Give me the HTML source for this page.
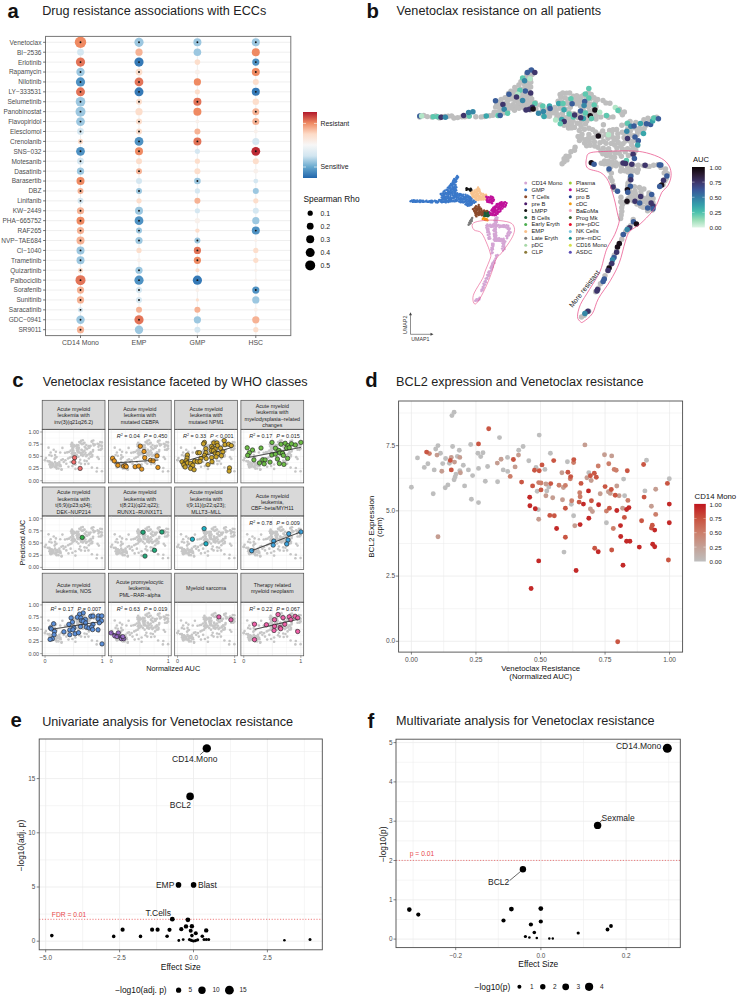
<!DOCTYPE html>
<html><head><meta charset="utf-8"><style>
html,body{margin:0;padding:0;background:#fff;width:737px;height:1000px;overflow:hidden}
svg{display:block;font-family:"Liberation Sans",sans-serif}
</style></head><body>
<svg width="737" height="1000" viewBox="0 0 737 1000">
<rect width="737" height="1000" fill="#fff"/>
<g stroke="#ebebeb" stroke-width="0.8">
<line x1="45.5" y1="42.30" x2="290.8" y2="42.30"/>
<line x1="45.5" y1="52.21" x2="290.8" y2="52.21"/>
<line x1="45.5" y1="62.12" x2="290.8" y2="62.12"/>
<line x1="45.5" y1="72.03" x2="290.8" y2="72.03"/>
<line x1="45.5" y1="81.94" x2="290.8" y2="81.94"/>
<line x1="45.5" y1="91.85" x2="290.8" y2="91.85"/>
<line x1="45.5" y1="101.76" x2="290.8" y2="101.76"/>
<line x1="45.5" y1="111.67" x2="290.8" y2="111.67"/>
<line x1="45.5" y1="121.58" x2="290.8" y2="121.58"/>
<line x1="45.5" y1="131.49" x2="290.8" y2="131.49"/>
<line x1="45.5" y1="141.40" x2="290.8" y2="141.40"/>
<line x1="45.5" y1="151.31" x2="290.8" y2="151.31"/>
<line x1="45.5" y1="161.22" x2="290.8" y2="161.22"/>
<line x1="45.5" y1="171.13" x2="290.8" y2="171.13"/>
<line x1="45.5" y1="181.04" x2="290.8" y2="181.04"/>
<line x1="45.5" y1="190.95" x2="290.8" y2="190.95"/>
<line x1="45.5" y1="200.86" x2="290.8" y2="200.86"/>
<line x1="45.5" y1="210.77" x2="290.8" y2="210.77"/>
<line x1="45.5" y1="220.68" x2="290.8" y2="220.68"/>
<line x1="45.5" y1="230.59" x2="290.8" y2="230.59"/>
<line x1="45.5" y1="240.50" x2="290.8" y2="240.50"/>
<line x1="45.5" y1="250.41" x2="290.8" y2="250.41"/>
<line x1="45.5" y1="260.32" x2="290.8" y2="260.32"/>
<line x1="45.5" y1="270.23" x2="290.8" y2="270.23"/>
<line x1="45.5" y1="280.14" x2="290.8" y2="280.14"/>
<line x1="45.5" y1="290.05" x2="290.8" y2="290.05"/>
<line x1="45.5" y1="299.96" x2="290.8" y2="299.96"/>
<line x1="45.5" y1="309.87" x2="290.8" y2="309.87"/>
<line x1="45.5" y1="319.78" x2="290.8" y2="319.78"/>
<line x1="45.5" y1="329.69" x2="290.8" y2="329.69"/>
<line x1="80.5" y1="36.4" x2="80.5" y2="335.6"/>
<line x1="139.0" y1="36.4" x2="139.0" y2="335.6"/>
<line x1="197.4" y1="36.4" x2="197.4" y2="335.6"/>
<line x1="255.8" y1="36.4" x2="255.8" y2="335.6"/>
</g>
<circle cx="80.5" cy="42.30" r="5.7" fill="#ef8a62"/>
<circle cx="80.5" cy="42.30" r="0.95" fill="#111"/>
<circle cx="139.0" cy="42.30" r="4.6" fill="#9cc7e0"/>
<circle cx="139.0" cy="42.30" r="0.95" fill="#111"/>
<circle cx="197.4" cy="42.30" r="4.0" fill="#9cc7e0"/>
<circle cx="197.4" cy="42.30" r="0.95" fill="#111"/>
<circle cx="255.8" cy="42.30" r="4.0" fill="#9cc7e0"/>
<circle cx="255.8" cy="42.30" r="0.95" fill="#111"/>
<circle cx="80.5" cy="52.21" r="3.4" fill="#d5e7f1"/>
<circle cx="139.0" cy="52.21" r="3.6" fill="#f6b294"/>
<circle cx="197.4" cy="52.21" r="3.8" fill="#9cc7e0"/>
<circle cx="255.8" cy="52.21" r="4.0" fill="#ef8a62"/>
<circle cx="80.5" cy="62.12" r="4.6" fill="#e37458"/>
<circle cx="80.5" cy="62.12" r="0.95" fill="#111"/>
<circle cx="139.0" cy="62.12" r="4.6" fill="#367ab7"/>
<circle cx="139.0" cy="62.12" r="0.95" fill="#111"/>
<circle cx="197.4" cy="62.12" r="2.8" fill="#fcdecc"/>
<circle cx="255.8" cy="62.12" r="3.6" fill="#4f92c3"/>
<circle cx="255.8" cy="62.12" r="0.95" fill="#111"/>
<circle cx="80.5" cy="72.03" r="4.2" fill="#9cc7e0"/>
<circle cx="80.5" cy="72.03" r="0.95" fill="#111"/>
<circle cx="139.0" cy="72.03" r="3.4" fill="#fcdecc"/>
<circle cx="139.0" cy="72.03" r="0.95" fill="#111"/>
<circle cx="197.4" cy="72.03" r="2.5" fill="#f8f0eb"/>
<circle cx="255.8" cy="72.03" r="4.0" fill="#ef8a62"/>
<circle cx="255.8" cy="72.03" r="0.95" fill="#111"/>
<circle cx="80.5" cy="81.94" r="4.6" fill="#4f92c3"/>
<circle cx="80.5" cy="81.94" r="0.95" fill="#111"/>
<circle cx="139.0" cy="81.94" r="4.4" fill="#e37458"/>
<circle cx="139.0" cy="81.94" r="0.95" fill="#111"/>
<circle cx="197.4" cy="81.94" r="3.6" fill="#ef8a62"/>
<circle cx="255.8" cy="81.94" r="3.0" fill="#fcdecc"/>
<circle cx="80.5" cy="91.85" r="4.5" fill="#e37458"/>
<circle cx="80.5" cy="91.85" r="0.95" fill="#111"/>
<circle cx="139.0" cy="91.85" r="4.5" fill="#367ab7"/>
<circle cx="139.0" cy="91.85" r="0.95" fill="#111"/>
<circle cx="197.4" cy="91.85" r="2.6" fill="#fcdecc"/>
<circle cx="255.8" cy="91.85" r="4.0" fill="#367ab7"/>
<circle cx="255.8" cy="91.85" r="0.95" fill="#111"/>
<circle cx="80.5" cy="101.76" r="4.8" fill="#9cc7e0"/>
<circle cx="80.5" cy="101.76" r="0.95" fill="#111"/>
<circle cx="139.0" cy="101.76" r="3.0" fill="#fcdecc"/>
<circle cx="139.0" cy="101.76" r="0.95" fill="#111"/>
<circle cx="197.4" cy="101.76" r="4.0" fill="#e37458"/>
<circle cx="197.4" cy="101.76" r="0.95" fill="#111"/>
<circle cx="255.8" cy="101.76" r="3.2" fill="#fcdecc"/>
<circle cx="80.5" cy="111.67" r="5.0" fill="#9cc7e0"/>
<circle cx="80.5" cy="111.67" r="0.95" fill="#111"/>
<circle cx="139.0" cy="111.67" r="3.6" fill="#fcdecc"/>
<circle cx="197.4" cy="111.67" r="4.0" fill="#ef8a62"/>
<circle cx="255.8" cy="111.67" r="3.5" fill="#f6b294"/>
<circle cx="255.8" cy="111.67" r="0.95" fill="#111"/>
<circle cx="80.5" cy="121.58" r="4.4" fill="#9cc7e0"/>
<circle cx="80.5" cy="121.58" r="0.95" fill="#111"/>
<circle cx="139.0" cy="121.58" r="3.0" fill="#fcdecc"/>
<circle cx="139.0" cy="121.58" r="0.95" fill="#111"/>
<circle cx="197.4" cy="121.58" r="2.0" fill="#f8f0eb"/>
<circle cx="255.8" cy="121.58" r="3.5" fill="#f6b294"/>
<circle cx="255.8" cy="121.58" r="0.95" fill="#111"/>
<circle cx="80.5" cy="131.49" r="3.4" fill="#d5e7f1"/>
<circle cx="80.5" cy="131.49" r="0.95" fill="#111"/>
<circle cx="139.0" cy="131.49" r="3.0" fill="#fcdecc"/>
<circle cx="139.0" cy="131.49" r="0.95" fill="#111"/>
<circle cx="197.4" cy="131.49" r="3.0" fill="#f6b294"/>
<circle cx="255.8" cy="131.49" r="2.0" fill="#f8f0eb"/>
<circle cx="80.5" cy="141.40" r="2.6" fill="#fcdecc"/>
<circle cx="80.5" cy="141.40" r="0.95" fill="#111"/>
<circle cx="139.0" cy="141.40" r="4.4" fill="#4f92c3"/>
<circle cx="139.0" cy="141.40" r="0.95" fill="#111"/>
<circle cx="197.4" cy="141.40" r="4.0" fill="#e37458"/>
<circle cx="197.4" cy="141.40" r="0.95" fill="#111"/>
<circle cx="255.8" cy="141.40" r="3.5" fill="#d5e7f1"/>
<circle cx="80.5" cy="151.31" r="4.4" fill="#4f92c3"/>
<circle cx="80.5" cy="151.31" r="0.95" fill="#111"/>
<circle cx="139.0" cy="151.31" r="4.0" fill="#ef8a62"/>
<circle cx="139.0" cy="151.31" r="0.95" fill="#111"/>
<circle cx="197.4" cy="151.31" r="2.6" fill="#d5e7f1"/>
<circle cx="255.8" cy="151.31" r="4.4" fill="#bb2933"/>
<circle cx="255.8" cy="151.31" r="0.95" fill="#111"/>
<circle cx="80.5" cy="161.22" r="3.4" fill="#d5e7f1"/>
<circle cx="80.5" cy="161.22" r="0.95" fill="#111"/>
<circle cx="139.0" cy="161.22" r="3.0" fill="#fcdecc"/>
<circle cx="197.4" cy="161.22" r="2.6" fill="#fcdecc"/>
<circle cx="255.8" cy="161.22" r="3.0" fill="#fcdecc"/>
<circle cx="80.5" cy="171.13" r="3.6" fill="#9cc7e0"/>
<circle cx="80.5" cy="171.13" r="0.95" fill="#111"/>
<circle cx="139.0" cy="171.13" r="3.0" fill="#f6b294"/>
<circle cx="139.0" cy="171.13" r="0.95" fill="#111"/>
<circle cx="197.4" cy="171.13" r="3.0" fill="#fcdecc"/>
<circle cx="255.8" cy="171.13" r="2.4" fill="#f8f0eb"/>
<circle cx="80.5" cy="181.04" r="4.0" fill="#ef8a62"/>
<circle cx="80.5" cy="181.04" r="0.95" fill="#111"/>
<circle cx="139.0" cy="181.04" r="3.0" fill="#d5e7f1"/>
<circle cx="197.4" cy="181.04" r="3.3" fill="#9cc7e0"/>
<circle cx="197.4" cy="181.04" r="0.95" fill="#111"/>
<circle cx="255.8" cy="181.04" r="2.4" fill="#d5e7f1"/>
<circle cx="80.5" cy="190.95" r="3.0" fill="#f6b294"/>
<circle cx="80.5" cy="190.95" r="0.95" fill="#111"/>
<circle cx="139.0" cy="190.95" r="3.0" fill="#9cc7e0"/>
<circle cx="139.0" cy="190.95" r="0.95" fill="#111"/>
<circle cx="197.4" cy="190.95" r="2.6" fill="#d5e7f1"/>
<circle cx="255.8" cy="190.95" r="3.0" fill="#9cc7e0"/>
<circle cx="80.5" cy="200.86" r="3.0" fill="#d5e7f1"/>
<circle cx="80.5" cy="200.86" r="0.95" fill="#111"/>
<circle cx="139.0" cy="200.86" r="2.6" fill="#fcdecc"/>
<circle cx="197.4" cy="200.86" r="3.0" fill="#f6b294"/>
<circle cx="255.8" cy="200.86" r="2.6" fill="#fcdecc"/>
<circle cx="80.5" cy="210.77" r="3.6" fill="#f6b294"/>
<circle cx="80.5" cy="210.77" r="0.95" fill="#111"/>
<circle cx="139.0" cy="210.77" r="4.0" fill="#9cc7e0"/>
<circle cx="139.0" cy="210.77" r="0.95" fill="#111"/>
<circle cx="197.4" cy="210.77" r="2.6" fill="#d5e7f1"/>
<circle cx="255.8" cy="210.77" r="3.0" fill="#d5e7f1"/>
<circle cx="80.5" cy="220.68" r="4.0" fill="#ef8a62"/>
<circle cx="80.5" cy="220.68" r="0.95" fill="#111"/>
<circle cx="139.0" cy="220.68" r="4.4" fill="#4f92c3"/>
<circle cx="139.0" cy="220.68" r="0.95" fill="#111"/>
<circle cx="197.4" cy="220.68" r="2.6" fill="#f8f0eb"/>
<circle cx="255.8" cy="220.68" r="3.6" fill="#9cc7e0"/>
<circle cx="80.5" cy="230.59" r="3.6" fill="#f6b294"/>
<circle cx="80.5" cy="230.59" r="0.95" fill="#111"/>
<circle cx="139.0" cy="230.59" r="3.0" fill="#9cc7e0"/>
<circle cx="139.0" cy="230.59" r="0.95" fill="#111"/>
<circle cx="197.4" cy="230.59" r="2.2" fill="#fcdecc"/>
<circle cx="255.8" cy="230.59" r="4.0" fill="#4f92c3"/>
<circle cx="255.8" cy="230.59" r="0.95" fill="#111"/>
<circle cx="80.5" cy="240.50" r="4.0" fill="#f6b294"/>
<circle cx="80.5" cy="240.50" r="0.95" fill="#111"/>
<circle cx="139.0" cy="240.50" r="3.6" fill="#9cc7e0"/>
<circle cx="139.0" cy="240.50" r="0.95" fill="#111"/>
<circle cx="197.4" cy="240.50" r="3.0" fill="#9cc7e0"/>
<circle cx="197.4" cy="240.50" r="0.95" fill="#111"/>
<circle cx="255.8" cy="240.50" r="1.6" fill="#f8f0eb"/>
<circle cx="80.5" cy="250.41" r="4.0" fill="#9cc7e0"/>
<circle cx="80.5" cy="250.41" r="0.95" fill="#111"/>
<circle cx="139.0" cy="250.41" r="2.6" fill="#fcdecc"/>
<circle cx="197.4" cy="250.41" r="3.6" fill="#e37458"/>
<circle cx="197.4" cy="250.41" r="0.95" fill="#111"/>
<circle cx="255.8" cy="250.41" r="2.6" fill="#fcdecc"/>
<circle cx="80.5" cy="260.32" r="4.0" fill="#9cc7e0"/>
<circle cx="80.5" cy="260.32" r="0.95" fill="#111"/>
<circle cx="139.0" cy="260.32" r="2.0" fill="#f8f0eb"/>
<circle cx="197.4" cy="260.32" r="3.6" fill="#ef8a62"/>
<circle cx="197.4" cy="260.32" r="0.95" fill="#111"/>
<circle cx="255.8" cy="260.32" r="2.6" fill="#fcdecc"/>
<circle cx="80.5" cy="270.23" r="2.6" fill="#fcdecc"/>
<circle cx="80.5" cy="270.23" r="0.95" fill="#111"/>
<circle cx="139.0" cy="270.23" r="3.6" fill="#9cc7e0"/>
<circle cx="139.0" cy="270.23" r="0.95" fill="#111"/>
<circle cx="197.4" cy="270.23" r="2.0" fill="#fcdecc"/>
<circle cx="255.8" cy="270.23" r="1.6" fill="#f8f0eb"/>
<circle cx="80.5" cy="280.14" r="5.0" fill="#e37458"/>
<circle cx="80.5" cy="280.14" r="0.95" fill="#111"/>
<circle cx="139.0" cy="280.14" r="4.6" fill="#4f92c3"/>
<circle cx="139.0" cy="280.14" r="0.95" fill="#111"/>
<circle cx="197.4" cy="280.14" r="4.6" fill="#367ab7"/>
<circle cx="197.4" cy="280.14" r="0.95" fill="#111"/>
<circle cx="255.8" cy="280.14" r="1.6" fill="#f8f0eb"/>
<circle cx="80.5" cy="290.05" r="3.6" fill="#f6b294"/>
<circle cx="80.5" cy="290.05" r="0.95" fill="#111"/>
<circle cx="139.0" cy="290.05" r="3.0" fill="#d5e7f1"/>
<circle cx="139.0" cy="290.05" r="0.95" fill="#111"/>
<circle cx="197.4" cy="290.05" r="2.0" fill="#f8f0eb"/>
<circle cx="255.8" cy="290.05" r="3.6" fill="#4f92c3"/>
<circle cx="255.8" cy="290.05" r="0.95" fill="#111"/>
<circle cx="80.5" cy="299.96" r="3.6" fill="#f6b294"/>
<circle cx="80.5" cy="299.96" r="0.95" fill="#111"/>
<circle cx="139.0" cy="299.96" r="3.0" fill="#d5e7f1"/>
<circle cx="139.0" cy="299.96" r="0.95" fill="#111"/>
<circle cx="197.4" cy="299.96" r="1.6" fill="#fcdecc"/>
<circle cx="255.8" cy="299.96" r="3.6" fill="#9cc7e0"/>
<circle cx="80.5" cy="309.87" r="2.6" fill="#d5e7f1"/>
<circle cx="80.5" cy="309.87" r="0.95" fill="#111"/>
<circle cx="139.0" cy="309.87" r="3.0" fill="#f6b294"/>
<circle cx="197.4" cy="309.87" r="3.0" fill="#f6b294"/>
<circle cx="255.8" cy="309.87" r="2.0" fill="#f8f0eb"/>
<circle cx="80.5" cy="319.78" r="4.2" fill="#9cc7e0"/>
<circle cx="80.5" cy="319.78" r="0.95" fill="#111"/>
<circle cx="139.0" cy="319.78" r="4.6" fill="#e37458"/>
<circle cx="139.0" cy="319.78" r="0.95" fill="#111"/>
<circle cx="197.4" cy="319.78" r="3.6" fill="#9cc7e0"/>
<circle cx="255.8" cy="319.78" r="3.6" fill="#f6b294"/>
<circle cx="80.5" cy="329.69" r="3.6" fill="#f6b294"/>
<circle cx="80.5" cy="329.69" r="0.95" fill="#111"/>
<circle cx="139.0" cy="329.69" r="4.2" fill="#9cc7e0"/>
<circle cx="197.4" cy="329.69" r="3.0" fill="#d5e7f1"/>
<circle cx="255.8" cy="329.69" r="2.6" fill="#fcdecc"/>
<rect x="45.5" y="36.4" width="245.3" height="299.20000000000005" fill="none" stroke="#777" stroke-width="1"/>
<g stroke="#4d4d4d" stroke-width="0.8">
<line x1="43.1" y1="42.30" x2="45.5" y2="42.30"/>
<line x1="43.1" y1="52.21" x2="45.5" y2="52.21"/>
<line x1="43.1" y1="62.12" x2="45.5" y2="62.12"/>
<line x1="43.1" y1="72.03" x2="45.5" y2="72.03"/>
<line x1="43.1" y1="81.94" x2="45.5" y2="81.94"/>
<line x1="43.1" y1="91.85" x2="45.5" y2="91.85"/>
<line x1="43.1" y1="101.76" x2="45.5" y2="101.76"/>
<line x1="43.1" y1="111.67" x2="45.5" y2="111.67"/>
<line x1="43.1" y1="121.58" x2="45.5" y2="121.58"/>
<line x1="43.1" y1="131.49" x2="45.5" y2="131.49"/>
<line x1="43.1" y1="141.40" x2="45.5" y2="141.40"/>
<line x1="43.1" y1="151.31" x2="45.5" y2="151.31"/>
<line x1="43.1" y1="161.22" x2="45.5" y2="161.22"/>
<line x1="43.1" y1="171.13" x2="45.5" y2="171.13"/>
<line x1="43.1" y1="181.04" x2="45.5" y2="181.04"/>
<line x1="43.1" y1="190.95" x2="45.5" y2="190.95"/>
<line x1="43.1" y1="200.86" x2="45.5" y2="200.86"/>
<line x1="43.1" y1="210.77" x2="45.5" y2="210.77"/>
<line x1="43.1" y1="220.68" x2="45.5" y2="220.68"/>
<line x1="43.1" y1="230.59" x2="45.5" y2="230.59"/>
<line x1="43.1" y1="240.50" x2="45.5" y2="240.50"/>
<line x1="43.1" y1="250.41" x2="45.5" y2="250.41"/>
<line x1="43.1" y1="260.32" x2="45.5" y2="260.32"/>
<line x1="43.1" y1="270.23" x2="45.5" y2="270.23"/>
<line x1="43.1" y1="280.14" x2="45.5" y2="280.14"/>
<line x1="43.1" y1="290.05" x2="45.5" y2="290.05"/>
<line x1="43.1" y1="299.96" x2="45.5" y2="299.96"/>
<line x1="43.1" y1="309.87" x2="45.5" y2="309.87"/>
<line x1="43.1" y1="319.78" x2="45.5" y2="319.78"/>
<line x1="43.1" y1="329.69" x2="45.5" y2="329.69"/>
<line x1="80.5" y1="335.6" x2="80.5" y2="338.0"/>
<line x1="139.0" y1="335.6" x2="139.0" y2="338.0"/>
<line x1="197.4" y1="335.6" x2="197.4" y2="338.0"/>
<line x1="255.8" y1="335.6" x2="255.8" y2="338.0"/>
</g>
<g font-size="6.5" fill="#4d4d4d" text-anchor="end">
<text x="41.4" y="44.70">Venetoclax</text>
<text x="41.4" y="54.61">BI−2536</text>
<text x="41.4" y="64.52">Erlotinib</text>
<text x="41.4" y="74.43">Rapamycin</text>
<text x="41.4" y="84.34">Nilotinib</text>
<text x="41.4" y="94.25">LY−333531</text>
<text x="41.4" y="104.16">Selumetinib</text>
<text x="41.4" y="114.07">Panobinostat</text>
<text x="41.4" y="123.98">Flavopiridol</text>
<text x="41.4" y="133.89">Elesclomol</text>
<text x="41.4" y="143.80">Crenolanib</text>
<text x="41.4" y="153.71">SNS−032</text>
<text x="41.4" y="163.62">Motesanib</text>
<text x="41.4" y="173.53">Dasatinib</text>
<text x="41.4" y="183.44">Barasertib</text>
<text x="41.4" y="193.35">DBZ</text>
<text x="41.4" y="203.26">Linifanib</text>
<text x="41.4" y="213.17">KW−2449</text>
<text x="41.4" y="223.08">PHA−665752</text>
<text x="41.4" y="232.99">RAF265</text>
<text x="41.4" y="242.90">NVP−TAE684</text>
<text x="41.4" y="252.81">CI−1040</text>
<text x="41.4" y="262.72">Trametinib</text>
<text x="41.4" y="272.63">Quizartinib</text>
<text x="41.4" y="282.54">Palbociclib</text>
<text x="41.4" y="292.45">Sorafenib</text>
<text x="41.4" y="302.36">Sunitinib</text>
<text x="41.4" y="312.27">Saracatinib</text>
<text x="41.4" y="322.18">GDC−0941</text>
<text x="41.4" y="332.09">SR9011</text>
</g>
<g font-size="6.9" fill="#4d4d4d" text-anchor="middle">
<text x="80.5" y="345.1">CD14 Mono</text>
<text x="139.0" y="345.1">EMP</text>
<text x="197.4" y="345.1">GMP</text>
<text x="255.8" y="345.1">HSC</text>
</g>
<defs><linearGradient id="rdbu" x1="0" y1="1" x2="0" y2="0">
<stop offset="0.000" stop-color="#2166ac"/>
<stop offset="0.167" stop-color="#67a9cf"/>
<stop offset="0.333" stop-color="#d1e5f0"/>
<stop offset="0.500" stop-color="#f7f7f7"/>
<stop offset="0.667" stop-color="#fddbc7"/>
<stop offset="0.833" stop-color="#ef8a62"/>
<stop offset="1.000" stop-color="#b2182b"/>
</linearGradient></defs>
<rect x="303" y="112" width="14" height="66" fill="url(#rdbu)"/>
<g stroke="#fff" stroke-width="0.6"><line x1="303" y1="123.4" x2="306" y2="123.4"/><line x1="314" y1="123.4" x2="317" y2="123.4"/><line x1="303" y1="167" x2="306" y2="167"/><line x1="314" y1="167" x2="317" y2="167"/></g>
<g font-size="6.9" fill="#222"><text x="320.5" y="125.8">Resistant</text><text x="320.5" y="169.4">Sensitive</text></g>
<text x="303.5" y="201.6" font-size="8.35" fill="#111">Spearman Rho</text>
<circle cx="310.2" cy="213.2" r="2.6" fill="#000"/>
<text x="320.5" y="215.6" font-size="6.9" fill="#222">0.1</text>
<circle cx="310.2" cy="226.2" r="3.4" fill="#000"/>
<text x="320.5" y="228.6" font-size="6.9" fill="#222">0.2</text>
<circle cx="310.2" cy="239.3" r="4.0" fill="#000"/>
<text x="320.5" y="241.70000000000002" font-size="6.9" fill="#222">0.3</text>
<circle cx="310.2" cy="252.6" r="4.5" fill="#000"/>
<text x="320.5" y="255.0" font-size="6.9" fill="#222">0.4</text>
<circle cx="310.2" cy="265.4" r="5.0" fill="#000"/>
<text x="320.5" y="267.79999999999995" font-size="6.9" fill="#222">0.5</text>
<text x="7.5" y="17.8" font-size="20.3" font-weight="bold" fill="#111">a</text>
<text x="42.2" y="14.8" font-size="12.65" fill="#222">Drug resistance associations with ECCs</text>
<g fill="#bebebe">
<circle cx="475.8" cy="116.8" r="2.7"/>
<circle cx="435.7" cy="116.0" r="2.7"/>
<circle cx="469.1" cy="116.2" r="2.7"/>
<circle cx="481.2" cy="116.9" r="2.7"/>
<circle cx="492.9" cy="115.3" r="2.7"/>
<circle cx="484.4" cy="116.5" r="2.7"/>
<circle cx="448.1" cy="116.2" r="2.7"/>
<circle cx="439.5" cy="117.9" r="2.7"/>
<circle cx="432.0" cy="117.0" r="2.7"/>
<circle cx="461.9" cy="116.8" r="2.7"/>
<circle cx="489.6" cy="115.8" r="2.7"/>
<circle cx="427.3" cy="116.6" r="2.7"/>
<circle cx="423.7" cy="115.5" r="2.7"/>
<circle cx="419.7" cy="117.0" r="2.7"/>
<circle cx="453.9" cy="118.0" r="2.7"/>
<circle cx="441.9" cy="116.6" r="2.7"/>
<circle cx="445.0" cy="116.4" r="2.7"/>
<circle cx="451.6" cy="115.9" r="2.7"/>
<circle cx="457.7" cy="117.6" r="2.7"/>
<circle cx="464.9" cy="116.8" r="2.7"/>
<circle cx="527.7" cy="84.8" r="2.7"/>
<circle cx="540.5" cy="104.9" r="2.7"/>
<circle cx="530.4" cy="79.4" r="2.7"/>
<circle cx="512.6" cy="99.0" r="2.7"/>
<circle cx="535.8" cy="105.8" r="2.7"/>
<circle cx="501.2" cy="109.6" r="2.7"/>
<circle cx="515.5" cy="107.4" r="2.7"/>
<circle cx="501.1" cy="99.4" r="2.7"/>
<circle cx="527.2" cy="81.8" r="2.7"/>
<circle cx="500.0" cy="102.2" r="2.7"/>
<circle cx="532.7" cy="71.6" r="2.7"/>
<circle cx="512.1" cy="94.8" r="2.7"/>
<circle cx="524.3" cy="102.2" r="2.7"/>
<circle cx="508.3" cy="105.0" r="2.7"/>
<circle cx="542.9" cy="114.7" r="2.7"/>
<circle cx="512.9" cy="104.8" r="2.7"/>
<circle cx="521.7" cy="97.8" r="2.7"/>
<circle cx="507.2" cy="101.4" r="2.7"/>
<circle cx="535.9" cy="108.8" r="2.7"/>
<circle cx="528.9" cy="106.4" r="2.7"/>
<circle cx="522.9" cy="79.1" r="2.7"/>
<circle cx="532.3" cy="105.7" r="2.7"/>
<circle cx="531.7" cy="98.9" r="2.7"/>
<circle cx="518.9" cy="85.0" r="2.7"/>
<circle cx="542.6" cy="108.4" r="2.7"/>
<circle cx="521.1" cy="91.9" r="2.7"/>
<circle cx="516.1" cy="98.1" r="2.7"/>
<circle cx="498.6" cy="107.2" r="2.7"/>
<circle cx="507.5" cy="111.2" r="2.7"/>
<circle cx="517.7" cy="105.3" r="2.7"/>
<circle cx="524.1" cy="91.5" r="2.7"/>
<circle cx="520.6" cy="89.1" r="2.7"/>
<circle cx="521.0" cy="105.5" r="2.7"/>
<circle cx="520.9" cy="81.8" r="2.7"/>
<circle cx="532.1" cy="74.6" r="2.7"/>
<circle cx="516.4" cy="89.9" r="2.7"/>
<circle cx="514.5" cy="110.2" r="2.7"/>
<circle cx="526.9" cy="98.1" r="2.7"/>
<circle cx="529.6" cy="76.1" r="2.7"/>
<circle cx="531.5" cy="102.4" r="2.7"/>
<circle cx="530.2" cy="110.1" r="2.7"/>
<circle cx="552.5" cy="112.8" r="2.7"/>
<circle cx="544.7" cy="110.4" r="2.7"/>
<circle cx="503.1" cy="106.8" r="2.7"/>
<circle cx="519.0" cy="108.3" r="2.7"/>
<circle cx="522.1" cy="94.9" r="2.7"/>
<circle cx="535.4" cy="102.7" r="2.7"/>
<circle cx="500.6" cy="112.8" r="2.7"/>
<circle cx="507.8" cy="97.0" r="2.7"/>
<circle cx="528.1" cy="89.1" r="2.7"/>
<circle cx="550.7" cy="110.2" r="2.7"/>
<circle cx="515.4" cy="101.1" r="2.7"/>
<circle cx="540.8" cy="112.6" r="2.7"/>
<circle cx="494.2" cy="112.2" r="2.7"/>
<circle cx="527.7" cy="95.1" r="2.7"/>
<circle cx="523.6" cy="107.7" r="2.7"/>
<circle cx="548.1" cy="108.7" r="2.7"/>
<circle cx="529.7" cy="92.1" r="2.7"/>
<circle cx="530.0" cy="70.7" r="2.7"/>
<circle cx="506.4" cy="107.4" r="2.7"/>
<circle cx="526.7" cy="108.9" r="2.7"/>
<circle cx="525.6" cy="105.4" r="2.7"/>
<circle cx="530.8" cy="82.3" r="2.7"/>
<circle cx="549.4" cy="116.2" r="2.7"/>
<circle cx="510.9" cy="91.3" r="2.7"/>
<circle cx="505.1" cy="97.7" r="2.7"/>
<circle cx="503.7" cy="112.9" r="2.7"/>
<circle cx="514.3" cy="92.0" r="2.7"/>
<circle cx="523.9" cy="83.7" r="2.7"/>
<circle cx="528.4" cy="102.1" r="2.7"/>
<circle cx="526.1" cy="77.8" r="2.7"/>
<circle cx="530.7" cy="86.9" r="2.7"/>
<circle cx="496.8" cy="104.2" r="2.7"/>
<circle cx="504.8" cy="103.6" r="2.7"/>
<circle cx="516.5" cy="94.6" r="2.7"/>
<circle cx="518.9" cy="96.3" r="2.7"/>
<circle cx="511.3" cy="108.1" r="2.7"/>
<circle cx="530.5" cy="94.9" r="2.7"/>
<circle cx="518.5" cy="100.2" r="2.7"/>
<circle cx="495.6" cy="107.1" r="2.7"/>
<circle cx="546.5" cy="115.9" r="2.7"/>
<circle cx="524.9" cy="95.0" r="2.7"/>
<circle cx="514.8" cy="87.5" r="2.7"/>
<circle cx="524.9" cy="87.4" r="2.7"/>
<circle cx="533.1" cy="108.7" r="2.7"/>
<circle cx="497.5" cy="112.2" r="2.7"/>
<circle cx="508.5" cy="93.4" r="2.7"/>
<circle cx="509.7" cy="99.1" r="2.7"/>
<circle cx="526.8" cy="74.3" r="2.7"/>
<circle cx="548.8" cy="113.4" r="2.7"/>
<circle cx="504.3" cy="109.8" r="2.7"/>
<circle cx="520.1" cy="102.5" r="2.7"/>
<circle cx="605.9" cy="102.9" r="2.7"/>
<circle cx="586.1" cy="112.9" r="2.7"/>
<circle cx="569.8" cy="104.6" r="2.7"/>
<circle cx="560.9" cy="97.2" r="2.7"/>
<circle cx="583.6" cy="95.1" r="2.7"/>
<circle cx="560.0" cy="108.3" r="2.7"/>
<circle cx="562.5" cy="113.4" r="2.7"/>
<circle cx="591.1" cy="104.0" r="2.7"/>
<circle cx="556.2" cy="110.5" r="2.7"/>
<circle cx="569.8" cy="121.5" r="2.7"/>
<circle cx="596.0" cy="119.0" r="2.7"/>
<circle cx="608.6" cy="117.2" r="2.7"/>
<circle cx="560.1" cy="94.4" r="2.7"/>
<circle cx="587.8" cy="98.4" r="2.7"/>
<circle cx="566.8" cy="117.7" r="2.7"/>
<circle cx="600.8" cy="116.9" r="2.7"/>
<circle cx="576.1" cy="103.7" r="2.7"/>
<circle cx="571.5" cy="123.6" r="2.7"/>
<circle cx="583.9" cy="103.8" r="2.7"/>
<circle cx="573.1" cy="116.6" r="2.7"/>
<circle cx="580.0" cy="111.5" r="2.7"/>
<circle cx="571.5" cy="101.4" r="2.7"/>
<circle cx="578.1" cy="117.6" r="2.7"/>
<circle cx="585.6" cy="117.3" r="2.7"/>
<circle cx="564.8" cy="97.7" r="2.7"/>
<circle cx="593.2" cy="117.2" r="2.7"/>
<circle cx="555.5" cy="113.3" r="2.7"/>
<circle cx="590.7" cy="98.4" r="2.7"/>
<circle cx="609.9" cy="103.3" r="2.7"/>
<circle cx="590.8" cy="118.8" r="2.7"/>
<circle cx="620.9" cy="112.3" r="2.7"/>
<circle cx="574.5" cy="127.4" r="2.7"/>
<circle cx="557.9" cy="114.7" r="2.7"/>
<circle cx="587.8" cy="103.3" r="2.7"/>
<circle cx="619.4" cy="109.2" r="2.7"/>
<circle cx="567.8" cy="99.1" r="2.7"/>
<circle cx="569.2" cy="112.4" r="2.7"/>
<circle cx="595.4" cy="102.2" r="2.7"/>
<circle cx="597.7" cy="99.5" r="2.7"/>
<circle cx="580.2" cy="123.6" r="2.7"/>
<circle cx="573.4" cy="96.3" r="2.7"/>
<circle cx="569.7" cy="93.0" r="2.7"/>
<circle cx="563.9" cy="121.6" r="2.7"/>
<circle cx="565.9" cy="109.2" r="2.7"/>
<circle cx="594.0" cy="112.0" r="2.7"/>
<circle cx="582.1" cy="117.0" r="2.7"/>
<circle cx="580.8" cy="100.6" r="2.7"/>
<circle cx="577.6" cy="114.6" r="2.7"/>
<circle cx="574.3" cy="99.8" r="2.7"/>
<circle cx="585.5" cy="123.9" r="2.7"/>
<circle cx="606.1" cy="115.8" r="2.7"/>
<circle cx="596.6" cy="114.6" r="2.7"/>
<circle cx="591.2" cy="114.9" r="2.7"/>
<circle cx="584.4" cy="100.9" r="2.7"/>
<circle cx="580.3" cy="105.7" r="2.7"/>
<circle cx="593.9" cy="105.0" r="2.7"/>
<circle cx="603.0" cy="100.5" r="2.7"/>
<circle cx="566.6" cy="93.1" r="2.7"/>
<circle cx="578.0" cy="101.6" r="2.7"/>
<circle cx="586.8" cy="121.1" r="2.7"/>
<circle cx="577.1" cy="123.2" r="2.7"/>
<circle cx="567.5" cy="124.9" r="2.7"/>
<circle cx="576.7" cy="95.8" r="2.7"/>
<circle cx="588.4" cy="106.7" r="2.7"/>
<circle cx="570.4" cy="118.2" r="2.7"/>
<circle cx="589.3" cy="111.3" r="2.7"/>
<circle cx="588.4" cy="93.0" r="2.7"/>
<circle cx="558.1" cy="101.3" r="2.7"/>
<circle cx="560.1" cy="118.4" r="2.7"/>
<circle cx="594.1" cy="97.7" r="2.7"/>
<circle cx="571.5" cy="127.9" r="2.7"/>
<circle cx="613.0" cy="116.9" r="2.7"/>
<circle cx="559.7" cy="105.2" r="2.7"/>
<circle cx="593.8" cy="108.8" r="2.7"/>
<circle cx="563.3" cy="117.3" r="2.7"/>
<circle cx="564.1" cy="125.3" r="2.7"/>
<circle cx="591.2" cy="94.5" r="2.7"/>
<circle cx="561.6" cy="101.9" r="2.7"/>
<circle cx="573.0" cy="120.6" r="2.7"/>
<circle cx="562.9" cy="105.7" r="2.7"/>
<circle cx="574.0" cy="113.7" r="2.7"/>
<circle cx="561.6" cy="123.3" r="2.7"/>
<circle cx="583.2" cy="109.1" r="2.7"/>
<circle cx="570.3" cy="107.3" r="2.7"/>
<circle cx="583.2" cy="114.1" r="2.7"/>
<circle cx="556.9" cy="117.5" r="2.7"/>
<circle cx="581.1" cy="126.4" r="2.7"/>
<circle cx="624.4" cy="112.0" r="2.7"/>
<circle cx="581.6" cy="120.3" r="2.7"/>
<circle cx="622.4" cy="114.8" r="2.7"/>
<circle cx="581.0" cy="96.7" r="2.7"/>
<circle cx="586.3" cy="95.9" r="2.7"/>
<circle cx="554.8" cy="107.4" r="2.7"/>
<circle cx="566.5" cy="103.2" r="2.7"/>
<circle cx="596.0" cy="106.8" r="2.7"/>
<circle cx="562.8" cy="93.0" r="2.7"/>
<circle cx="568.5" cy="128.0" r="2.7"/>
<circle cx="577.3" cy="98.5" r="2.7"/>
<circle cx="626.0" cy="163.3" r="2.7"/>
<circle cx="627.6" cy="166.4" r="2.7"/>
<circle cx="660.9" cy="167.4" r="2.7"/>
<circle cx="666.3" cy="178.2" r="2.7"/>
<circle cx="643.5" cy="165.6" r="2.7"/>
<circle cx="664.2" cy="173.0" r="2.7"/>
<circle cx="607.8" cy="163.9" r="2.7"/>
<circle cx="630.7" cy="166.7" r="2.7"/>
<circle cx="604.6" cy="161.0" r="2.7"/>
<circle cx="649.2" cy="166.4" r="2.7"/>
<circle cx="653.6" cy="165.3" r="2.7"/>
<circle cx="664.9" cy="180.8" r="2.7"/>
<circle cx="622.0" cy="165.3" r="2.7"/>
<circle cx="665.5" cy="169.0" r="2.7"/>
<circle cx="601.3" cy="163.3" r="2.7"/>
<circle cx="613.0" cy="164.8" r="2.7"/>
<circle cx="633.2" cy="165.2" r="2.7"/>
<circle cx="657.8" cy="164.7" r="2.7"/>
<circle cx="646.2" cy="166.0" r="2.7"/>
<circle cx="615.8" cy="162.6" r="2.7"/>
<circle cx="638.3" cy="165.2" r="2.7"/>
<circle cx="604.2" cy="163.8" r="2.7"/>
<circle cx="612.1" cy="161.8" r="2.7"/>
<circle cx="616.0" cy="165.8" r="2.7"/>
<circle cx="619.5" cy="164.1" r="2.7"/>
<circle cx="667.4" cy="173.7" r="2.7"/>
<circle cx="660.1" cy="185.8" r="2.7"/>
<circle cx="608.4" cy="161.2" r="2.7"/>
<circle cx="663.1" cy="184.7" r="2.7"/>
<circle cx="634.5" cy="170.6" r="2.7"/>
<circle cx="620.6" cy="171.0" r="2.7"/>
<circle cx="638.2" cy="169.4" r="2.7"/>
<circle cx="628.0" cy="172.1" r="2.7"/>
<circle cx="621.3" cy="168.0" r="2.7"/>
<circle cx="630.8" cy="170.3" r="2.7"/>
<circle cx="624.7" cy="170.7" r="2.7"/>
<circle cx="637.3" cy="172.2" r="2.7"/>
<circle cx="628.1" cy="169.3" r="2.7"/>
<circle cx="612.1" cy="180.7" r="2.7"/>
<circle cx="611.4" cy="173.1" r="2.7"/>
<circle cx="614.5" cy="189.4" r="2.7"/>
<circle cx="609.2" cy="170.6" r="2.7"/>
<circle cx="610.5" cy="177.6" r="2.7"/>
<circle cx="613.2" cy="185.2" r="2.7"/>
<circle cx="610.7" cy="167.0" r="2.7"/>
<circle cx="630.1" cy="177.8" r="2.7"/>
<circle cx="631.0" cy="174.2" r="2.7"/>
<circle cx="627.3" cy="189.1" r="2.7"/>
<circle cx="627.9" cy="192.6" r="2.7"/>
<circle cx="629.4" cy="180.6" r="2.7"/>
<circle cx="627.7" cy="186.1" r="2.7"/>
<circle cx="628.0" cy="183.2" r="2.7"/>
<circle cx="629.9" cy="187.8" r="2.7"/>
<circle cx="640.9" cy="191.6" r="2.7"/>
<circle cx="645.9" cy="207.3" r="2.7"/>
<circle cx="635.4" cy="193.8" r="2.7"/>
<circle cx="640.6" cy="203.2" r="2.7"/>
<circle cx="643.9" cy="189.0" r="2.7"/>
<circle cx="639.4" cy="187.4" r="2.7"/>
<circle cx="630.4" cy="196.1" r="2.7"/>
<circle cx="650.6" cy="199.7" r="2.7"/>
<circle cx="650.0" cy="203.0" r="2.7"/>
<circle cx="647.8" cy="199.7" r="2.7"/>
<circle cx="639.8" cy="200.1" r="2.7"/>
<circle cx="652.4" cy="210.1" r="2.7"/>
<circle cx="641.1" cy="194.7" r="2.7"/>
<circle cx="636.9" cy="204.0" r="2.7"/>
<circle cx="649.0" cy="193.0" r="2.7"/>
<circle cx="634.1" cy="196.9" r="2.7"/>
<circle cx="635.0" cy="191.0" r="2.7"/>
<circle cx="643.3" cy="201.7" r="2.7"/>
<circle cx="649.7" cy="208.3" r="2.7"/>
<circle cx="637.1" cy="196.2" r="2.7"/>
<circle cx="633.5" cy="201.0" r="2.7"/>
<circle cx="643.1" cy="207.3" r="2.7"/>
<circle cx="653.1" cy="198.5" r="2.7"/>
<circle cx="634.4" cy="186.7" r="2.7"/>
<circle cx="630.9" cy="199.7" r="2.7"/>
<circle cx="628.0" cy="198.7" r="2.7"/>
<circle cx="653.4" cy="205.5" r="2.7"/>
<circle cx="644.1" cy="198.4" r="2.7"/>
<circle cx="651.2" cy="195.6" r="2.7"/>
<circle cx="647.4" cy="204.4" r="2.7"/>
<circle cx="630.9" cy="192.5" r="2.7"/>
<circle cx="647.6" cy="210.7" r="2.7"/>
<circle cx="652.9" cy="202.7" r="2.7"/>
<circle cx="640.5" cy="206.1" r="2.7"/>
<circle cx="648.3" cy="196.4" r="2.7"/>
<circle cx="620.6" cy="218.5" r="2.7"/>
<circle cx="621.7" cy="207.6" r="2.7"/>
<circle cx="621.0" cy="197.2" r="2.7"/>
<circle cx="620.7" cy="201.8" r="2.7"/>
<circle cx="621.8" cy="211.2" r="2.7"/>
<circle cx="621.2" cy="214.9" r="2.7"/>
<circle cx="624.3" cy="202.2" r="2.7"/>
<circle cx="622.4" cy="204.4" r="2.7"/>
<circle cx="627.1" cy="202.2" r="2.7"/>
<circle cx="621.8" cy="239.2" r="2.7"/>
<circle cx="617.4" cy="247.3" r="2.7"/>
<circle cx="598.2" cy="288.2" r="2.7"/>
<circle cx="607.6" cy="270.5" r="2.7"/>
<circle cx="595.6" cy="291.7" r="2.7"/>
<circle cx="603.9" cy="279.6" r="2.7"/>
<circle cx="619.3" cy="244.1" r="2.7"/>
<circle cx="610.8" cy="264.5" r="2.7"/>
<circle cx="609.4" cy="267.3" r="2.7"/>
<circle cx="600.4" cy="283.7" r="2.7"/>
<circle cx="612.6" cy="259.8" r="2.7"/>
<circle cx="628.3" cy="227.6" r="2.7"/>
<circle cx="625.7" cy="231.4" r="2.7"/>
<circle cx="616.7" cy="250.4" r="2.7"/>
<circle cx="614.3" cy="255.2" r="2.7"/>
<circle cx="622.8" cy="234.8" r="2.7"/>
<circle cx="605.0" cy="275.6" r="2.7"/>
<circle cx="630.6" cy="225.6" r="2.7"/>
<circle cx="633.2" cy="219.4" r="2.7"/>
<circle cx="584.2" cy="315.2" r="2.7"/>
<circle cx="588.7" cy="311.3" r="2.7"/>
<circle cx="581.5" cy="317.0" r="2.7"/>
<circle cx="586.1" cy="312.4" r="2.7"/>
<circle cx="570.9" cy="151.8" r="2.7"/>
<circle cx="566.0" cy="156.2" r="2.7"/>
<circle cx="564.1" cy="158.7" r="2.7"/>
<circle cx="575.1" cy="147.2" r="2.7"/>
<circle cx="574.5" cy="150.3" r="2.7"/>
<circle cx="569.1" cy="156.3" r="2.7"/>
<circle cx="562.1" cy="163.8" r="2.7"/>
<circle cx="566.9" cy="159.9" r="2.7"/>
<circle cx="564.1" cy="161.7" r="2.7"/>
<circle cx="603.4" cy="124.8" r="2.7"/>
<circle cx="594.7" cy="146.1" r="2.7"/>
<circle cx="592.6" cy="129.6" r="2.7"/>
<circle cx="656.7" cy="117.2" r="2.7"/>
<circle cx="631.2" cy="150.1" r="2.7"/>
<circle cx="635.8" cy="122.5" r="2.7"/>
<circle cx="596.3" cy="136.3" r="2.7"/>
<circle cx="595.5" cy="131.9" r="2.7"/>
<circle cx="637.3" cy="141.1" r="2.7"/>
<circle cx="647.9" cy="118.2" r="2.7"/>
<circle cx="637.0" cy="134.8" r="2.7"/>
<circle cx="589.3" cy="141.5" r="2.7"/>
<circle cx="630.1" cy="121.5" r="2.7"/>
<circle cx="642.6" cy="123.0" r="2.7"/>
<circle cx="612.4" cy="137.1" r="2.7"/>
<circle cx="634.6" cy="127.9" r="2.7"/>
<circle cx="631.7" cy="144.9" r="2.7"/>
<circle cx="588.9" cy="128.3" r="2.7"/>
<circle cx="590.2" cy="145.3" r="2.7"/>
<circle cx="609.6" cy="130.4" r="2.7"/>
<circle cx="633.8" cy="140.6" r="2.7"/>
<circle cx="602.7" cy="131.0" r="2.7"/>
<circle cx="601.6" cy="136.6" r="2.7"/>
<circle cx="599.9" cy="142.7" r="2.7"/>
<circle cx="623.1" cy="143.6" r="2.7"/>
<circle cx="608.0" cy="138.2" r="2.7"/>
<circle cx="582.0" cy="134.2" r="2.7"/>
<circle cx="643.9" cy="119.6" r="2.7"/>
<circle cx="637.6" cy="131.3" r="2.7"/>
<circle cx="653.2" cy="118.1" r="2.7"/>
<circle cx="606.1" cy="143.2" r="2.7"/>
<circle cx="588.9" cy="134.4" r="2.7"/>
<circle cx="618.3" cy="142.5" r="2.7"/>
<circle cx="579.3" cy="130.4" r="2.7"/>
<circle cx="578.1" cy="136.4" r="2.7"/>
<circle cx="617.8" cy="133.8" r="2.7"/>
<circle cx="639.6" cy="128.2" r="2.7"/>
<circle cx="579.4" cy="140.6" r="2.7"/>
<circle cx="627.5" cy="148.8" r="2.7"/>
<circle cx="650.9" cy="121.2" r="2.7"/>
<circle cx="626.7" cy="123.9" r="2.7"/>
<circle cx="630.2" cy="141.2" r="2.7"/>
<circle cx="630.7" cy="126.9" r="2.7"/>
<circle cx="616.9" cy="148.0" r="2.7"/>
<circle cx="605.8" cy="134.8" r="2.7"/>
<circle cx="624.1" cy="137.5" r="2.7"/>
<circle cx="625.6" cy="132.9" r="2.7"/>
<circle cx="616.6" cy="129.4" r="2.7"/>
<circle cx="620.8" cy="146.0" r="2.7"/>
<circle cx="584.6" cy="142.9" r="2.7"/>
<circle cx="614.3" cy="140.2" r="2.7"/>
<circle cx="599.2" cy="134.2" r="2.7"/>
<circle cx="614.7" cy="145.1" r="2.7"/>
<circle cx="611.3" cy="143.4" r="2.7"/>
<circle cx="622.3" cy="132.2" r="2.7"/>
<circle cx="593.2" cy="138.0" r="2.7"/>
<circle cx="622.4" cy="148.9" r="2.7"/>
<circle cx="637.6" cy="145.7" r="2.7"/>
<circle cx="621.8" cy="125.2" r="2.7"/>
<circle cx="588.6" cy="137.9" r="2.7"/>
<circle cx="613.0" cy="129.7" r="2.7"/>
<circle cx="629.2" cy="135.0" r="2.7"/>
<circle cx="603.3" cy="148.2" r="2.7"/>
<circle cx="598.0" cy="147.3" r="2.7"/>
<circle cx="646.0" cy="125.2" r="2.7"/>
<circle cx="594.5" cy="141.9" r="2.7"/>
<circle cx="608.6" cy="148.7" r="2.7"/>
<circle cx="581.9" cy="138.3" r="2.7"/>
<circle cx="603.4" cy="141.3" r="2.7"/>
<circle cx="617.5" cy="137.5" r="2.7"/>
<circle cx="584.4" cy="129.3" r="2.7"/>
<circle cx="633.1" cy="135.7" r="2.7"/>
<circle cx="630.3" cy="131.1" r="2.7"/>
<circle cx="625.5" cy="141.0" r="2.7"/>
<circle cx="627.6" cy="128.9" r="2.7"/>
<circle cx="585.6" cy="139.6" r="2.7"/>
<circle cx="627.7" cy="138.2" r="2.7"/>
<circle cx="633.6" cy="147.8" r="2.7"/>
<circle cx="611.7" cy="133.0" r="2.7"/>
<circle cx="644.2" cy="128.4" r="2.7"/>
<circle cx="586.6" cy="145.8" r="2.7"/>
<circle cx="641.0" cy="132.1" r="2.7"/>
<circle cx="610.8" cy="156.5" r="2.7"/>
<circle cx="621.4" cy="156.2" r="2.7"/>
<circle cx="606.5" cy="155.5" r="2.7"/>
<circle cx="625.2" cy="151.8" r="2.7"/>
<circle cx="602.8" cy="153.8" r="2.7"/>
<circle cx="634.1" cy="153.5" r="2.7"/>
<circle cx="628.4" cy="155.4" r="2.7"/>
<circle cx="615.3" cy="153.0" r="2.7"/>
<circle cx="619.3" cy="153.2" r="2.7"/>
<circle cx="610.2" cy="152.3" r="2.7"/>
<circle cx="614.6" cy="157.5" r="2.7"/>
<circle cx="606.0" cy="152.2" r="2.7"/>
<circle cx="635.8" cy="150.5" r="2.7"/>
<circle cx="600.9" cy="151.0" r="2.7"/>
</g>
<circle cx="419.8" cy="116.1" r="2.75" fill="#3a5d9a"/>
<circle cx="421.6" cy="116.1" r="2.75" fill="#b2e6c7"/>
<circle cx="433.2" cy="116.7" r="2.75" fill="#5ec8af"/>
<circle cx="437.5" cy="116.7" r="2.75" fill="#5ec8af"/>
<circle cx="441.1" cy="117.3" r="2.75" fill="#3e356b"/>
<circle cx="445.4" cy="117.3" r="2.75" fill="#3587a6"/>
<circle cx="463.7" cy="115.4" r="2.75" fill="#3e356b"/>
<circle cx="469.2" cy="116" r="2.75" fill="#5ec8af"/>
<circle cx="468.6" cy="112.4" r="2.75" fill="#3587a6"/>
<circle cx="472.9" cy="111.8" r="2.75" fill="#3587a6"/>
<circle cx="486.3" cy="116" r="2.75" fill="#39a6ab"/>
<circle cx="495.5" cy="100.8" r="2.75" fill="#3a5d9a"/>
<circle cx="497.9" cy="115.4" r="2.75" fill="#b2e6c7"/>
<circle cx="531.4" cy="69.9" r="2.75" fill="#3a5d9a"/>
<circle cx="527.3" cy="72.6" r="2.75" fill="#3a5d9a"/>
<circle cx="534.8" cy="72.6" r="2.75" fill="#3e356b"/>
<circle cx="522.6" cy="78.1" r="2.75" fill="#5ec8af"/>
<circle cx="524.6" cy="80.8" r="2.75" fill="#3587a6"/>
<circle cx="530" cy="78.7" r="2.75" fill="#b2e6c7"/>
<circle cx="525.3" cy="91" r="2.75" fill="#3a5d9a"/>
<circle cx="530.7" cy="93" r="2.75" fill="#3e356b"/>
<circle cx="519.9" cy="90.3" r="2.75" fill="#5ec8af"/>
<circle cx="517.8" cy="94.3" r="2.75" fill="#b2e6c7"/>
<circle cx="509" cy="94.3" r="2.75" fill="#3a5d9a"/>
<circle cx="516.5" cy="97.1" r="2.75" fill="#3e356b"/>
<circle cx="522.6" cy="100.5" r="2.75" fill="#3587a6"/>
<circle cx="502.9" cy="104.5" r="2.75" fill="#3e356b"/>
<circle cx="504.2" cy="109.3" r="2.75" fill="#3587a6"/>
<circle cx="507.6" cy="113.3" r="2.75" fill="#5ec8af"/>
<circle cx="498.1" cy="115.4" r="2.75" fill="#5ec8af"/>
<circle cx="500.2" cy="115.4" r="2.75" fill="#3a5d9a"/>
<circle cx="526" cy="110" r="2.75" fill="#3e356b"/>
<circle cx="529.3" cy="109.3" r="2.75" fill="#3e356b"/>
<circle cx="534.9" cy="103.5" r="2.75" fill="#5ec8af"/>
<circle cx="532.4" cy="107.2" r="2.75" fill="#3e356b"/>
<circle cx="533.1" cy="109" r="2.75" fill="#180e18"/>
<circle cx="542.8" cy="106" r="2.75" fill="#5ec8af"/>
<circle cx="538.5" cy="113.3" r="2.75" fill="#3587a6"/>
<circle cx="543.4" cy="111.5" r="2.75" fill="#3587a6"/>
<circle cx="544" cy="116.4" r="2.75" fill="#39a6ab"/>
<circle cx="549.5" cy="106" r="2.75" fill="#39a6ab"/>
<circle cx="550.1" cy="108.4" r="2.75" fill="#3a5d9a"/>
<circle cx="558.7" cy="103.5" r="2.75" fill="#39a6ab"/>
<circle cx="563" cy="103.5" r="2.75" fill="#5ec8af"/>
<circle cx="564" cy="109.7" r="2.75" fill="#39a6ab"/>
<circle cx="570.9" cy="98.7" r="2.75" fill="#5ec8af"/>
<circle cx="572.1" cy="103.8" r="2.75" fill="#3a5d9a"/>
<circle cx="555.6" cy="120" r="2.75" fill="#b2e6c7"/>
<circle cx="561.7" cy="119.4" r="2.75" fill="#39a6ab"/>
<circle cx="564.2" cy="121.6" r="2.75" fill="#3e356b"/>
<circle cx="560.3" cy="123.7" r="2.75" fill="#5ec8af"/>
<circle cx="569.1" cy="113.9" r="2.75" fill="#5ec8af"/>
<circle cx="573.4" cy="117" r="2.75" fill="#5ec8af"/>
<circle cx="574.6" cy="115.1" r="2.75" fill="#3e356b"/>
<circle cx="588.8" cy="88.6" r="2.75" fill="#5ec8af"/>
<circle cx="585.4" cy="94" r="2.75" fill="#5ec8af"/>
<circle cx="588.8" cy="98.1" r="2.75" fill="#5ec8af"/>
<circle cx="584.7" cy="101.5" r="2.75" fill="#3a5d9a"/>
<circle cx="584.1" cy="105.5" r="2.75" fill="#3587a6"/>
<circle cx="594.2" cy="104.9" r="2.75" fill="#5ec8af"/>
<circle cx="594.9" cy="110" r="2.75" fill="#180e18"/>
<circle cx="580.7" cy="111" r="2.75" fill="#3a5d9a"/>
<circle cx="585.4" cy="113" r="2.75" fill="#5ec8af"/>
<circle cx="599.7" cy="112.3" r="2.75" fill="#b2e6c7"/>
<circle cx="590.2" cy="115.7" r="2.75" fill="#180e18"/>
<circle cx="591.5" cy="118.4" r="2.75" fill="#5ec8af"/>
<circle cx="583.4" cy="118.4" r="2.75" fill="#39a6ab"/>
<circle cx="580.7" cy="117.7" r="2.75" fill="#3e356b"/>
<circle cx="606.5" cy="115.4" r="2.75" fill="#5ec8af"/>
<circle cx="615.3" cy="107.6" r="2.75" fill="#b2e6c7"/>
<circle cx="618" cy="110.5" r="2.75" fill="#5ec8af"/>
<circle cx="598.3" cy="136.1" r="2.75" fill="#180e18"/>
<circle cx="608.5" cy="134.7" r="2.75" fill="#b2e6c7"/>
<circle cx="627.5" cy="123.2" r="2.75" fill="#5ec8af"/>
<circle cx="630.9" cy="126.3" r="2.75" fill="#3587a6"/>
<circle cx="634" cy="125.9" r="2.75" fill="#3a5d9a"/>
<circle cx="626.8" cy="131.3" r="2.75" fill="#3587a6"/>
<circle cx="627.5" cy="138.5" r="2.75" fill="#3e356b"/>
<circle cx="635" cy="137.1" r="2.75" fill="#3a5d9a"/>
<circle cx="638.3" cy="140.8" r="2.75" fill="#3a5d9a"/>
<circle cx="637.7" cy="144.9" r="2.75" fill="#39a6ab"/>
<circle cx="640.4" cy="123.6" r="2.75" fill="#39a6ab"/>
<circle cx="646.5" cy="123.8" r="2.75" fill="#3a5d9a"/>
<circle cx="650.6" cy="124.5" r="2.75" fill="#3a5d9a"/>
<circle cx="652.6" cy="121.1" r="2.75" fill="#39a6ab"/>
<circle cx="654" cy="118.1" r="2.75" fill="#5ec8af"/>
<circle cx="658.4" cy="118.7" r="2.75" fill="#3a5d9a"/>
<circle cx="643.5" cy="133.6" r="2.75" fill="#39a6ab"/>
<circle cx="633.1" cy="154.3" r="2.75" fill="#3e356b"/>
<circle cx="634.4" cy="158.5" r="2.75" fill="#3a5d9a"/>
<circle cx="626.4" cy="160.4" r="2.75" fill="#5ec8af"/>
<circle cx="591.3" cy="162.7" r="2.75" fill="#180e18"/>
<circle cx="594.1" cy="164.2" r="2.75" fill="#3a5d9a"/>
<circle cx="623" cy="162.9" r="2.75" fill="#3e356b"/>
<circle cx="625.5" cy="163.4" r="2.75" fill="#3e356b"/>
<circle cx="631.8" cy="164.2" r="2.75" fill="#3e356b"/>
<circle cx="645.1" cy="165.3" r="2.75" fill="#3e356b"/>
<circle cx="659.3" cy="165.1" r="2.75" fill="#3a5d9a"/>
<circle cx="660.8" cy="165.1" r="2.75" fill="#3a5d9a"/>
<circle cx="609" cy="168.9" r="2.75" fill="#3a5d9a"/>
<circle cx="630.8" cy="176.2" r="2.75" fill="#3a5d9a"/>
<circle cx="630.8" cy="179.8" r="2.75" fill="#3e356b"/>
<circle cx="666.9" cy="176" r="2.75" fill="#3a5d9a"/>
<circle cx="663.5" cy="180.3" r="2.75" fill="#3e356b"/>
<circle cx="661.6" cy="185.1" r="2.75" fill="#180e18"/>
<circle cx="659.7" cy="186.6" r="2.75" fill="#3a5d9a"/>
<circle cx="613.1" cy="187" r="2.75" fill="#3e356b"/>
<circle cx="617.5" cy="191.2" r="2.75" fill="#3a5d9a"/>
<circle cx="630.4" cy="186.2" r="2.75" fill="#3a5d9a"/>
<circle cx="627.4" cy="189.8" r="2.75" fill="#180e18"/>
<circle cx="627.8" cy="192.3" r="2.75" fill="#3a5d9a"/>
<circle cx="640.7" cy="196.5" r="2.75" fill="#3e356b"/>
<circle cx="651.7" cy="194.6" r="2.75" fill="#3a5d9a"/>
<circle cx="627" cy="201.2" r="2.75" fill="#180e18"/>
<circle cx="635" cy="201.2" r="2.75" fill="#3e356b"/>
<circle cx="639.7" cy="203.1" r="2.75" fill="#3a5d9a"/>
<circle cx="651.1" cy="203.1" r="2.75" fill="#3e356b"/>
<circle cx="653" cy="206" r="2.75" fill="#3e356b"/>
<circle cx="647.7" cy="207.9" r="2.75" fill="#3a5d9a"/>
<circle cx="653" cy="208.8" r="2.75" fill="#3a5d9a"/>
<circle cx="633.4" cy="221.7" r="2.75" fill="#3a5d9a"/>
<circle cx="636.4" cy="224" r="2.75" fill="#180e18"/>
<circle cx="629.7" cy="227.7" r="2.75" fill="#3e356b"/>
<circle cx="627.2" cy="229.6" r="2.75" fill="#3587a6"/>
<circle cx="623.4" cy="234.4" r="2.75" fill="#3a5d9a"/>
<circle cx="619.3" cy="243.4" r="2.75" fill="#180e18"/>
<circle cx="617.5" cy="247.1" r="2.75" fill="#180e18"/>
<circle cx="616.6" cy="252.3" r="2.75" fill="#3e356b"/>
<circle cx="614" cy="257.5" r="2.75" fill="#3a5d9a"/>
<circle cx="612.5" cy="259.8" r="2.75" fill="#3587a6"/>
<circle cx="611.8" cy="263.5" r="2.75" fill="#3e356b"/>
<circle cx="609.1" cy="268" r="2.75" fill="#180e18"/>
<circle cx="608.1" cy="270.5" r="2.75" fill="#3e356b"/>
<circle cx="604.3" cy="278.9" r="2.75" fill="#3a5d9a"/>
<circle cx="603.1" cy="281.4" r="2.75" fill="#3a5d9a"/>
<circle cx="597.6" cy="289.6" r="2.75" fill="#3e356b"/>
<circle cx="596.9" cy="291.1" r="2.75" fill="#3e356b"/>
<circle cx="587.9" cy="311.3" r="2.75" fill="#3e356b"/>
<circle cx="584.9" cy="313.5" r="2.75" fill="#3587a6"/>
<path d="M590.30,152.80 C593.95,151.60 601.58,151.62 608.40,151.30 C615.22,150.98 624.87,150.65 631.20,150.90 C637.53,151.15 641.33,151.53 646.40,152.80 C651.47,154.07 657.80,156.28 661.60,158.50 C665.40,160.72 667.62,163.25 669.20,166.10 C670.78,168.95 671.27,172.43 671.10,175.60 C670.93,178.77 669.78,182.25 668.20,185.10 C666.62,187.95 663.33,189.85 661.60,192.70 C659.87,195.55 659.38,199.03 657.80,202.20 C656.22,205.37 655.05,208.07 652.10,211.70 C649.15,215.33 643.83,220.72 640.10,224.00 C636.37,227.28 632.18,228.42 629.70,231.40 C627.22,234.38 626.93,236.67 625.20,241.90 C623.47,247.13 621.78,256.33 619.30,262.80 C616.82,269.27 613.78,274.73 610.30,280.70 C606.82,286.67 601.38,293.13 598.40,298.60 C595.42,304.07 594.90,309.65 592.40,313.50 C589.90,317.35 585.40,320.33 583.40,321.70 C581.40,323.07 581.38,322.57 580.40,321.70 C579.42,320.83 577.50,319.35 577.50,316.50 C577.50,313.65 578.42,309.08 580.40,304.60 C582.38,300.12 586.15,295.08 589.40,289.60 C592.65,284.12 597.42,277.17 599.90,271.70 C602.38,266.23 603.07,260.78 604.30,256.80 C605.53,252.82 605.55,251.53 607.30,247.80 C609.05,244.07 612.80,238.87 614.80,234.40 C616.80,229.93 618.78,224.15 619.30,221.00 C619.82,217.85 618.77,219.27 617.90,215.50 C617.03,211.73 615.68,204.10 614.10,198.40 C612.52,192.70 610.62,185.58 608.40,181.30 C606.18,177.02 604.28,174.92 600.80,172.70 C597.32,170.48 589.88,170.37 587.50,168.00 C585.12,165.63 586.03,161.03 586.50,158.50 C586.97,155.97 586.65,154.00 590.30,152.80 Z" fill="none" stroke="#e8508a" stroke-width="0.75" stroke-linejoin="round"/>
<g fill="#3a78c9">
<circle cx="427.3" cy="201.9" r="1.2"/>
<circle cx="432.1" cy="202.4" r="1.2"/>
<circle cx="430.6" cy="202.3" r="1.2"/>
<circle cx="410.6" cy="201.2" r="1.2"/>
<circle cx="436.3" cy="201.7" r="1.2"/>
<circle cx="423.0" cy="200.7" r="1.2"/>
<circle cx="425.1" cy="201.5" r="1.2"/>
<circle cx="415.7" cy="200.6" r="1.2"/>
<circle cx="437.4" cy="202.2" r="1.2"/>
<circle cx="434.9" cy="200.8" r="1.2"/>
<circle cx="419.9" cy="200.5" r="1.2"/>
<circle cx="413.9" cy="200.3" r="1.2"/>
<circle cx="418.3" cy="201.5" r="1.2"/>
<circle cx="432.8" cy="201.3" r="1.2"/>
<circle cx="415.3" cy="201.9" r="1.2"/>
<circle cx="412.8" cy="201.9" r="1.2"/>
<circle cx="412.0" cy="200.5" r="1.2"/>
<circle cx="421.2" cy="200.7" r="1.2"/>
<circle cx="423.5" cy="201.9" r="1.2"/>
<circle cx="420.0" cy="202.0" r="1.2"/>
<circle cx="428.5" cy="201.9" r="1.2"/>
<circle cx="416.8" cy="201.7" r="1.2"/>
<circle cx="422.2" cy="201.7" r="1.2"/>
<circle cx="426.5" cy="200.7" r="1.2"/>
<circle cx="431.8" cy="200.7" r="1.2"/>
<circle cx="417.3" cy="200.5" r="1.2"/>
<circle cx="429.3" cy="201.1" r="1.2"/>
<circle cx="414.1" cy="201.5" r="1.2"/>
<circle cx="430.6" cy="201.0" r="1.2"/>
</g>
<g fill="#3a78c9">
<circle cx="454.2" cy="178.9" r="1.2"/>
<circle cx="450.5" cy="187.7" r="1.2"/>
<circle cx="444.7" cy="190.7" r="1.2"/>
<circle cx="463.4" cy="196.6" r="1.2"/>
<circle cx="447.0" cy="196.6" r="1.2"/>
<circle cx="450.0" cy="185.4" r="1.2"/>
<circle cx="454.3" cy="184.5" r="1.2"/>
<circle cx="465.2" cy="198.0" r="1.2"/>
<circle cx="451.6" cy="192.2" r="1.2"/>
<circle cx="455.1" cy="193.5" r="1.2"/>
<circle cx="450.6" cy="195.1" r="1.2"/>
<circle cx="447.7" cy="189.7" r="1.2"/>
<circle cx="452.7" cy="193.6" r="1.2"/>
<circle cx="452.4" cy="185.5" r="1.2"/>
<circle cx="453.3" cy="201.0" r="1.2"/>
<circle cx="446.1" cy="200.9" r="1.2"/>
<circle cx="445.8" cy="196.7" r="1.2"/>
<circle cx="470.5" cy="205.1" r="1.2"/>
<circle cx="452.7" cy="187.0" r="1.2"/>
<circle cx="459.1" cy="201.4" r="1.2"/>
<circle cx="473.8" cy="200.4" r="1.2"/>
<circle cx="452.9" cy="189.4" r="1.2"/>
<circle cx="466.7" cy="204.7" r="1.2"/>
<circle cx="475.6" cy="201.8" r="1.2"/>
<circle cx="463.2" cy="202.5" r="1.2"/>
<circle cx="460.7" cy="200.5" r="1.2"/>
<circle cx="447.9" cy="187.6" r="1.2"/>
<circle cx="454.7" cy="197.5" r="1.2"/>
<circle cx="468.7" cy="204.3" r="1.2"/>
<circle cx="457.2" cy="200.5" r="1.2"/>
<circle cx="459.0" cy="199.3" r="1.2"/>
<circle cx="466.1" cy="196.5" r="1.2"/>
<circle cx="465.5" cy="194.7" r="1.2"/>
<circle cx="443.6" cy="191.8" r="1.2"/>
<circle cx="441.9" cy="195.4" r="1.2"/>
<circle cx="469.3" cy="202.9" r="1.2"/>
<circle cx="446.6" cy="194.5" r="1.2"/>
<circle cx="458.2" cy="194.4" r="1.2"/>
<circle cx="459.6" cy="195.8" r="1.2"/>
<circle cx="463.5" cy="198.3" r="1.2"/>
<circle cx="448.2" cy="202.1" r="1.2"/>
<circle cx="444.5" cy="197.3" r="1.2"/>
<circle cx="465.4" cy="201.0" r="1.2"/>
<circle cx="468.2" cy="197.8" r="1.2"/>
<circle cx="450.5" cy="190.0" r="1.2"/>
<circle cx="450.5" cy="196.9" r="1.2"/>
<circle cx="454.8" cy="186.7" r="1.2"/>
<circle cx="465.5" cy="204.2" r="1.2"/>
<circle cx="453.9" cy="187.6" r="1.2"/>
<circle cx="456.3" cy="177.4" r="1.2"/>
<circle cx="451.2" cy="199.9" r="1.2"/>
<circle cx="441.1" cy="199.9" r="1.2"/>
<circle cx="452.4" cy="184.2" r="1.2"/>
<circle cx="472.1" cy="203.2" r="1.2"/>
<circle cx="469.2" cy="205.5" r="1.2"/>
<circle cx="446.0" cy="199.1" r="1.2"/>
<circle cx="444.9" cy="193.4" r="1.2"/>
<circle cx="445.9" cy="192.7" r="1.2"/>
<circle cx="450.3" cy="192.2" r="1.2"/>
<circle cx="453.5" cy="198.5" r="1.2"/>
<circle cx="454.0" cy="195.9" r="1.2"/>
<circle cx="471.8" cy="198.1" r="1.2"/>
<circle cx="452.6" cy="195.0" r="1.2"/>
<circle cx="467.4" cy="201.6" r="1.2"/>
<circle cx="461.0" cy="195.6" r="1.2"/>
<circle cx="457.2" cy="178.4" r="1.2"/>
<circle cx="452.7" cy="182.3" r="1.2"/>
<circle cx="460.6" cy="202.3" r="1.2"/>
<circle cx="441.7" cy="197.4" r="1.2"/>
<circle cx="448.9" cy="194.1" r="1.2"/>
<circle cx="462.1" cy="199.2" r="1.2"/>
<circle cx="467.7" cy="199.6" r="1.2"/>
<circle cx="444.8" cy="201.4" r="1.2"/>
<circle cx="453.4" cy="197.0" r="1.2"/>
<circle cx="460.4" cy="197.9" r="1.2"/>
<circle cx="447.4" cy="198.3" r="1.2"/>
<circle cx="451.6" cy="189.7" r="1.2"/>
<circle cx="462.2" cy="196.1" r="1.2"/>
<circle cx="463.2" cy="199.6" r="1.2"/>
<circle cx="456.2" cy="190.3" r="1.2"/>
<circle cx="453.3" cy="180.5" r="1.2"/>
<circle cx="446.5" cy="189.7" r="1.2"/>
<circle cx="448.6" cy="197.0" r="1.2"/>
<circle cx="449.3" cy="191.5" r="1.2"/>
<circle cx="459.9" cy="194.0" r="1.2"/>
<circle cx="470.2" cy="201.8" r="1.2"/>
<circle cx="448.2" cy="195.1" r="1.2"/>
<circle cx="436.5" cy="201.1" r="1.2"/>
<circle cx="473.0" cy="201.6" r="1.2"/>
<circle cx="450.8" cy="193.5" r="1.2"/>
<circle cx="469.6" cy="198.8" r="1.2"/>
<circle cx="451.2" cy="185.6" r="1.2"/>
<circle cx="454.2" cy="192.6" r="1.2"/>
<circle cx="447.5" cy="193.1" r="1.2"/>
<circle cx="455.6" cy="184.9" r="1.2"/>
<circle cx="455.0" cy="180.4" r="1.2"/>
<circle cx="455.9" cy="196.3" r="1.2"/>
<circle cx="444.5" cy="194.8" r="1.2"/>
<circle cx="455.3" cy="192.0" r="1.2"/>
<circle cx="464.8" cy="199.4" r="1.2"/>
<circle cx="448.8" cy="199.6" r="1.2"/>
<circle cx="448.2" cy="191.2" r="1.2"/>
<circle cx="447.3" cy="200.9" r="1.2"/>
<circle cx="455.4" cy="182.3" r="1.2"/>
<circle cx="455.3" cy="200.0" r="1.2"/>
<circle cx="449.4" cy="186.5" r="1.2"/>
<circle cx="456.3" cy="187.3" r="1.2"/>
<circle cx="449.4" cy="188.5" r="1.2"/>
<circle cx="471.5" cy="204.5" r="1.2"/>
<circle cx="440.7" cy="201.5" r="1.2"/>
<circle cx="455.5" cy="188.8" r="1.2"/>
<circle cx="456.7" cy="198.9" r="1.2"/>
<circle cx="470.4" cy="197.5" r="1.2"/>
<circle cx="466.6" cy="197.7" r="1.2"/>
<circle cx="454.1" cy="182.3" r="1.2"/>
<circle cx="450.0" cy="201.6" r="1.2"/>
<circle cx="443.7" cy="193.7" r="1.2"/>
<circle cx="454.0" cy="188.8" r="1.2"/>
<circle cx="457.2" cy="193.2" r="1.2"/>
<circle cx="443.1" cy="199.8" r="1.2"/>
<circle cx="466.5" cy="199.9" r="1.2"/>
<circle cx="462.7" cy="201.1" r="1.2"/>
<circle cx="463.2" cy="194.8" r="1.2"/>
<circle cx="471.4" cy="202.1" r="1.2"/>
<circle cx="449.0" cy="198.2" r="1.2"/>
<circle cx="471.6" cy="200.0" r="1.2"/>
<circle cx="468.7" cy="201.6" r="1.2"/>
<circle cx="458.2" cy="197.1" r="1.2"/>
<circle cx="452.7" cy="191.5" r="1.2"/>
<circle cx="464.4" cy="201.9" r="1.2"/>
<circle cx="454.8" cy="194.8" r="1.2"/>
<circle cx="444.9" cy="199.8" r="1.2"/>
<circle cx="440.7" cy="194.0" r="1.2"/>
<circle cx="452.0" cy="201.2" r="1.2"/>
<circle cx="467.5" cy="203.7" r="1.2"/>
<circle cx="457.0" cy="197.4" r="1.2"/>
<circle cx="456.2" cy="181.2" r="1.2"/>
<circle cx="443.8" cy="201.9" r="1.2"/>
<circle cx="445.5" cy="197.9" r="1.2"/>
<circle cx="458.1" cy="177.1" r="1.2"/>
<circle cx="474.2" cy="202.7" r="1.2"/>
<circle cx="438.4" cy="201.4" r="1.2"/>
<circle cx="451.0" cy="198.3" r="1.2"/>
<circle cx="439.2" cy="200.0" r="1.2"/>
<circle cx="466.5" cy="202.5" r="1.2"/>
<circle cx="443.2" cy="196.8" r="1.2"/>
<circle cx="448.7" cy="192.9" r="1.2"/>
<circle cx="470.1" cy="200.5" r="1.2"/>
<circle cx="442.0" cy="201.1" r="1.2"/>
<circle cx="467.5" cy="195.4" r="1.2"/>
<circle cx="456.1" cy="194.9" r="1.2"/>
<circle cx="458.8" cy="198.1" r="1.2"/>
<circle cx="464.5" cy="197.1" r="1.2"/>
<circle cx="467.7" cy="205.8" r="1.2"/>
<circle cx="456.2" cy="179.3" r="1.2"/>
<circle cx="442.7" cy="198.6" r="1.2"/>
<circle cx="454.0" cy="190.0" r="1.2"/>
<circle cx="470.9" cy="198.7" r="1.2"/>
<circle cx="461.6" cy="198.1" r="1.2"/>
<circle cx="461.2" cy="194.4" r="1.2"/>
<circle cx="443.3" cy="195.3" r="1.2"/>
<circle cx="457.7" cy="195.5" r="1.2"/>
<circle cx="437.5" cy="202.2" r="1.2"/>
<circle cx="460.2" cy="199.4" r="1.2"/>
<circle cx="451.0" cy="184.0" r="1.2"/>
<circle cx="441.9" cy="202.3" r="1.2"/>
<circle cx="468.3" cy="196.5" r="1.2"/>
<circle cx="444.0" cy="198.8" r="1.2"/>
<circle cx="452.2" cy="188.4" r="1.2"/>
<circle cx="442.4" cy="193.4" r="1.2"/>
<circle cx="445.8" cy="202.4" r="1.2"/>
<circle cx="461.8" cy="202.0" r="1.2"/>
<circle cx="453.5" cy="183.3" r="1.2"/>
<circle cx="469.4" cy="196.6" r="1.2"/>
<circle cx="457.2" cy="176.0" r="1.2"/>
<circle cx="456.1" cy="201.1" r="1.2"/>
<circle cx="449.9" cy="199.9" r="1.2"/>
<circle cx="436.0" cy="202.3" r="1.2"/>
<circle cx="454.6" cy="201.4" r="1.2"/>
<circle cx="448.9" cy="201.0" r="1.2"/>
<circle cx="452.2" cy="198.3" r="1.2"/>
<circle cx="468.9" cy="200.4" r="1.2"/>
<circle cx="470.4" cy="203.3" r="1.2"/>
<circle cx="454.6" cy="191.0" r="1.2"/>
</g>
<g fill="#111111">
<circle cx="470.1" cy="190.5" r="1.2"/>
<circle cx="469.3" cy="189.4" r="1.2"/>
<circle cx="466.6" cy="188.3" r="1.2"/>
<circle cx="467.8" cy="189.0" r="1.2"/>
<circle cx="470.7" cy="188.8" r="1.2"/>
<circle cx="471.3" cy="189.8" r="1.2"/>
<circle cx="466.5" cy="189.9" r="1.2"/>
<circle cx="471.4" cy="190.9" r="1.2"/>
</g>
<g fill="#f8c490">
<circle cx="483.2" cy="199.5" r="1.2"/>
<circle cx="482.9" cy="195.8" r="1.2"/>
<circle cx="472.4" cy="191.8" r="1.2"/>
<circle cx="479.8" cy="191.4" r="1.2"/>
<circle cx="485.3" cy="196.3" r="1.2"/>
<circle cx="477.5" cy="196.4" r="1.2"/>
<circle cx="480.2" cy="199.4" r="1.2"/>
<circle cx="478.4" cy="200.1" r="1.2"/>
<circle cx="479.0" cy="195.6" r="1.2"/>
<circle cx="475.4" cy="195.0" r="1.2"/>
<circle cx="485.4" cy="199.2" r="1.2"/>
<circle cx="475.9" cy="197.5" r="1.2"/>
<circle cx="475.4" cy="196.2" r="1.2"/>
<circle cx="486.5" cy="196.0" r="1.2"/>
<circle cx="478.1" cy="188.7" r="1.2"/>
<circle cx="477.4" cy="190.3" r="1.2"/>
<circle cx="473.1" cy="197.3" r="1.2"/>
<circle cx="477.9" cy="193.6" r="1.2"/>
<circle cx="475.8" cy="191.4" r="1.2"/>
<circle cx="474.3" cy="192.1" r="1.2"/>
<circle cx="486.0" cy="194.8" r="1.2"/>
<circle cx="476.5" cy="189.4" r="1.2"/>
<circle cx="478.3" cy="191.2" r="1.2"/>
<circle cx="484.5" cy="197.3" r="1.2"/>
<circle cx="480.7" cy="196.4" r="1.2"/>
<circle cx="476.7" cy="198.6" r="1.2"/>
<circle cx="479.9" cy="192.7" r="1.2"/>
<circle cx="472.4" cy="196.1" r="1.2"/>
<circle cx="472.6" cy="193.2" r="1.2"/>
<circle cx="483.6" cy="198.4" r="1.2"/>
<circle cx="482.1" cy="197.5" r="1.2"/>
<circle cx="479.1" cy="190.3" r="1.2"/>
<circle cx="483.3" cy="196.9" r="1.2"/>
<circle cx="475.5" cy="192.6" r="1.2"/>
<circle cx="474.5" cy="190.5" r="1.2"/>
<circle cx="474.0" cy="193.3" r="1.2"/>
<circle cx="474.1" cy="196.0" r="1.2"/>
<circle cx="481.0" cy="194.5" r="1.2"/>
<circle cx="480.6" cy="198.2" r="1.2"/>
<circle cx="476.6" cy="195.6" r="1.2"/>
<circle cx="478.6" cy="198.5" r="1.2"/>
<circle cx="476.6" cy="200.0" r="1.2"/>
<circle cx="478.5" cy="197.1" r="1.2"/>
<circle cx="473.3" cy="194.8" r="1.2"/>
<circle cx="474.6" cy="197.2" r="1.2"/>
<circle cx="481.4" cy="193.4" r="1.2"/>
<circle cx="479.2" cy="189.2" r="1.2"/>
<circle cx="484.6" cy="195.2" r="1.2"/>
<circle cx="471.8" cy="194.4" r="1.2"/>
<circle cx="481.4" cy="199.6" r="1.2"/>
<circle cx="475.3" cy="199.1" r="1.2"/>
<circle cx="476.7" cy="194.0" r="1.2"/>
<circle cx="476.9" cy="191.9" r="1.2"/>
<circle cx="486.1" cy="197.2" r="1.2"/>
<circle cx="483.2" cy="194.0" r="1.2"/>
<circle cx="471.1" cy="192.9" r="1.2"/>
<circle cx="478.1" cy="194.8" r="1.2"/>
<circle cx="478.1" cy="187.5" r="1.2"/>
<circle cx="479.7" cy="196.9" r="1.2"/>
</g>
<g fill="#c0119a">
<circle cx="491.6" cy="201.5" r="1.2"/>
<circle cx="492.0" cy="203.2" r="1.2"/>
<circle cx="488.7" cy="202.1" r="1.2"/>
<circle cx="491.9" cy="198.7" r="1.2"/>
<circle cx="486.7" cy="200.1" r="1.2"/>
<circle cx="487.4" cy="198.2" r="1.2"/>
<circle cx="493.9" cy="199.7" r="1.2"/>
<circle cx="488.2" cy="197.3" r="1.2"/>
<circle cx="487.2" cy="201.7" r="1.2"/>
<circle cx="493.1" cy="197.8" r="1.2"/>
<circle cx="490.8" cy="196.5" r="1.2"/>
<circle cx="490.6" cy="199.5" r="1.2"/>
<circle cx="492.2" cy="200.4" r="1.2"/>
<circle cx="490.0" cy="202.2" r="1.2"/>
<circle cx="487.9" cy="200.1" r="1.2"/>
<circle cx="489.9" cy="197.8" r="1.2"/>
<circle cx="489.5" cy="200.3" r="1.2"/>
<circle cx="486.3" cy="196.8" r="1.2"/>
<circle cx="493.3" cy="201.1" r="1.2"/>
<circle cx="492.2" cy="197.0" r="1.2"/>
</g>
<g fill="#c0119a">
<circle cx="499.5" cy="203.4" r="1.2"/>
<circle cx="494.5" cy="208.2" r="1.2"/>
<circle cx="493.5" cy="212.3" r="1.2"/>
<circle cx="500.2" cy="211.2" r="1.2"/>
<circle cx="497.5" cy="209.6" r="1.2"/>
<circle cx="492.9" cy="213.9" r="1.2"/>
<circle cx="500.5" cy="205.3" r="1.2"/>
<circle cx="503.5" cy="205.1" r="1.2"/>
<circle cx="498.8" cy="212.1" r="1.2"/>
<circle cx="506.6" cy="203.1" r="1.2"/>
<circle cx="496.7" cy="204.3" r="1.2"/>
<circle cx="496.0" cy="213.1" r="1.2"/>
<circle cx="493.2" cy="207.7" r="1.2"/>
<circle cx="496.0" cy="210.8" r="1.2"/>
<circle cx="505.1" cy="202.1" r="1.2"/>
<circle cx="498.5" cy="209.0" r="1.2"/>
<circle cx="492.2" cy="209.2" r="1.2"/>
<circle cx="497.8" cy="203.9" r="1.2"/>
<circle cx="502.2" cy="203.7" r="1.2"/>
<circle cx="503.6" cy="206.8" r="1.2"/>
<circle cx="504.0" cy="203.8" r="1.2"/>
<circle cx="500.7" cy="209.7" r="1.2"/>
<circle cx="491.5" cy="210.3" r="1.2"/>
<circle cx="494.8" cy="212.0" r="1.2"/>
<circle cx="505.9" cy="204.9" r="1.2"/>
<circle cx="492.5" cy="211.4" r="1.2"/>
<circle cx="501.0" cy="204.0" r="1.2"/>
<circle cx="502.4" cy="208.6" r="1.2"/>
<circle cx="501.1" cy="207.1" r="1.2"/>
<circle cx="502.6" cy="206.3" r="1.2"/>
<circle cx="494.3" cy="215.2" r="1.2"/>
<circle cx="489.5" cy="212.2" r="1.2"/>
<circle cx="490.3" cy="213.4" r="1.2"/>
<circle cx="495.6" cy="207.7" r="1.2"/>
<circle cx="496.8" cy="207.1" r="1.2"/>
<circle cx="494.5" cy="210.8" r="1.2"/>
<circle cx="501.7" cy="202.1" r="1.2"/>
<circle cx="498.3" cy="207.8" r="1.2"/>
<circle cx="495.9" cy="206.1" r="1.2"/>
<circle cx="495.3" cy="214.1" r="1.2"/>
<circle cx="497.8" cy="211.2" r="1.2"/>
<circle cx="499.9" cy="208.5" r="1.2"/>
<circle cx="503.7" cy="202.7" r="1.2"/>
<circle cx="497.6" cy="213.8" r="1.2"/>
<circle cx="493.5" cy="210.1" r="1.2"/>
<circle cx="492.2" cy="215.1" r="1.2"/>
<circle cx="491.5" cy="213.5" r="1.2"/>
<circle cx="499.1" cy="206.8" r="1.2"/>
<circle cx="494.6" cy="206.7" r="1.2"/>
<circle cx="490.6" cy="214.8" r="1.2"/>
<circle cx="495.9" cy="215.1" r="1.2"/>
<circle cx="497.5" cy="205.5" r="1.2"/>
<circle cx="500.4" cy="202.6" r="1.2"/>
<circle cx="501.7" cy="205.3" r="1.2"/>
<circle cx="497.5" cy="212.5" r="1.2"/>
<circle cx="499.4" cy="204.7" r="1.2"/>
<circle cx="494.9" cy="209.3" r="1.2"/>
<circle cx="505.2" cy="206.5" r="1.2"/>
</g>
<g fill="#8b4a2b">
<circle cx="479.9" cy="214.6" r="1.2"/>
<circle cx="481.4" cy="209.9" r="1.2"/>
<circle cx="485.3" cy="214.8" r="1.2"/>
<circle cx="479.2" cy="213.3" r="1.2"/>
<circle cx="477.5" cy="209.7" r="1.2"/>
<circle cx="476.4" cy="216.4" r="1.2"/>
<circle cx="482.1" cy="214.0" r="1.2"/>
<circle cx="476.1" cy="214.1" r="1.2"/>
<circle cx="477.0" cy="212.8" r="1.2"/>
<circle cx="472.9" cy="209.1" r="1.2"/>
<circle cx="476.9" cy="208.4" r="1.2"/>
<circle cx="479.2" cy="209.9" r="1.2"/>
<circle cx="479.8" cy="211.4" r="1.2"/>
<circle cx="486.6" cy="212.6" r="1.2"/>
<circle cx="485.4" cy="211.4" r="1.2"/>
<circle cx="479.3" cy="208.7" r="1.2"/>
<circle cx="487.7" cy="211.8" r="1.2"/>
<circle cx="475.2" cy="207.5" r="1.2"/>
<circle cx="484.0" cy="212.3" r="1.2"/>
<circle cx="485.1" cy="213.5" r="1.2"/>
<circle cx="474.3" cy="208.5" r="1.2"/>
<circle cx="474.1" cy="210.7" r="1.2"/>
<circle cx="484.1" cy="210.5" r="1.2"/>
<circle cx="481.6" cy="212.1" r="1.2"/>
<circle cx="478.6" cy="215.1" r="1.2"/>
<circle cx="481.0" cy="208.8" r="1.2"/>
<circle cx="478.3" cy="206.7" r="1.2"/>
<circle cx="479.6" cy="207.1" r="1.2"/>
<circle cx="475.2" cy="213.1" r="1.2"/>
<circle cx="482.0" cy="215.2" r="1.2"/>
<circle cx="477.2" cy="214.4" r="1.2"/>
<circle cx="476.3" cy="210.3" r="1.2"/>
<circle cx="478.2" cy="208.3" r="1.2"/>
<circle cx="476.0" cy="206.3" r="1.2"/>
<circle cx="482.8" cy="211.5" r="1.2"/>
<circle cx="476.1" cy="211.7" r="1.2"/>
<circle cx="480.4" cy="212.8" r="1.2"/>
<circle cx="478.3" cy="212.2" r="1.2"/>
<circle cx="483.7" cy="213.9" r="1.2"/>
<circle cx="474.7" cy="211.8" r="1.2"/>
<circle cx="478.7" cy="205.0" r="1.2"/>
<circle cx="475.5" cy="215.1" r="1.2"/>
<circle cx="487.0" cy="210.9" r="1.2"/>
<circle cx="475.7" cy="208.7" r="1.2"/>
<circle cx="482.8" cy="213.1" r="1.2"/>
</g>
<g fill="#1b5e3b">
<circle cx="485.1" cy="213.9" r="1.2"/>
<circle cx="488.0" cy="214.2" r="1.2"/>
<circle cx="487.8" cy="216.3" r="1.2"/>
<circle cx="488.0" cy="212.6" r="1.2"/>
<circle cx="484.7" cy="215.2" r="1.2"/>
<circle cx="485.9" cy="215.9" r="1.2"/>
<circle cx="484.2" cy="216.3" r="1.2"/>
<circle cx="487.2" cy="213.4" r="1.2"/>
<circle cx="488.9" cy="215.4" r="1.2"/>
<circle cx="484.7" cy="212.7" r="1.2"/>
<circle cx="487.2" cy="215.0" r="1.2"/>
</g>
<g fill="#f39c12">
<circle cx="483.6" cy="218.0" r="1.2"/>
<circle cx="485.2" cy="218.6" r="1.2"/>
<circle cx="485.9" cy="220.0" r="1.2"/>
<circle cx="486.6" cy="218.9" r="1.2"/>
<circle cx="482.7" cy="219.1" r="1.2"/>
<circle cx="487.4" cy="220.2" r="1.2"/>
<circle cx="484.7" cy="219.9" r="1.2"/>
</g>
<g fill="#7a7a7a">
<circle cx="470.7" cy="223.0" r="1.2"/>
<circle cx="469.3" cy="222.6" r="1.2"/>
<circle cx="471.8" cy="220.9" r="1.2"/>
<circle cx="470.2" cy="220.9" r="1.2"/>
<circle cx="468.6" cy="224.8" r="1.2"/>
<circle cx="472.2" cy="217.9" r="1.2"/>
<circle cx="471.0" cy="219.9" r="1.2"/>
<circle cx="471.8" cy="219.0" r="1.2"/>
<circle cx="469.7" cy="223.7" r="1.2"/>
</g>
<g fill="#d4a5d4">
<circle cx="493.0" cy="226.7" r="1.2"/>
<circle cx="509.3" cy="229.5" r="1.2"/>
<circle cx="488.2" cy="225.4" r="1.2"/>
<circle cx="499.9" cy="225.4" r="1.2"/>
<circle cx="499.4" cy="227.3" r="1.2"/>
<circle cx="503.2" cy="225.3" r="1.2"/>
<circle cx="493.7" cy="225.6" r="1.2"/>
<circle cx="506.6" cy="225.3" r="1.2"/>
<circle cx="506.0" cy="227.4" r="1.2"/>
<circle cx="487.2" cy="226.6" r="1.2"/>
<circle cx="508.2" cy="225.6" r="1.2"/>
<circle cx="500.8" cy="226.7" r="1.2"/>
<circle cx="492.6" cy="224.7" r="1.2"/>
<circle cx="497.4" cy="226.1" r="1.2"/>
<circle cx="509.0" cy="235.2" r="1.2"/>
<circle cx="491.4" cy="225.7" r="1.2"/>
<circle cx="506.3" cy="235.9" r="1.2"/>
<circle cx="487.3" cy="224.4" r="1.2"/>
<circle cx="494.9" cy="225.4" r="1.2"/>
<circle cx="507.3" cy="237.0" r="1.2"/>
<circle cx="498.2" cy="225.0" r="1.2"/>
<circle cx="507.0" cy="238.3" r="1.2"/>
<circle cx="508.8" cy="231.1" r="1.2"/>
<circle cx="495.9" cy="226.9" r="1.2"/>
<circle cx="504.4" cy="225.3" r="1.2"/>
<circle cx="507.4" cy="233.8" r="1.2"/>
<circle cx="486.3" cy="225.6" r="1.2"/>
<circle cx="508.3" cy="227.0" r="1.2"/>
<circle cx="505.3" cy="226.1" r="1.2"/>
<circle cx="510.6" cy="232.2" r="1.2"/>
<circle cx="491.1" cy="226.9" r="1.2"/>
<circle cx="504.0" cy="227.0" r="1.2"/>
<circle cx="507.6" cy="235.7" r="1.2"/>
<circle cx="501.6" cy="225.6" r="1.2"/>
<circle cx="502.2" cy="226.7" r="1.2"/>
<circle cx="509.8" cy="233.4" r="1.2"/>
<circle cx="507.7" cy="228.9" r="1.2"/>
<circle cx="509.7" cy="228.4" r="1.2"/>
<circle cx="507.2" cy="227.6" r="1.2"/>
<circle cx="508.1" cy="232.4" r="1.2"/>
<circle cx="489.3" cy="226.4" r="1.2"/>
<circle cx="490.1" cy="224.7" r="1.2"/>
<circle cx="496.2" cy="224.9" r="1.2"/>
</g>
<g fill="#d4a5d4">
<circle cx="490.3" cy="238.5" r="1.2"/>
<circle cx="486.9" cy="229.0" r="1.2"/>
<circle cx="488.8" cy="231.5" r="1.2"/>
<circle cx="489.5" cy="236.5" r="1.2"/>
<circle cx="488.8" cy="238.9" r="1.2"/>
<circle cx="488.3" cy="228.4" r="1.2"/>
<circle cx="486.3" cy="227.6" r="1.2"/>
<circle cx="489.7" cy="234.1" r="1.2"/>
<circle cx="487.3" cy="232.2" r="1.2"/>
<circle cx="487.8" cy="234.9" r="1.2"/>
<circle cx="488.4" cy="237.7" r="1.2"/>
<circle cx="487.3" cy="230.4" r="1.2"/>
<circle cx="489.2" cy="232.7" r="1.2"/>
<circle cx="488.5" cy="229.7" r="1.2"/>
</g>
<g fill="#d4a5d4">
<circle cx="496.3" cy="235.2" r="1.2"/>
<circle cx="494.7" cy="240.8" r="1.2"/>
<circle cx="493.8" cy="234.0" r="1.2"/>
<circle cx="495.1" cy="226.6" r="1.2"/>
<circle cx="496.2" cy="223.0" r="1.2"/>
<circle cx="495.9" cy="239.2" r="1.2"/>
<circle cx="493.8" cy="224.5" r="1.2"/>
<circle cx="497.1" cy="219.6" r="1.2"/>
<circle cx="495.6" cy="219.6" r="1.2"/>
<circle cx="494.7" cy="237.2" r="1.2"/>
<circle cx="495.8" cy="231.6" r="1.2"/>
<circle cx="495.5" cy="233.8" r="1.2"/>
<circle cx="495.5" cy="218.2" r="1.2"/>
<circle cx="494.3" cy="225.7" r="1.2"/>
<circle cx="496.2" cy="232.7" r="1.2"/>
<circle cx="495.7" cy="220.8" r="1.2"/>
<circle cx="497.5" cy="217.7" r="1.2"/>
<circle cx="494.5" cy="228.6" r="1.2"/>
<circle cx="494.0" cy="235.9" r="1.2"/>
<circle cx="494.4" cy="231.4" r="1.2"/>
<circle cx="495.8" cy="228.1" r="1.2"/>
<circle cx="496.0" cy="236.4" r="1.2"/>
<circle cx="494.5" cy="220.5" r="1.2"/>
<circle cx="495.1" cy="234.9" r="1.2"/>
<circle cx="495.4" cy="224.9" r="1.2"/>
<circle cx="494.6" cy="238.6" r="1.2"/>
<circle cx="496.3" cy="225.7" r="1.2"/>
<circle cx="496.3" cy="240.7" r="1.2"/>
<circle cx="494.4" cy="223.4" r="1.2"/>
<circle cx="495.6" cy="237.9" r="1.2"/>
<circle cx="496.8" cy="221.9" r="1.2"/>
<circle cx="493.5" cy="230.2" r="1.2"/>
<circle cx="496.4" cy="217.2" r="1.2"/>
<circle cx="495.9" cy="229.7" r="1.2"/>
<circle cx="494.8" cy="230.1" r="1.2"/>
<circle cx="493.8" cy="239.6" r="1.2"/>
<circle cx="495.2" cy="221.8" r="1.2"/>
</g>
<g fill="#d4a5d4">
<circle cx="501.3" cy="238.9" r="1.2"/>
<circle cx="504.6" cy="249.1" r="1.2"/>
<circle cx="502.1" cy="240.8" r="1.2"/>
<circle cx="498.0" cy="240.7" r="1.2"/>
<circle cx="495.8" cy="240.3" r="1.2"/>
<circle cx="499.1" cy="238.3" r="1.2"/>
<circle cx="502.4" cy="239.5" r="1.2"/>
<circle cx="503.9" cy="247.5" r="1.2"/>
<circle cx="503.3" cy="241.1" r="1.2"/>
<circle cx="502.0" cy="248.6" r="1.2"/>
<circle cx="504.2" cy="242.5" r="1.2"/>
<circle cx="502.6" cy="246.2" r="1.2"/>
<circle cx="499.2" cy="240.7" r="1.2"/>
<circle cx="503.0" cy="250.5" r="1.2"/>
<circle cx="503.9" cy="240.1" r="1.2"/>
<circle cx="500.0" cy="239.0" r="1.2"/>
<circle cx="502.3" cy="243.1" r="1.2"/>
<circle cx="504.3" cy="246.1" r="1.2"/>
<circle cx="505.3" cy="241.5" r="1.2"/>
<circle cx="503.2" cy="244.4" r="1.2"/>
<circle cx="497.8" cy="239.6" r="1.2"/>
<circle cx="500.4" cy="241.1" r="1.2"/>
<circle cx="495.9" cy="238.7" r="1.2"/>
<circle cx="497.5" cy="238.4" r="1.2"/>
<circle cx="504.3" cy="243.8" r="1.2"/>
<circle cx="503.6" cy="238.8" r="1.2"/>
<circle cx="501.1" cy="240.2" r="1.2"/>
<circle cx="495.8" cy="237.4" r="1.2"/>
</g>
<g fill="#d4a5d4">
<circle cx="492.1" cy="243.8" r="1.2"/>
<circle cx="493.1" cy="246.2" r="1.2"/>
<circle cx="491.8" cy="250.8" r="1.2"/>
<circle cx="492.8" cy="252.6" r="1.2"/>
<circle cx="491.5" cy="247.8" r="1.2"/>
<circle cx="493.5" cy="243.7" r="1.2"/>
<circle cx="492.8" cy="247.9" r="1.2"/>
<circle cx="492.9" cy="249.2" r="1.2"/>
<circle cx="491.8" cy="253.3" r="1.2"/>
<circle cx="493.5" cy="245.0" r="1.2"/>
<circle cx="491.3" cy="249.4" r="1.2"/>
<circle cx="492.0" cy="245.0" r="1.2"/>
</g>
<g fill="#d4a5d4">
<circle cx="490.6" cy="271.0" r="1.2"/>
<circle cx="495.5" cy="258.4" r="1.2"/>
<circle cx="485.7" cy="280.6" r="1.2"/>
<circle cx="489.5" cy="273.3" r="1.2"/>
<circle cx="486.9" cy="277.7" r="1.2"/>
<circle cx="483.7" cy="287.8" r="1.2"/>
<circle cx="486.0" cy="282.2" r="1.2"/>
<circle cx="494.4" cy="260.5" r="1.2"/>
<circle cx="484.1" cy="285.6" r="1.2"/>
<circle cx="490.5" cy="268.0" r="1.2"/>
<circle cx="491.6" cy="269.5" r="1.2"/>
<circle cx="482.7" cy="288.7" r="1.2"/>
<circle cx="496.4" cy="256.6" r="1.2"/>
<circle cx="493.9" cy="261.7" r="1.2"/>
<circle cx="492.9" cy="264.9" r="1.2"/>
<circle cx="485.7" cy="278.6" r="1.2"/>
<circle cx="496.0" cy="255.4" r="1.2"/>
<circle cx="488.9" cy="271.5" r="1.2"/>
<circle cx="494.5" cy="263.0" r="1.2"/>
<circle cx="487.2" cy="274.9" r="1.2"/>
<circle cx="488.4" cy="276.2" r="1.2"/>
<circle cx="491.6" cy="265.8" r="1.2"/>
<circle cx="492.8" cy="266.7" r="1.2"/>
<circle cx="482.7" cy="290.1" r="1.2"/>
<circle cx="484.9" cy="284.5" r="1.2"/>
<circle cx="488.9" cy="275.0" r="1.2"/>
<circle cx="481.4" cy="291.1" r="1.2"/>
<circle cx="492.7" cy="262.8" r="1.2"/>
<circle cx="482.7" cy="286.9" r="1.2"/>
<circle cx="484.6" cy="281.6" r="1.2"/>
<circle cx="492.2" cy="267.8" r="1.2"/>
<circle cx="483.5" cy="283.7" r="1.2"/>
<circle cx="481.5" cy="289.7" r="1.2"/>
<circle cx="497.6" cy="254.9" r="1.2"/>
<circle cx="491.0" cy="266.9" r="1.2"/>
<circle cx="488.2" cy="272.6" r="1.2"/>
<circle cx="492.1" cy="264.0" r="1.2"/>
<circle cx="487.5" cy="278.7" r="1.2"/>
</g>
<g fill="#d4a5d4">
<circle cx="478.3" cy="298.9" r="1.2"/>
<circle cx="479.3" cy="299.5" r="1.2"/>
<circle cx="475.2" cy="300.7" r="1.2"/>
<circle cx="476.3" cy="300.5" r="1.2"/>
<circle cx="479.6" cy="297.8" r="1.2"/>
<circle cx="477.8" cy="300.4" r="1.2"/>
<circle cx="476.5" cy="299.2" r="1.2"/>
</g>
<path d="M472.50,224.00 C473.48,222.52 476.17,221.63 479.90,221.00 C483.63,220.37 489.92,219.95 494.90,220.20 C499.88,220.45 506.57,221.25 509.80,222.50 C513.03,223.75 513.68,225.72 514.30,227.70 C514.92,229.68 514.38,231.92 513.50,234.40 C512.62,236.88 511.12,239.37 509.00,242.60 C506.88,245.83 502.93,251.10 500.80,253.80 C498.67,256.50 497.78,255.52 496.20,258.80 C494.62,262.08 492.93,269.02 491.30,273.50 C489.67,277.98 488.23,281.63 486.40,285.70 C484.57,289.77 482.13,294.85 480.30,297.90 C478.47,300.95 476.62,303.58 475.40,304.00 C474.18,304.42 473.20,302.23 473.00,300.40 C472.80,298.57 472.58,296.67 474.20,293.00 C475.82,289.33 480.87,282.05 482.70,278.40 C484.53,274.75 483.92,274.50 485.20,271.10 C486.48,267.70 489.53,260.88 490.40,258.00 C491.27,255.12 490.90,255.98 490.40,253.80 C489.90,251.62 488.90,248.38 487.40,244.90 C485.90,241.42 483.63,235.40 481.40,232.90 C479.17,230.40 475.48,231.38 474.00,229.90 C472.52,228.42 471.52,225.48 472.50,224.00 Z" fill="none" stroke="#e8508a" stroke-width="0.6" stroke-linejoin="round"/>
<g font-size="5.8" fill="#222">
<circle cx="525.7" cy="182.90" r="1.5" fill="#d4a5d4"/><text x="531.5" y="184.90">CD14 Mono</text>
<circle cx="525.7" cy="189.83" r="1.5" fill="#3a78c9"/><text x="531.5" y="191.83">GMP</text>
<circle cx="525.7" cy="196.76" r="1.5" fill="#8b4a2b"/><text x="531.5" y="198.76">T Cells</text>
<circle cx="525.7" cy="203.69" r="1.5" fill="#4b1a6b"/><text x="531.5" y="205.69">pre B</text>
<circle cx="525.7" cy="210.62" r="1.5" fill="#111111"/><text x="531.5" y="212.62">LMPP</text>
<circle cx="525.7" cy="217.55" r="1.5" fill="#1b5e3b"/><text x="531.5" y="219.55">B Cells</text>
<circle cx="525.7" cy="224.48" r="1.5" fill="#4caf50"/><text x="531.5" y="226.48">Early Eryth</text>
<circle cx="525.7" cy="231.41" r="1.5" fill="#f8c08a"/><text x="531.5" y="233.41">EMP</text>
<circle cx="525.7" cy="238.34" r="1.5" fill="#7a7a7a"/><text x="531.5" y="240.34">Late Eryth</text>
<circle cx="525.7" cy="245.27" r="1.5" fill="#a8d8a8"/><text x="531.5" y="247.27">pDC</text>
<circle cx="525.7" cy="252.20" r="1.5" fill="#8b7a3a"/><text x="531.5" y="254.20">CLP</text>
<circle cx="570.3" cy="182.90" r="1.5" fill="#9acd32"/><text x="576" y="184.90">Plasma</text>
<circle cx="570.3" cy="189.83" r="1.5" fill="#c0119a"/><text x="576" y="191.83">HSC</text>
<circle cx="570.3" cy="196.76" r="1.5" fill="#1f3a8a"/><text x="576" y="198.76">pro B</text>
<circle cx="570.3" cy="203.69" r="1.5" fill="#f39c12"/><text x="576" y="205.69">cDC</text>
<circle cx="570.3" cy="210.62" r="1.5" fill="#f4a6c0"/><text x="576" y="212.62">BaEoMa</text>
<circle cx="570.3" cy="217.55" r="1.5" fill="#3b5e2b"/><text x="576" y="219.55">Prog Mk</text>
<circle cx="570.3" cy="224.48" r="1.5" fill="#e8112d"/><text x="576" y="226.48">pre−pDC</text>
<circle cx="570.3" cy="231.41" r="1.5" fill="#7ec8e3"/><text x="576" y="233.41">NK Cells</text>
<circle cx="570.3" cy="238.34" r="1.5" fill="#138d8a"/><text x="576" y="240.34">pre−mDC</text>
<circle cx="570.3" cy="245.27" r="1.5" fill="#d4e04b"/><text x="576" y="247.27">CD16 Mono</text>
<circle cx="570.3" cy="252.20" r="1.5" fill="#5b4db5"/><text x="576" y="254.20">ASDC</text>
</g>
<text transform="translate(586.3,290.4) rotate(-51.8)" font-size="7.1" fill="#222" text-anchor="middle">More resistant</text>
<defs><linearGradient id="mako" x1="0" y1="0" x2="0" y2="1">
<stop offset="0" stop-color="#0b0405"/>
<stop offset="0.125" stop-color="#2b1c35"/>
<stop offset="0.25" stop-color="#3e356b"/>
<stop offset="0.375" stop-color="#3b5698"/>
<stop offset="0.5" stop-color="#357ba3"/>
<stop offset="0.625" stop-color="#359fab"/>
<stop offset="0.75" stop-color="#4bc2ad"/>
<stop offset="0.875" stop-color="#99ddb6"/>
<stop offset="1.0" stop-color="#def5e5"/>
</linearGradient></defs>
<text x="693" y="161.6" font-size="7.6" fill="#111">AUC</text>
<rect x="692" y="167" width="12.8" height="60.5" fill="url(#mako)"/>
<g stroke="#fff" stroke-width="0.5" opacity="0.8">
<line x1="692" y1="182.12" x2="694.5" y2="182.12"/><line x1="702.3" y1="182.12" x2="704.8" y2="182.12"/>
<line x1="692" y1="197.25" x2="694.5" y2="197.25"/><line x1="702.3" y1="197.25" x2="704.8" y2="197.25"/>
<line x1="692" y1="212.38" x2="694.5" y2="212.38"/><line x1="702.3" y1="212.38" x2="704.8" y2="212.38"/>
</g><g font-size="6.2" fill="#222">
<text x="709.5" y="169.50">1.00</text>
<text x="709.5" y="184.50">0.75</text>
<text x="709.5" y="199.50">0.50</text>
<text x="709.5" y="214.50">0.25</text>
<text x="709.5" y="229.50">0.00</text>
</g>
<g stroke="#444" stroke-width="0.6" fill="none"><path d="M410.5,314.5 L410.5,334.3 L431.5,334.3"/></g>
<path d="M410.5,312.3 L409,315.3 L412,315.3 Z M433.5,334.3 L430.5,332.8 L430.5,335.8 Z" fill="#444"/>
<text transform="translate(406.6,324.8) rotate(-90)" font-size="5.3" fill="#333" text-anchor="middle">UMAP2</text>
<text x="420.4" y="340.6" font-size="5.3" fill="#333" text-anchor="middle">UMAP1</text>
<text x="366.6" y="17.5" font-size="20.3" font-weight="bold" fill="#111">b</text>
<text x="396.6" y="14.9" font-size="12.65" fill="#222">Venetoclax resistance on all patients</text>
<rect x="42.2" y="400.3" width="62.8" height="29.0" fill="#d9d9d9" stroke="#4d4d4d" stroke-width="0.7"/>
<g font-size="5.3" fill="#222" text-anchor="middle">
<text x="73.60" y="410.90">Acute myeloid</text>
<text x="73.60" y="417.30">leukemia with</text>
<text x="73.60" y="423.70">inv(3)(q21q26.2)</text>
</g>
<g stroke="#ebebeb">
<line x1="45.05" y1="429.3" x2="45.05" y2="482.90000000000003" stroke-width="0.6"/>
<line x1="73.60" y1="429.3" x2="73.60" y2="482.90000000000003" stroke-width="0.6"/>
<line x1="102.15" y1="429.3" x2="102.15" y2="482.90000000000003" stroke-width="0.6"/>
<line x1="59.33" y1="429.3" x2="59.33" y2="482.90000000000003" stroke-width="0.3"/>
<line x1="87.88" y1="429.3" x2="87.88" y2="482.90000000000003" stroke-width="0.3"/>
<line x1="42.2" y1="480.70" x2="105.0" y2="480.70" stroke-width="0.55"/>
<line x1="42.2" y1="468.52" x2="105.0" y2="468.52" stroke-width="0.55"/>
<line x1="42.2" y1="456.35" x2="105.0" y2="456.35" stroke-width="0.55"/>
<line x1="42.2" y1="444.17" x2="105.0" y2="444.17" stroke-width="0.55"/>
<line x1="42.2" y1="432.00" x2="105.0" y2="432.00" stroke-width="0.55"/>
<line x1="42.2" y1="474.61" x2="105.0" y2="474.61" stroke-width="0.3"/>
<line x1="42.2" y1="462.44" x2="105.0" y2="462.44" stroke-width="0.3"/>
<line x1="42.2" y1="450.26" x2="105.0" y2="450.26" stroke-width="0.3"/>
<line x1="42.2" y1="438.09" x2="105.0" y2="438.09" stroke-width="0.3"/>
</g>
<g fill="#c6c6c6">
<circle cx="48.52" cy="447.63" r="1.3"/>
<circle cx="53.73" cy="449.80" r="1.3"/>
<circle cx="55.90" cy="451.71" r="1.3"/>
<circle cx="50.69" cy="452.57" r="1.3"/>
<circle cx="60.24" cy="452.57" r="1.3"/>
<circle cx="62.41" cy="447.89" r="1.3"/>
<circle cx="49.39" cy="455.00" r="1.3"/>
<circle cx="51.56" cy="455.87" r="1.3"/>
<circle cx="55.03" cy="455.00" r="1.3"/>
<circle cx="55.46" cy="457.61" r="1.3"/>
<circle cx="45.92" cy="458.04" r="1.3"/>
<circle cx="45.05" cy="460.21" r="1.3"/>
<circle cx="47.65" cy="461.08" r="1.3"/>
<circle cx="49.82" cy="462.38" r="1.3"/>
<circle cx="50.69" cy="464.55" r="1.3"/>
<circle cx="50.26" cy="466.72" r="1.3"/>
<circle cx="52.43" cy="466.72" r="1.3"/>
<circle cx="53.29" cy="463.69" r="1.3"/>
<circle cx="55.03" cy="461.95" r="1.3"/>
<circle cx="54.60" cy="458.91" r="1.3"/>
<circle cx="56.77" cy="463.69" r="1.3"/>
<circle cx="57.63" cy="465.42" r="1.3"/>
<circle cx="59.37" cy="464.12" r="1.3"/>
<circle cx="55.90" cy="465.86" r="1.3"/>
<circle cx="58.50" cy="468.46" r="1.3"/>
<circle cx="60.67" cy="466.29" r="1.3"/>
<circle cx="61.54" cy="469.76" r="1.3"/>
<circle cx="53.29" cy="465.42" r="1.3"/>
<circle cx="51.99" cy="463.25" r="1.3"/>
<circle cx="59.37" cy="461.95" r="1.3"/>
<circle cx="63.71" cy="461.95" r="1.3"/>
<circle cx="65.44" cy="460.21" r="1.3"/>
<circle cx="62.84" cy="459.34" r="1.3"/>
<circle cx="66.31" cy="463.69" r="1.3"/>
<circle cx="65.01" cy="452.83" r="1.3"/>
<circle cx="67.18" cy="452.40" r="1.3"/>
<circle cx="68.91" cy="451.97" r="1.3"/>
<circle cx="68.05" cy="458.48" r="1.3"/>
<circle cx="69.78" cy="457.61" r="1.3"/>
<circle cx="71.52" cy="456.74" r="1.3"/>
<circle cx="72.82" cy="455.00" r="1.3"/>
<circle cx="72.39" cy="452.40" r="1.3"/>
<circle cx="70.65" cy="461.95" r="1.3"/>
<circle cx="68.48" cy="466.72" r="1.3"/>
<circle cx="72.39" cy="466.12" r="1.3"/>
<circle cx="75.42" cy="468.89" r="1.3"/>
<circle cx="75.42" cy="464.55" r="1.3"/>
<circle cx="71.95" cy="442.85" r="1.3"/>
<circle cx="72.82" cy="444.59" r="1.3"/>
<circle cx="71.52" cy="446.32" r="1.3"/>
<circle cx="73.25" cy="447.63" r="1.3"/>
<circle cx="74.55" cy="445.89" r="1.3"/>
<circle cx="76.72" cy="445.02" r="1.3"/>
<circle cx="76.72" cy="448.49" r="1.3"/>
<circle cx="78.89" cy="447.63" r="1.3"/>
<circle cx="79.33" cy="441.98" r="1.3"/>
<circle cx="82.80" cy="440.25" r="1.3"/>
<circle cx="81.93" cy="444.15" r="1.3"/>
<circle cx="84.53" cy="442.85" r="1.3"/>
<circle cx="86.27" cy="445.02" r="1.3"/>
<circle cx="85.40" cy="447.63" r="1.3"/>
<circle cx="81.50" cy="449.80" r="1.3"/>
<circle cx="78.46" cy="451.10" r="1.3"/>
<circle cx="80.20" cy="452.83" r="1.3"/>
<circle cx="82.80" cy="452.40" r="1.3"/>
<circle cx="84.53" cy="450.66" r="1.3"/>
<circle cx="87.14" cy="448.93" r="1.3"/>
<circle cx="89.31" cy="447.63" r="1.3"/>
<circle cx="90.61" cy="445.89" r="1.3"/>
<circle cx="91.91" cy="441.11" r="1.3"/>
<circle cx="93.21" cy="443.72" r="1.3"/>
<circle cx="94.95" cy="444.59" r="1.3"/>
<circle cx="97.55" cy="443.72" r="1.3"/>
<circle cx="99.29" cy="445.02" r="1.3"/>
<circle cx="101.89" cy="442.42" r="1.3"/>
<circle cx="101.89" cy="445.89" r="1.3"/>
<circle cx="101.89" cy="448.49" r="1.3"/>
<circle cx="98.85" cy="449.80" r="1.3"/>
<circle cx="92.78" cy="451.53" r="1.3"/>
<circle cx="90.61" cy="452.40" r="1.3"/>
<circle cx="89.31" cy="454.57" r="1.3"/>
<circle cx="87.14" cy="455.00" r="1.3"/>
<circle cx="84.53" cy="454.57" r="1.3"/>
<circle cx="82.80" cy="455.87" r="1.3"/>
<circle cx="81.06" cy="455.00" r="1.3"/>
<circle cx="78.46" cy="456.74" r="1.3"/>
<circle cx="80.20" cy="459.78" r="1.3"/>
<circle cx="79.33" cy="462.38" r="1.3"/>
<circle cx="81.06" cy="463.69" r="1.3"/>
<circle cx="84.53" cy="460.65" r="1.3"/>
<circle cx="86.70" cy="461.08" r="1.3"/>
<circle cx="84.97" cy="464.12" r="1.3"/>
<circle cx="88.44" cy="463.69" r="1.3"/>
<circle cx="91.91" cy="467.59" r="1.3"/>
<circle cx="97.12" cy="468.03" r="1.3"/>
<circle cx="96.68" cy="471.50" r="1.3"/>
<circle cx="101.89" cy="471.24" r="1.3"/>
<circle cx="97.55" cy="457.17" r="1.3"/>
<circle cx="98.85" cy="458.91" r="1.3"/>
<circle cx="90.61" cy="456.74" r="1.3"/>
<circle cx="92.34" cy="455.00" r="1.3"/>
<circle cx="88.87" cy="458.48" r="1.3"/>
<circle cx="76.72" cy="455.00" r="1.3"/>
<circle cx="74.99" cy="453.27" r="1.3"/>
<circle cx="70.65" cy="450.66" r="1.3"/>
<circle cx="73.25" cy="450.23" r="1.3"/>
<circle cx="77.59" cy="451.53" r="1.3"/>
<circle cx="44.86" cy="459.98" r="1.3"/>
<circle cx="49.35" cy="461.21" r="1.3"/>
<circle cx="49.85" cy="462.04" r="1.3"/>
<circle cx="49.43" cy="464.51" r="1.3"/>
<circle cx="50.78" cy="465.58" r="1.3"/>
<circle cx="50.80" cy="467.49" r="1.3"/>
<circle cx="51.66" cy="462.48" r="1.3"/>
<circle cx="55.80" cy="463.73" r="1.3"/>
<circle cx="56.52" cy="457.10" r="1.3"/>
<circle cx="57.38" cy="463.24" r="1.3"/>
<circle cx="56.26" cy="467.31" r="1.3"/>
<circle cx="59.48" cy="465.84" r="1.3"/>
<circle cx="54.66" cy="466.86" r="1.3"/>
<circle cx="56.62" cy="468.60" r="1.3"/>
<circle cx="60.43" cy="464.96" r="1.3"/>
<circle cx="61.61" cy="469.22" r="1.3"/>
<circle cx="53.29" cy="464.79" r="1.3"/>
<circle cx="51.82" cy="464.12" r="1.3"/>
<circle cx="61.36" cy="460.02" r="1.3"/>
<circle cx="74.18" cy="454.19" r="1.3"/>
<circle cx="71.65" cy="453.45" r="1.3"/>
<circle cx="71.11" cy="444.53" r="1.3"/>
<circle cx="73.88" cy="444.98" r="1.3"/>
<circle cx="72.90" cy="446.77" r="1.3"/>
<circle cx="75.08" cy="446.27" r="1.3"/>
<circle cx="72.56" cy="447.02" r="1.3"/>
<circle cx="78.36" cy="445.14" r="1.3"/>
<circle cx="78.64" cy="448.89" r="1.3"/>
<circle cx="77.19" cy="447.12" r="1.3"/>
<circle cx="80.44" cy="442.88" r="1.3"/>
<circle cx="81.15" cy="440.90" r="1.3"/>
<circle cx="83.79" cy="443.15" r="1.3"/>
<circle cx="83.01" cy="443.84" r="1.3"/>
<circle cx="84.67" cy="446.74" r="1.3"/>
<circle cx="86.59" cy="448.88" r="1.3"/>
<circle cx="81.73" cy="450.00" r="1.3"/>
<circle cx="77.22" cy="450.19" r="1.3"/>
<circle cx="78.72" cy="452.27" r="1.3"/>
<circle cx="81.27" cy="452.71" r="1.3"/>
<circle cx="83.39" cy="451.56" r="1.3"/>
<circle cx="89.02" cy="447.75" r="1.3"/>
<circle cx="88.52" cy="446.13" r="1.3"/>
<circle cx="89.45" cy="446.30" r="1.3"/>
<circle cx="93.33" cy="440.56" r="1.3"/>
<circle cx="91.61" cy="441.81" r="1.3"/>
<circle cx="93.80" cy="445.53" r="1.3"/>
<circle cx="98.64" cy="444.39" r="1.3"/>
<circle cx="98.47" cy="446.68" r="1.3"/>
<circle cx="100.25" cy="442.09" r="1.3"/>
<circle cx="100.86" cy="445.49" r="1.3"/>
<circle cx="101.38" cy="448.68" r="1.3"/>
<circle cx="100.69" cy="449.86" r="1.3"/>
<circle cx="93.08" cy="450.10" r="1.3"/>
<circle cx="89.34" cy="453.75" r="1.3"/>
<circle cx="90.94" cy="453.33" r="1.3"/>
<circle cx="86.14" cy="456.21" r="1.3"/>
<circle cx="85.49" cy="452.85" r="1.3"/>
<circle cx="81.59" cy="454.12" r="1.3"/>
<circle cx="82.59" cy="454.60" r="1.3"/>
<circle cx="92.03" cy="456.55" r="1.3"/>
<circle cx="74.88" cy="453.20" r="1.3"/>
<circle cx="73.94" cy="452.47" r="1.3"/>
<circle cx="72.28" cy="448.97" r="1.3"/>
<circle cx="77.98" cy="452.34" r="1.3"/>
</g>
<g fill="#f26b6b" stroke="#262626" stroke-width="0.65">
<circle cx="74.6" cy="457.7" r="2.2"/>
<circle cx="73.8" cy="462.1" r="2.2"/>
<circle cx="80.1" cy="468.4" r="2.2"/>
</g>
<rect x="42.2" y="429.3" width="62.8" height="53.6" fill="none" stroke="#4d4d4d" stroke-width="0.7"/>
<g stroke="#4d4d4d" stroke-width="0.5">
<line x1="40.2" y1="480.70" x2="42.2" y2="480.70"/>
<line x1="40.2" y1="468.52" x2="42.2" y2="468.52"/>
<line x1="40.2" y1="456.35" x2="42.2" y2="456.35"/>
<line x1="40.2" y1="444.17" x2="42.2" y2="444.17"/>
<line x1="40.2" y1="432.00" x2="42.2" y2="432.00"/>
</g><g font-size="5.4" fill="#4d4d4d" text-anchor="end">
<text x="38.9" y="482.60">0.00</text>
<text x="38.9" y="470.42">0.25</text>
<text x="38.9" y="458.25">0.50</text>
<text x="38.9" y="446.07">0.75</text>
<text x="38.9" y="433.90">1.00</text>
</g>
<rect x="108.4" y="400.3" width="62.8" height="29.0" fill="#d9d9d9" stroke="#4d4d4d" stroke-width="0.7"/>
<g font-size="5.3" fill="#222" text-anchor="middle">
<text x="139.80" y="410.90">Acute myeloid</text>
<text x="139.80" y="417.30">leukemia with</text>
<text x="139.80" y="423.70">mutated CEBPA</text>
</g>
<g stroke="#ebebeb">
<line x1="111.25" y1="429.3" x2="111.25" y2="482.90000000000003" stroke-width="0.6"/>
<line x1="139.80" y1="429.3" x2="139.80" y2="482.90000000000003" stroke-width="0.6"/>
<line x1="168.35" y1="429.3" x2="168.35" y2="482.90000000000003" stroke-width="0.6"/>
<line x1="125.53" y1="429.3" x2="125.53" y2="482.90000000000003" stroke-width="0.3"/>
<line x1="154.07" y1="429.3" x2="154.07" y2="482.90000000000003" stroke-width="0.3"/>
<line x1="108.4" y1="480.70" x2="171.2" y2="480.70" stroke-width="0.55"/>
<line x1="108.4" y1="468.52" x2="171.2" y2="468.52" stroke-width="0.55"/>
<line x1="108.4" y1="456.35" x2="171.2" y2="456.35" stroke-width="0.55"/>
<line x1="108.4" y1="444.17" x2="171.2" y2="444.17" stroke-width="0.55"/>
<line x1="108.4" y1="432.00" x2="171.2" y2="432.00" stroke-width="0.55"/>
<line x1="108.4" y1="474.61" x2="171.2" y2="474.61" stroke-width="0.3"/>
<line x1="108.4" y1="462.44" x2="171.2" y2="462.44" stroke-width="0.3"/>
<line x1="108.4" y1="450.26" x2="171.2" y2="450.26" stroke-width="0.3"/>
<line x1="108.4" y1="438.09" x2="171.2" y2="438.09" stroke-width="0.3"/>
</g>
<g fill="#c6c6c6">
<circle cx="114.72" cy="447.63" r="1.3"/>
<circle cx="119.93" cy="449.80" r="1.3"/>
<circle cx="122.10" cy="451.71" r="1.3"/>
<circle cx="116.89" cy="452.57" r="1.3"/>
<circle cx="126.44" cy="452.57" r="1.3"/>
<circle cx="128.61" cy="447.89" r="1.3"/>
<circle cx="115.59" cy="455.00" r="1.3"/>
<circle cx="117.76" cy="455.87" r="1.3"/>
<circle cx="121.23" cy="455.00" r="1.3"/>
<circle cx="121.66" cy="457.61" r="1.3"/>
<circle cx="112.12" cy="458.04" r="1.3"/>
<circle cx="111.25" cy="460.21" r="1.3"/>
<circle cx="113.85" cy="461.08" r="1.3"/>
<circle cx="116.02" cy="462.38" r="1.3"/>
<circle cx="116.89" cy="464.55" r="1.3"/>
<circle cx="116.46" cy="466.72" r="1.3"/>
<circle cx="118.63" cy="466.72" r="1.3"/>
<circle cx="119.49" cy="463.69" r="1.3"/>
<circle cx="121.23" cy="461.95" r="1.3"/>
<circle cx="120.80" cy="458.91" r="1.3"/>
<circle cx="122.97" cy="463.69" r="1.3"/>
<circle cx="123.83" cy="465.42" r="1.3"/>
<circle cx="125.57" cy="464.12" r="1.3"/>
<circle cx="122.10" cy="465.86" r="1.3"/>
<circle cx="124.70" cy="468.46" r="1.3"/>
<circle cx="126.87" cy="466.29" r="1.3"/>
<circle cx="127.74" cy="469.76" r="1.3"/>
<circle cx="119.49" cy="465.42" r="1.3"/>
<circle cx="118.19" cy="463.25" r="1.3"/>
<circle cx="125.57" cy="461.95" r="1.3"/>
<circle cx="129.91" cy="461.95" r="1.3"/>
<circle cx="131.64" cy="460.21" r="1.3"/>
<circle cx="129.04" cy="459.34" r="1.3"/>
<circle cx="132.51" cy="463.69" r="1.3"/>
<circle cx="131.21" cy="452.83" r="1.3"/>
<circle cx="133.38" cy="452.40" r="1.3"/>
<circle cx="135.11" cy="451.97" r="1.3"/>
<circle cx="134.25" cy="458.48" r="1.3"/>
<circle cx="135.98" cy="457.61" r="1.3"/>
<circle cx="137.72" cy="456.74" r="1.3"/>
<circle cx="139.02" cy="455.00" r="1.3"/>
<circle cx="138.59" cy="452.40" r="1.3"/>
<circle cx="136.85" cy="461.95" r="1.3"/>
<circle cx="134.68" cy="466.72" r="1.3"/>
<circle cx="138.59" cy="466.12" r="1.3"/>
<circle cx="141.62" cy="468.89" r="1.3"/>
<circle cx="141.62" cy="464.55" r="1.3"/>
<circle cx="138.15" cy="442.85" r="1.3"/>
<circle cx="139.02" cy="444.59" r="1.3"/>
<circle cx="137.72" cy="446.32" r="1.3"/>
<circle cx="139.45" cy="447.63" r="1.3"/>
<circle cx="140.75" cy="445.89" r="1.3"/>
<circle cx="142.92" cy="445.02" r="1.3"/>
<circle cx="142.92" cy="448.49" r="1.3"/>
<circle cx="145.09" cy="447.63" r="1.3"/>
<circle cx="145.53" cy="441.98" r="1.3"/>
<circle cx="149.00" cy="440.25" r="1.3"/>
<circle cx="148.13" cy="444.15" r="1.3"/>
<circle cx="150.73" cy="442.85" r="1.3"/>
<circle cx="152.47" cy="445.02" r="1.3"/>
<circle cx="151.60" cy="447.63" r="1.3"/>
<circle cx="147.70" cy="449.80" r="1.3"/>
<circle cx="144.66" cy="451.10" r="1.3"/>
<circle cx="146.40" cy="452.83" r="1.3"/>
<circle cx="149.00" cy="452.40" r="1.3"/>
<circle cx="150.73" cy="450.66" r="1.3"/>
<circle cx="153.34" cy="448.93" r="1.3"/>
<circle cx="155.51" cy="447.63" r="1.3"/>
<circle cx="156.81" cy="445.89" r="1.3"/>
<circle cx="158.11" cy="441.11" r="1.3"/>
<circle cx="159.41" cy="443.72" r="1.3"/>
<circle cx="161.15" cy="444.59" r="1.3"/>
<circle cx="163.75" cy="443.72" r="1.3"/>
<circle cx="165.49" cy="445.02" r="1.3"/>
<circle cx="168.09" cy="442.42" r="1.3"/>
<circle cx="168.09" cy="445.89" r="1.3"/>
<circle cx="168.09" cy="448.49" r="1.3"/>
<circle cx="165.05" cy="449.80" r="1.3"/>
<circle cx="158.98" cy="451.53" r="1.3"/>
<circle cx="156.81" cy="452.40" r="1.3"/>
<circle cx="155.51" cy="454.57" r="1.3"/>
<circle cx="153.34" cy="455.00" r="1.3"/>
<circle cx="150.73" cy="454.57" r="1.3"/>
<circle cx="149.00" cy="455.87" r="1.3"/>
<circle cx="147.26" cy="455.00" r="1.3"/>
<circle cx="144.66" cy="456.74" r="1.3"/>
<circle cx="146.40" cy="459.78" r="1.3"/>
<circle cx="145.53" cy="462.38" r="1.3"/>
<circle cx="147.26" cy="463.69" r="1.3"/>
<circle cx="150.73" cy="460.65" r="1.3"/>
<circle cx="152.90" cy="461.08" r="1.3"/>
<circle cx="151.17" cy="464.12" r="1.3"/>
<circle cx="154.64" cy="463.69" r="1.3"/>
<circle cx="158.11" cy="467.59" r="1.3"/>
<circle cx="163.32" cy="468.03" r="1.3"/>
<circle cx="162.88" cy="471.50" r="1.3"/>
<circle cx="168.09" cy="471.24" r="1.3"/>
<circle cx="163.75" cy="457.17" r="1.3"/>
<circle cx="165.05" cy="458.91" r="1.3"/>
<circle cx="156.81" cy="456.74" r="1.3"/>
<circle cx="158.54" cy="455.00" r="1.3"/>
<circle cx="155.07" cy="458.48" r="1.3"/>
<circle cx="142.92" cy="455.00" r="1.3"/>
<circle cx="141.19" cy="453.27" r="1.3"/>
<circle cx="136.85" cy="450.66" r="1.3"/>
<circle cx="139.45" cy="450.23" r="1.3"/>
<circle cx="143.79" cy="451.53" r="1.3"/>
<circle cx="111.06" cy="459.98" r="1.3"/>
<circle cx="115.55" cy="461.21" r="1.3"/>
<circle cx="116.05" cy="462.04" r="1.3"/>
<circle cx="115.63" cy="464.51" r="1.3"/>
<circle cx="116.98" cy="465.58" r="1.3"/>
<circle cx="117.00" cy="467.49" r="1.3"/>
<circle cx="117.86" cy="462.48" r="1.3"/>
<circle cx="122.00" cy="463.73" r="1.3"/>
<circle cx="122.72" cy="457.10" r="1.3"/>
<circle cx="123.58" cy="463.24" r="1.3"/>
<circle cx="122.46" cy="467.31" r="1.3"/>
<circle cx="125.68" cy="465.84" r="1.3"/>
<circle cx="120.86" cy="466.86" r="1.3"/>
<circle cx="122.82" cy="468.60" r="1.3"/>
<circle cx="126.63" cy="464.96" r="1.3"/>
<circle cx="127.81" cy="469.22" r="1.3"/>
<circle cx="119.49" cy="464.79" r="1.3"/>
<circle cx="118.02" cy="464.12" r="1.3"/>
<circle cx="127.56" cy="460.02" r="1.3"/>
<circle cx="140.38" cy="454.19" r="1.3"/>
<circle cx="137.85" cy="453.45" r="1.3"/>
<circle cx="137.31" cy="444.53" r="1.3"/>
<circle cx="140.08" cy="444.98" r="1.3"/>
<circle cx="139.10" cy="446.77" r="1.3"/>
<circle cx="141.28" cy="446.27" r="1.3"/>
<circle cx="138.76" cy="447.02" r="1.3"/>
<circle cx="144.56" cy="445.14" r="1.3"/>
<circle cx="144.84" cy="448.89" r="1.3"/>
<circle cx="143.39" cy="447.12" r="1.3"/>
<circle cx="146.64" cy="442.88" r="1.3"/>
<circle cx="147.35" cy="440.90" r="1.3"/>
<circle cx="149.99" cy="443.15" r="1.3"/>
<circle cx="149.21" cy="443.84" r="1.3"/>
<circle cx="150.87" cy="446.74" r="1.3"/>
<circle cx="152.79" cy="448.88" r="1.3"/>
<circle cx="147.93" cy="450.00" r="1.3"/>
<circle cx="143.42" cy="450.19" r="1.3"/>
<circle cx="144.92" cy="452.27" r="1.3"/>
<circle cx="147.47" cy="452.71" r="1.3"/>
<circle cx="149.59" cy="451.56" r="1.3"/>
<circle cx="155.22" cy="447.75" r="1.3"/>
<circle cx="154.72" cy="446.13" r="1.3"/>
<circle cx="155.65" cy="446.30" r="1.3"/>
<circle cx="159.53" cy="440.56" r="1.3"/>
<circle cx="157.81" cy="441.81" r="1.3"/>
<circle cx="160.00" cy="445.53" r="1.3"/>
<circle cx="164.84" cy="444.39" r="1.3"/>
<circle cx="164.67" cy="446.68" r="1.3"/>
<circle cx="166.45" cy="442.09" r="1.3"/>
<circle cx="167.06" cy="445.49" r="1.3"/>
<circle cx="167.58" cy="448.68" r="1.3"/>
<circle cx="166.89" cy="449.86" r="1.3"/>
<circle cx="159.28" cy="450.10" r="1.3"/>
<circle cx="155.54" cy="453.75" r="1.3"/>
<circle cx="157.14" cy="453.33" r="1.3"/>
<circle cx="152.34" cy="456.21" r="1.3"/>
<circle cx="151.69" cy="452.85" r="1.3"/>
<circle cx="147.79" cy="454.12" r="1.3"/>
<circle cx="148.79" cy="454.60" r="1.3"/>
<circle cx="158.23" cy="456.55" r="1.3"/>
<circle cx="141.08" cy="453.20" r="1.3"/>
<circle cx="140.14" cy="452.47" r="1.3"/>
<circle cx="138.48" cy="448.97" r="1.3"/>
<circle cx="144.18" cy="452.34" r="1.3"/>
</g>
<line x1="114.3" y1="463" x2="158.4" y2="460" stroke="#111" stroke-width="0.6"/>
<g fill="#e8971e" stroke="#262626" stroke-width="0.65">
<circle cx="112.6" cy="458.2" r="2.2"/>
<circle cx="114.3" cy="460.9" r="2.2"/>
<circle cx="117.9" cy="465.3" r="2.2"/>
<circle cx="123.5" cy="466.1" r="2.2"/>
<circle cx="125.3" cy="465.6" r="2.2"/>
<circle cx="126.3" cy="466.7" r="2.2"/>
<circle cx="135.1" cy="466.7" r="2.2"/>
<circle cx="138.7" cy="466.1" r="2.2"/>
<circle cx="141.7" cy="469.1" r="2.2"/>
<circle cx="140.3" cy="446.2" r="2.2"/>
<circle cx="144" cy="451.5" r="2.2"/>
<circle cx="144.7" cy="457.7" r="2.2"/>
<circle cx="150.5" cy="460.3" r="2.2"/>
<circle cx="153.1" cy="460.9" r="2.2"/>
<circle cx="157" cy="455.9" r="2.2"/>
<circle cx="157.9" cy="467.4" r="2.2"/>
</g>
<line x1="114.3" y1="463" x2="158.4" y2="460" stroke="#111" stroke-width="0.6" opacity="0.5"/>
<g font-size="5.5" fill="#222"><text x="116.70" y="438.00"><tspan font-style="italic">R</tspan><tspan font-size="3.7" dy="-2">2</tspan><tspan dy="2"> = 0.04</tspan></text><text x="167.40" y="438.00" text-anchor="end"><tspan font-style="italic">P</tspan> = 0.450</text></g>
<rect x="108.4" y="429.3" width="62.8" height="53.6" fill="none" stroke="#4d4d4d" stroke-width="0.7"/>
<rect x="174.7" y="400.3" width="62.8" height="29.0" fill="#d9d9d9" stroke="#4d4d4d" stroke-width="0.7"/>
<g font-size="5.3" fill="#222" text-anchor="middle">
<text x="206.10" y="410.90">Acute myeloid</text>
<text x="206.10" y="417.30">leukemia with</text>
<text x="206.10" y="423.70">mutated NPM1</text>
</g>
<g stroke="#ebebeb">
<line x1="177.55" y1="429.3" x2="177.55" y2="482.90000000000003" stroke-width="0.6"/>
<line x1="206.10" y1="429.3" x2="206.10" y2="482.90000000000003" stroke-width="0.6"/>
<line x1="234.65" y1="429.3" x2="234.65" y2="482.90000000000003" stroke-width="0.6"/>
<line x1="191.82" y1="429.3" x2="191.82" y2="482.90000000000003" stroke-width="0.3"/>
<line x1="220.38" y1="429.3" x2="220.38" y2="482.90000000000003" stroke-width="0.3"/>
<line x1="174.7" y1="480.70" x2="237.5" y2="480.70" stroke-width="0.55"/>
<line x1="174.7" y1="468.52" x2="237.5" y2="468.52" stroke-width="0.55"/>
<line x1="174.7" y1="456.35" x2="237.5" y2="456.35" stroke-width="0.55"/>
<line x1="174.7" y1="444.17" x2="237.5" y2="444.17" stroke-width="0.55"/>
<line x1="174.7" y1="432.00" x2="237.5" y2="432.00" stroke-width="0.55"/>
<line x1="174.7" y1="474.61" x2="237.5" y2="474.61" stroke-width="0.3"/>
<line x1="174.7" y1="462.44" x2="237.5" y2="462.44" stroke-width="0.3"/>
<line x1="174.7" y1="450.26" x2="237.5" y2="450.26" stroke-width="0.3"/>
<line x1="174.7" y1="438.09" x2="237.5" y2="438.09" stroke-width="0.3"/>
</g>
<g fill="#c6c6c6">
<circle cx="181.02" cy="447.63" r="1.3"/>
<circle cx="186.23" cy="449.80" r="1.3"/>
<circle cx="188.40" cy="451.71" r="1.3"/>
<circle cx="183.19" cy="452.57" r="1.3"/>
<circle cx="192.74" cy="452.57" r="1.3"/>
<circle cx="194.91" cy="447.89" r="1.3"/>
<circle cx="181.89" cy="455.00" r="1.3"/>
<circle cx="184.06" cy="455.87" r="1.3"/>
<circle cx="187.53" cy="455.00" r="1.3"/>
<circle cx="187.96" cy="457.61" r="1.3"/>
<circle cx="178.42" cy="458.04" r="1.3"/>
<circle cx="177.55" cy="460.21" r="1.3"/>
<circle cx="180.15" cy="461.08" r="1.3"/>
<circle cx="182.32" cy="462.38" r="1.3"/>
<circle cx="183.19" cy="464.55" r="1.3"/>
<circle cx="182.76" cy="466.72" r="1.3"/>
<circle cx="184.93" cy="466.72" r="1.3"/>
<circle cx="185.79" cy="463.69" r="1.3"/>
<circle cx="187.53" cy="461.95" r="1.3"/>
<circle cx="187.10" cy="458.91" r="1.3"/>
<circle cx="189.27" cy="463.69" r="1.3"/>
<circle cx="190.13" cy="465.42" r="1.3"/>
<circle cx="191.87" cy="464.12" r="1.3"/>
<circle cx="188.40" cy="465.86" r="1.3"/>
<circle cx="191.00" cy="468.46" r="1.3"/>
<circle cx="193.17" cy="466.29" r="1.3"/>
<circle cx="194.04" cy="469.76" r="1.3"/>
<circle cx="185.79" cy="465.42" r="1.3"/>
<circle cx="184.49" cy="463.25" r="1.3"/>
<circle cx="191.87" cy="461.95" r="1.3"/>
<circle cx="196.21" cy="461.95" r="1.3"/>
<circle cx="197.94" cy="460.21" r="1.3"/>
<circle cx="195.34" cy="459.34" r="1.3"/>
<circle cx="198.81" cy="463.69" r="1.3"/>
<circle cx="197.51" cy="452.83" r="1.3"/>
<circle cx="199.68" cy="452.40" r="1.3"/>
<circle cx="201.41" cy="451.97" r="1.3"/>
<circle cx="200.55" cy="458.48" r="1.3"/>
<circle cx="202.28" cy="457.61" r="1.3"/>
<circle cx="204.02" cy="456.74" r="1.3"/>
<circle cx="205.32" cy="455.00" r="1.3"/>
<circle cx="204.89" cy="452.40" r="1.3"/>
<circle cx="203.15" cy="461.95" r="1.3"/>
<circle cx="200.98" cy="466.72" r="1.3"/>
<circle cx="204.89" cy="466.12" r="1.3"/>
<circle cx="207.92" cy="468.89" r="1.3"/>
<circle cx="207.92" cy="464.55" r="1.3"/>
<circle cx="204.45" cy="442.85" r="1.3"/>
<circle cx="205.32" cy="444.59" r="1.3"/>
<circle cx="204.02" cy="446.32" r="1.3"/>
<circle cx="205.75" cy="447.63" r="1.3"/>
<circle cx="207.05" cy="445.89" r="1.3"/>
<circle cx="209.22" cy="445.02" r="1.3"/>
<circle cx="209.22" cy="448.49" r="1.3"/>
<circle cx="211.39" cy="447.63" r="1.3"/>
<circle cx="211.83" cy="441.98" r="1.3"/>
<circle cx="215.30" cy="440.25" r="1.3"/>
<circle cx="214.43" cy="444.15" r="1.3"/>
<circle cx="217.03" cy="442.85" r="1.3"/>
<circle cx="218.77" cy="445.02" r="1.3"/>
<circle cx="217.90" cy="447.63" r="1.3"/>
<circle cx="214.00" cy="449.80" r="1.3"/>
<circle cx="210.96" cy="451.10" r="1.3"/>
<circle cx="212.70" cy="452.83" r="1.3"/>
<circle cx="215.30" cy="452.40" r="1.3"/>
<circle cx="217.03" cy="450.66" r="1.3"/>
<circle cx="219.64" cy="448.93" r="1.3"/>
<circle cx="221.81" cy="447.63" r="1.3"/>
<circle cx="223.11" cy="445.89" r="1.3"/>
<circle cx="224.41" cy="441.11" r="1.3"/>
<circle cx="225.71" cy="443.72" r="1.3"/>
<circle cx="227.45" cy="444.59" r="1.3"/>
<circle cx="230.05" cy="443.72" r="1.3"/>
<circle cx="231.79" cy="445.02" r="1.3"/>
<circle cx="234.39" cy="442.42" r="1.3"/>
<circle cx="234.39" cy="445.89" r="1.3"/>
<circle cx="234.39" cy="448.49" r="1.3"/>
<circle cx="231.35" cy="449.80" r="1.3"/>
<circle cx="225.28" cy="451.53" r="1.3"/>
<circle cx="223.11" cy="452.40" r="1.3"/>
<circle cx="221.81" cy="454.57" r="1.3"/>
<circle cx="219.64" cy="455.00" r="1.3"/>
<circle cx="217.03" cy="454.57" r="1.3"/>
<circle cx="215.30" cy="455.87" r="1.3"/>
<circle cx="213.56" cy="455.00" r="1.3"/>
<circle cx="210.96" cy="456.74" r="1.3"/>
<circle cx="212.70" cy="459.78" r="1.3"/>
<circle cx="211.83" cy="462.38" r="1.3"/>
<circle cx="213.56" cy="463.69" r="1.3"/>
<circle cx="217.03" cy="460.65" r="1.3"/>
<circle cx="219.20" cy="461.08" r="1.3"/>
<circle cx="217.47" cy="464.12" r="1.3"/>
<circle cx="220.94" cy="463.69" r="1.3"/>
<circle cx="224.41" cy="467.59" r="1.3"/>
<circle cx="229.62" cy="468.03" r="1.3"/>
<circle cx="229.18" cy="471.50" r="1.3"/>
<circle cx="234.39" cy="471.24" r="1.3"/>
<circle cx="230.05" cy="457.17" r="1.3"/>
<circle cx="231.35" cy="458.91" r="1.3"/>
<circle cx="223.11" cy="456.74" r="1.3"/>
<circle cx="224.84" cy="455.00" r="1.3"/>
<circle cx="221.37" cy="458.48" r="1.3"/>
<circle cx="209.22" cy="455.00" r="1.3"/>
<circle cx="207.49" cy="453.27" r="1.3"/>
<circle cx="203.15" cy="450.66" r="1.3"/>
<circle cx="205.75" cy="450.23" r="1.3"/>
<circle cx="210.09" cy="451.53" r="1.3"/>
<circle cx="177.36" cy="459.98" r="1.3"/>
<circle cx="181.85" cy="461.21" r="1.3"/>
<circle cx="182.35" cy="462.04" r="1.3"/>
<circle cx="181.93" cy="464.51" r="1.3"/>
<circle cx="183.28" cy="465.58" r="1.3"/>
<circle cx="183.30" cy="467.49" r="1.3"/>
<circle cx="184.16" cy="462.48" r="1.3"/>
<circle cx="188.30" cy="463.73" r="1.3"/>
<circle cx="189.02" cy="457.10" r="1.3"/>
<circle cx="189.88" cy="463.24" r="1.3"/>
<circle cx="188.76" cy="467.31" r="1.3"/>
<circle cx="191.98" cy="465.84" r="1.3"/>
<circle cx="187.16" cy="466.86" r="1.3"/>
<circle cx="189.12" cy="468.60" r="1.3"/>
<circle cx="192.93" cy="464.96" r="1.3"/>
<circle cx="194.11" cy="469.22" r="1.3"/>
<circle cx="185.79" cy="464.79" r="1.3"/>
<circle cx="184.32" cy="464.12" r="1.3"/>
<circle cx="193.86" cy="460.02" r="1.3"/>
<circle cx="206.68" cy="454.19" r="1.3"/>
<circle cx="204.15" cy="453.45" r="1.3"/>
<circle cx="203.61" cy="444.53" r="1.3"/>
<circle cx="206.38" cy="444.98" r="1.3"/>
<circle cx="205.40" cy="446.77" r="1.3"/>
<circle cx="207.58" cy="446.27" r="1.3"/>
<circle cx="205.06" cy="447.02" r="1.3"/>
<circle cx="210.86" cy="445.14" r="1.3"/>
<circle cx="211.14" cy="448.89" r="1.3"/>
<circle cx="209.69" cy="447.12" r="1.3"/>
<circle cx="212.94" cy="442.88" r="1.3"/>
<circle cx="213.65" cy="440.90" r="1.3"/>
<circle cx="216.29" cy="443.15" r="1.3"/>
<circle cx="215.51" cy="443.84" r="1.3"/>
<circle cx="217.17" cy="446.74" r="1.3"/>
<circle cx="219.09" cy="448.88" r="1.3"/>
<circle cx="214.23" cy="450.00" r="1.3"/>
<circle cx="209.72" cy="450.19" r="1.3"/>
<circle cx="211.22" cy="452.27" r="1.3"/>
<circle cx="213.77" cy="452.71" r="1.3"/>
<circle cx="215.89" cy="451.56" r="1.3"/>
<circle cx="221.52" cy="447.75" r="1.3"/>
<circle cx="221.02" cy="446.13" r="1.3"/>
<circle cx="221.95" cy="446.30" r="1.3"/>
<circle cx="225.83" cy="440.56" r="1.3"/>
<circle cx="224.11" cy="441.81" r="1.3"/>
<circle cx="226.30" cy="445.53" r="1.3"/>
<circle cx="231.14" cy="444.39" r="1.3"/>
<circle cx="230.97" cy="446.68" r="1.3"/>
<circle cx="232.75" cy="442.09" r="1.3"/>
<circle cx="233.36" cy="445.49" r="1.3"/>
<circle cx="233.88" cy="448.68" r="1.3"/>
<circle cx="233.19" cy="449.86" r="1.3"/>
<circle cx="225.58" cy="450.10" r="1.3"/>
<circle cx="221.84" cy="453.75" r="1.3"/>
<circle cx="223.44" cy="453.33" r="1.3"/>
<circle cx="218.64" cy="456.21" r="1.3"/>
<circle cx="217.99" cy="452.85" r="1.3"/>
<circle cx="214.09" cy="454.12" r="1.3"/>
<circle cx="215.09" cy="454.60" r="1.3"/>
<circle cx="224.53" cy="456.55" r="1.3"/>
<circle cx="207.38" cy="453.20" r="1.3"/>
<circle cx="206.44" cy="452.47" r="1.3"/>
<circle cx="204.78" cy="448.97" r="1.3"/>
<circle cx="210.48" cy="452.34" r="1.3"/>
</g>
<line x1="182.1" y1="462.1" x2="232.2" y2="447.4" stroke="#111" stroke-width="0.6"/>
<g fill="#c9a227" stroke="#262626" stroke-width="0.65">
<circle cx="204.4" cy="442.4" r="2.2"/>
<circle cx="203.5" cy="443.8" r="2.2"/>
<circle cx="224.1" cy="440.6" r="2.2"/>
<circle cx="225" cy="444.7" r="2.2"/>
<circle cx="228.6" cy="444.2" r="2.2"/>
<circle cx="231.3" cy="445.6" r="2.2"/>
<circle cx="213.8" cy="442.9" r="2.2"/>
<circle cx="217" cy="442.9" r="2.2"/>
<circle cx="217.4" cy="445.6" r="2.2"/>
<circle cx="211.6" cy="446.5" r="2.2"/>
<circle cx="205.8" cy="448.7" r="2.2"/>
<circle cx="213" cy="448.2" r="2.2"/>
<circle cx="215.2" cy="449.1" r="2.2"/>
<circle cx="220.6" cy="448.2" r="2.2"/>
<circle cx="211.2" cy="450.5" r="2.2"/>
<circle cx="213.4" cy="450.9" r="2.2"/>
<circle cx="222.8" cy="451.8" r="2.2"/>
<circle cx="205.8" cy="452.7" r="2.2"/>
<circle cx="197.7" cy="452.7" r="2.2"/>
<circle cx="199.5" cy="452.7" r="2.2"/>
<circle cx="215.2" cy="453.2" r="2.2"/>
<circle cx="217.9" cy="453.6" r="2.2"/>
<circle cx="187.4" cy="455" r="2.2"/>
<circle cx="221.4" cy="455.7" r="2.2"/>
<circle cx="216.1" cy="456.8" r="2.2"/>
<circle cx="204.4" cy="455.4" r="2.2"/>
<circle cx="187" cy="458.1" r="2.2"/>
<circle cx="211.6" cy="457.6" r="2.2"/>
<circle cx="200.9" cy="458.5" r="2.2"/>
<circle cx="206.2" cy="458.5" r="2.2"/>
<circle cx="182.1" cy="461.7" r="2.2"/>
<circle cx="186.1" cy="460.8" r="2.2"/>
<circle cx="194.6" cy="461.2" r="2.2"/>
<circle cx="197.3" cy="461.7" r="2.2"/>
<circle cx="200" cy="461.4" r="2.2"/>
<circle cx="212" cy="461.7" r="2.2"/>
<circle cx="187.4" cy="463" r="2.2"/>
<circle cx="190.6" cy="463.5" r="2.2"/>
<circle cx="183.8" cy="464.8" r="2.2"/>
<circle cx="192.8" cy="465.3" r="2.2"/>
<circle cx="185.2" cy="467" r="2.2"/>
<circle cx="190.6" cy="468.4" r="2.2"/>
<circle cx="194.1" cy="469.7" r="2.2"/>
<circle cx="208" cy="464.6" r="2.2"/>
<circle cx="229.5" cy="467.9" r="2.2"/>
<circle cx="229.1" cy="471.1" r="2.2"/>
</g>
<line x1="182.1" y1="462.1" x2="232.2" y2="447.4" stroke="#111" stroke-width="0.6" opacity="0.5"/>
<g font-size="5.5" fill="#222"><text x="183.00" y="438.00"><tspan font-style="italic">R</tspan><tspan font-size="3.7" dy="-2">2</tspan><tspan dy="2"> = 0.33</tspan></text><text x="233.70" y="438.00" text-anchor="end"><tspan font-style="italic">P</tspan> &lt; 0.001</text></g>
<rect x="174.7" y="429.3" width="62.8" height="53.6" fill="none" stroke="#4d4d4d" stroke-width="0.7"/>
<rect x="240.9" y="400.3" width="62.8" height="29.0" fill="#d9d9d9" stroke="#4d4d4d" stroke-width="0.7"/>
<g font-size="5.3" fill="#222" text-anchor="middle">
<text x="272.30" y="407.70">Acute myeloid</text>
<text x="272.30" y="414.10">leukemia with</text>
<text x="272.30" y="420.50">myelodysplasia−related</text>
<text x="272.30" y="426.90">changes</text>
</g>
<g stroke="#ebebeb">
<line x1="243.75" y1="429.3" x2="243.75" y2="482.90000000000003" stroke-width="0.6"/>
<line x1="272.30" y1="429.3" x2="272.30" y2="482.90000000000003" stroke-width="0.6"/>
<line x1="300.85" y1="429.3" x2="300.85" y2="482.90000000000003" stroke-width="0.6"/>
<line x1="258.02" y1="429.3" x2="258.02" y2="482.90000000000003" stroke-width="0.3"/>
<line x1="286.57" y1="429.3" x2="286.57" y2="482.90000000000003" stroke-width="0.3"/>
<line x1="240.9" y1="480.70" x2="303.7" y2="480.70" stroke-width="0.55"/>
<line x1="240.9" y1="468.52" x2="303.7" y2="468.52" stroke-width="0.55"/>
<line x1="240.9" y1="456.35" x2="303.7" y2="456.35" stroke-width="0.55"/>
<line x1="240.9" y1="444.17" x2="303.7" y2="444.17" stroke-width="0.55"/>
<line x1="240.9" y1="432.00" x2="303.7" y2="432.00" stroke-width="0.55"/>
<line x1="240.9" y1="474.61" x2="303.7" y2="474.61" stroke-width="0.3"/>
<line x1="240.9" y1="462.44" x2="303.7" y2="462.44" stroke-width="0.3"/>
<line x1="240.9" y1="450.26" x2="303.7" y2="450.26" stroke-width="0.3"/>
<line x1="240.9" y1="438.09" x2="303.7" y2="438.09" stroke-width="0.3"/>
</g>
<g fill="#c6c6c6">
<circle cx="247.22" cy="447.63" r="1.3"/>
<circle cx="252.43" cy="449.80" r="1.3"/>
<circle cx="254.60" cy="451.71" r="1.3"/>
<circle cx="249.39" cy="452.57" r="1.3"/>
<circle cx="258.94" cy="452.57" r="1.3"/>
<circle cx="261.11" cy="447.89" r="1.3"/>
<circle cx="248.09" cy="455.00" r="1.3"/>
<circle cx="250.26" cy="455.87" r="1.3"/>
<circle cx="253.73" cy="455.00" r="1.3"/>
<circle cx="254.16" cy="457.61" r="1.3"/>
<circle cx="244.62" cy="458.04" r="1.3"/>
<circle cx="243.75" cy="460.21" r="1.3"/>
<circle cx="246.35" cy="461.08" r="1.3"/>
<circle cx="248.52" cy="462.38" r="1.3"/>
<circle cx="249.39" cy="464.55" r="1.3"/>
<circle cx="248.96" cy="466.72" r="1.3"/>
<circle cx="251.13" cy="466.72" r="1.3"/>
<circle cx="251.99" cy="463.69" r="1.3"/>
<circle cx="253.73" cy="461.95" r="1.3"/>
<circle cx="253.30" cy="458.91" r="1.3"/>
<circle cx="255.47" cy="463.69" r="1.3"/>
<circle cx="256.33" cy="465.42" r="1.3"/>
<circle cx="258.07" cy="464.12" r="1.3"/>
<circle cx="254.60" cy="465.86" r="1.3"/>
<circle cx="257.20" cy="468.46" r="1.3"/>
<circle cx="259.37" cy="466.29" r="1.3"/>
<circle cx="260.24" cy="469.76" r="1.3"/>
<circle cx="251.99" cy="465.42" r="1.3"/>
<circle cx="250.69" cy="463.25" r="1.3"/>
<circle cx="258.07" cy="461.95" r="1.3"/>
<circle cx="262.41" cy="461.95" r="1.3"/>
<circle cx="264.14" cy="460.21" r="1.3"/>
<circle cx="261.54" cy="459.34" r="1.3"/>
<circle cx="265.01" cy="463.69" r="1.3"/>
<circle cx="263.71" cy="452.83" r="1.3"/>
<circle cx="265.88" cy="452.40" r="1.3"/>
<circle cx="267.61" cy="451.97" r="1.3"/>
<circle cx="266.75" cy="458.48" r="1.3"/>
<circle cx="268.48" cy="457.61" r="1.3"/>
<circle cx="270.22" cy="456.74" r="1.3"/>
<circle cx="271.52" cy="455.00" r="1.3"/>
<circle cx="271.09" cy="452.40" r="1.3"/>
<circle cx="269.35" cy="461.95" r="1.3"/>
<circle cx="267.18" cy="466.72" r="1.3"/>
<circle cx="271.09" cy="466.12" r="1.3"/>
<circle cx="274.12" cy="468.89" r="1.3"/>
<circle cx="274.12" cy="464.55" r="1.3"/>
<circle cx="270.65" cy="442.85" r="1.3"/>
<circle cx="271.52" cy="444.59" r="1.3"/>
<circle cx="270.22" cy="446.32" r="1.3"/>
<circle cx="271.95" cy="447.63" r="1.3"/>
<circle cx="273.25" cy="445.89" r="1.3"/>
<circle cx="275.42" cy="445.02" r="1.3"/>
<circle cx="275.42" cy="448.49" r="1.3"/>
<circle cx="277.59" cy="447.63" r="1.3"/>
<circle cx="278.03" cy="441.98" r="1.3"/>
<circle cx="281.50" cy="440.25" r="1.3"/>
<circle cx="280.63" cy="444.15" r="1.3"/>
<circle cx="283.23" cy="442.85" r="1.3"/>
<circle cx="284.97" cy="445.02" r="1.3"/>
<circle cx="284.10" cy="447.63" r="1.3"/>
<circle cx="280.20" cy="449.80" r="1.3"/>
<circle cx="277.16" cy="451.10" r="1.3"/>
<circle cx="278.90" cy="452.83" r="1.3"/>
<circle cx="281.50" cy="452.40" r="1.3"/>
<circle cx="283.23" cy="450.66" r="1.3"/>
<circle cx="285.84" cy="448.93" r="1.3"/>
<circle cx="288.01" cy="447.63" r="1.3"/>
<circle cx="289.31" cy="445.89" r="1.3"/>
<circle cx="290.61" cy="441.11" r="1.3"/>
<circle cx="291.91" cy="443.72" r="1.3"/>
<circle cx="293.65" cy="444.59" r="1.3"/>
<circle cx="296.25" cy="443.72" r="1.3"/>
<circle cx="297.99" cy="445.02" r="1.3"/>
<circle cx="300.59" cy="442.42" r="1.3"/>
<circle cx="300.59" cy="445.89" r="1.3"/>
<circle cx="300.59" cy="448.49" r="1.3"/>
<circle cx="297.55" cy="449.80" r="1.3"/>
<circle cx="291.48" cy="451.53" r="1.3"/>
<circle cx="289.31" cy="452.40" r="1.3"/>
<circle cx="288.01" cy="454.57" r="1.3"/>
<circle cx="285.84" cy="455.00" r="1.3"/>
<circle cx="283.23" cy="454.57" r="1.3"/>
<circle cx="281.50" cy="455.87" r="1.3"/>
<circle cx="279.76" cy="455.00" r="1.3"/>
<circle cx="277.16" cy="456.74" r="1.3"/>
<circle cx="278.90" cy="459.78" r="1.3"/>
<circle cx="278.03" cy="462.38" r="1.3"/>
<circle cx="279.76" cy="463.69" r="1.3"/>
<circle cx="283.23" cy="460.65" r="1.3"/>
<circle cx="285.40" cy="461.08" r="1.3"/>
<circle cx="283.67" cy="464.12" r="1.3"/>
<circle cx="287.14" cy="463.69" r="1.3"/>
<circle cx="290.61" cy="467.59" r="1.3"/>
<circle cx="295.82" cy="468.03" r="1.3"/>
<circle cx="295.38" cy="471.50" r="1.3"/>
<circle cx="300.59" cy="471.24" r="1.3"/>
<circle cx="296.25" cy="457.17" r="1.3"/>
<circle cx="297.55" cy="458.91" r="1.3"/>
<circle cx="289.31" cy="456.74" r="1.3"/>
<circle cx="291.04" cy="455.00" r="1.3"/>
<circle cx="287.57" cy="458.48" r="1.3"/>
<circle cx="275.42" cy="455.00" r="1.3"/>
<circle cx="273.69" cy="453.27" r="1.3"/>
<circle cx="269.35" cy="450.66" r="1.3"/>
<circle cx="271.95" cy="450.23" r="1.3"/>
<circle cx="276.29" cy="451.53" r="1.3"/>
<circle cx="243.56" cy="459.98" r="1.3"/>
<circle cx="248.05" cy="461.21" r="1.3"/>
<circle cx="248.55" cy="462.04" r="1.3"/>
<circle cx="248.13" cy="464.51" r="1.3"/>
<circle cx="249.48" cy="465.58" r="1.3"/>
<circle cx="249.50" cy="467.49" r="1.3"/>
<circle cx="250.36" cy="462.48" r="1.3"/>
<circle cx="254.50" cy="463.73" r="1.3"/>
<circle cx="255.22" cy="457.10" r="1.3"/>
<circle cx="256.08" cy="463.24" r="1.3"/>
<circle cx="254.96" cy="467.31" r="1.3"/>
<circle cx="258.18" cy="465.84" r="1.3"/>
<circle cx="253.36" cy="466.86" r="1.3"/>
<circle cx="255.32" cy="468.60" r="1.3"/>
<circle cx="259.13" cy="464.96" r="1.3"/>
<circle cx="260.31" cy="469.22" r="1.3"/>
<circle cx="251.99" cy="464.79" r="1.3"/>
<circle cx="250.52" cy="464.12" r="1.3"/>
<circle cx="260.06" cy="460.02" r="1.3"/>
<circle cx="272.88" cy="454.19" r="1.3"/>
<circle cx="270.35" cy="453.45" r="1.3"/>
<circle cx="269.81" cy="444.53" r="1.3"/>
<circle cx="272.58" cy="444.98" r="1.3"/>
<circle cx="271.60" cy="446.77" r="1.3"/>
<circle cx="273.78" cy="446.27" r="1.3"/>
<circle cx="271.26" cy="447.02" r="1.3"/>
<circle cx="277.06" cy="445.14" r="1.3"/>
<circle cx="277.34" cy="448.89" r="1.3"/>
<circle cx="275.89" cy="447.12" r="1.3"/>
<circle cx="279.14" cy="442.88" r="1.3"/>
<circle cx="279.85" cy="440.90" r="1.3"/>
<circle cx="282.49" cy="443.15" r="1.3"/>
<circle cx="281.71" cy="443.84" r="1.3"/>
<circle cx="283.37" cy="446.74" r="1.3"/>
<circle cx="285.29" cy="448.88" r="1.3"/>
<circle cx="280.43" cy="450.00" r="1.3"/>
<circle cx="275.92" cy="450.19" r="1.3"/>
<circle cx="277.42" cy="452.27" r="1.3"/>
<circle cx="279.97" cy="452.71" r="1.3"/>
<circle cx="282.09" cy="451.56" r="1.3"/>
<circle cx="287.72" cy="447.75" r="1.3"/>
<circle cx="287.22" cy="446.13" r="1.3"/>
<circle cx="288.15" cy="446.30" r="1.3"/>
<circle cx="292.03" cy="440.56" r="1.3"/>
<circle cx="290.31" cy="441.81" r="1.3"/>
<circle cx="292.50" cy="445.53" r="1.3"/>
<circle cx="297.34" cy="444.39" r="1.3"/>
<circle cx="297.17" cy="446.68" r="1.3"/>
<circle cx="298.95" cy="442.09" r="1.3"/>
<circle cx="299.56" cy="445.49" r="1.3"/>
<circle cx="300.08" cy="448.68" r="1.3"/>
<circle cx="299.39" cy="449.86" r="1.3"/>
<circle cx="291.78" cy="450.10" r="1.3"/>
<circle cx="288.04" cy="453.75" r="1.3"/>
<circle cx="289.64" cy="453.33" r="1.3"/>
<circle cx="284.84" cy="456.21" r="1.3"/>
<circle cx="284.19" cy="452.85" r="1.3"/>
<circle cx="280.29" cy="454.12" r="1.3"/>
<circle cx="281.29" cy="454.60" r="1.3"/>
<circle cx="290.73" cy="456.55" r="1.3"/>
<circle cx="273.58" cy="453.20" r="1.3"/>
<circle cx="272.64" cy="452.47" r="1.3"/>
<circle cx="270.98" cy="448.97" r="1.3"/>
<circle cx="276.68" cy="452.34" r="1.3"/>
</g>
<line x1="248.1" y1="457.5" x2="300.9" y2="447.4" stroke="#111" stroke-width="0.6"/>
<g fill="#6cbd45" stroke="#262626" stroke-width="0.65">
<circle cx="247.2" cy="447.8" r="2.2"/>
<circle cx="252.5" cy="450" r="2.2"/>
<circle cx="249.4" cy="452.7" r="2.2"/>
<circle cx="247.6" cy="455.4" r="2.2"/>
<circle cx="261" cy="448" r="2.2"/>
<circle cx="272" cy="442.4" r="2.2"/>
<circle cx="253.9" cy="459.9" r="2.2"/>
<circle cx="262.8" cy="459.7" r="2.2"/>
<circle cx="265.1" cy="459.9" r="2.2"/>
<circle cx="259.5" cy="463" r="2.2"/>
<circle cx="264.2" cy="463.9" r="2.2"/>
<circle cx="270" cy="462.1" r="2.2"/>
<circle cx="275.4" cy="448.2" r="2.2"/>
<circle cx="271.8" cy="455" r="2.2"/>
<circle cx="275.4" cy="454.1" r="2.2"/>
<circle cx="278.9" cy="450.5" r="2.2"/>
<circle cx="279.8" cy="452.7" r="2.2"/>
<circle cx="282.5" cy="453.2" r="2.2"/>
<circle cx="283.4" cy="455.4" r="2.2"/>
<circle cx="277.4" cy="459" r="2.2"/>
<circle cx="279.4" cy="463.5" r="2.2"/>
<circle cx="283.9" cy="464.4" r="2.2"/>
<circle cx="287.6" cy="458.4" r="2.2"/>
<circle cx="281" cy="444.2" r="2.2"/>
<circle cx="285.2" cy="443.3" r="2.2"/>
<circle cx="287.9" cy="445.6" r="2.2"/>
<circle cx="286.6" cy="448.2" r="2.2"/>
<circle cx="289.2" cy="447.8" r="2.2"/>
<circle cx="291.5" cy="443.8" r="2.2"/>
<circle cx="295.3" cy="445" r="2.2"/>
<circle cx="300.9" cy="442.4" r="2.2"/>
</g>
<line x1="248.1" y1="457.5" x2="300.9" y2="447.4" stroke="#111" stroke-width="0.6" opacity="0.5"/>
<g font-size="5.5" fill="#222"><text x="249.20" y="438.00"><tspan font-style="italic">R</tspan><tspan font-size="3.7" dy="-2">2</tspan><tspan dy="2"> = 0.17</tspan></text><text x="299.90" y="438.00" text-anchor="end"><tspan font-style="italic">P</tspan> = 0.015</text></g>
<rect x="240.9" y="429.3" width="62.8" height="53.6" fill="none" stroke="#4d4d4d" stroke-width="0.7"/>
<rect x="42.2" y="487.0" width="62.8" height="29.0" fill="#d9d9d9" stroke="#4d4d4d" stroke-width="0.7"/>
<g font-size="5.3" fill="#222" text-anchor="middle">
<text x="73.60" y="494.40">Acute myeloid</text>
<text x="73.60" y="500.80">leukemia with</text>
<text x="73.60" y="507.20">t(6;9)(p23;q34);</text>
<text x="73.60" y="513.60">DEK−NUP214</text>
</g>
<g stroke="#ebebeb">
<line x1="45.05" y1="516.0" x2="45.05" y2="569.6" stroke-width="0.6"/>
<line x1="73.60" y1="516.0" x2="73.60" y2="569.6" stroke-width="0.6"/>
<line x1="102.15" y1="516.0" x2="102.15" y2="569.6" stroke-width="0.6"/>
<line x1="59.33" y1="516.0" x2="59.33" y2="569.6" stroke-width="0.3"/>
<line x1="87.88" y1="516.0" x2="87.88" y2="569.6" stroke-width="0.3"/>
<line x1="42.2" y1="567.40" x2="105.0" y2="567.40" stroke-width="0.55"/>
<line x1="42.2" y1="555.23" x2="105.0" y2="555.23" stroke-width="0.55"/>
<line x1="42.2" y1="543.05" x2="105.0" y2="543.05" stroke-width="0.55"/>
<line x1="42.2" y1="530.88" x2="105.0" y2="530.88" stroke-width="0.55"/>
<line x1="42.2" y1="518.70" x2="105.0" y2="518.70" stroke-width="0.55"/>
<line x1="42.2" y1="561.31" x2="105.0" y2="561.31" stroke-width="0.3"/>
<line x1="42.2" y1="549.14" x2="105.0" y2="549.14" stroke-width="0.3"/>
<line x1="42.2" y1="536.96" x2="105.0" y2="536.96" stroke-width="0.3"/>
<line x1="42.2" y1="524.79" x2="105.0" y2="524.79" stroke-width="0.3"/>
</g>
<g fill="#c6c6c6">
<circle cx="48.52" cy="534.33" r="1.3"/>
<circle cx="53.73" cy="536.50" r="1.3"/>
<circle cx="55.90" cy="538.41" r="1.3"/>
<circle cx="50.69" cy="539.27" r="1.3"/>
<circle cx="60.24" cy="539.27" r="1.3"/>
<circle cx="62.41" cy="534.59" r="1.3"/>
<circle cx="49.39" cy="541.70" r="1.3"/>
<circle cx="51.56" cy="542.57" r="1.3"/>
<circle cx="55.03" cy="541.70" r="1.3"/>
<circle cx="55.46" cy="544.31" r="1.3"/>
<circle cx="45.92" cy="544.74" r="1.3"/>
<circle cx="45.05" cy="546.91" r="1.3"/>
<circle cx="47.65" cy="547.78" r="1.3"/>
<circle cx="49.82" cy="549.08" r="1.3"/>
<circle cx="50.69" cy="551.25" r="1.3"/>
<circle cx="50.26" cy="553.42" r="1.3"/>
<circle cx="52.43" cy="553.42" r="1.3"/>
<circle cx="53.29" cy="550.39" r="1.3"/>
<circle cx="55.03" cy="548.65" r="1.3"/>
<circle cx="54.60" cy="545.61" r="1.3"/>
<circle cx="56.77" cy="550.39" r="1.3"/>
<circle cx="57.63" cy="552.12" r="1.3"/>
<circle cx="59.37" cy="550.82" r="1.3"/>
<circle cx="55.90" cy="552.56" r="1.3"/>
<circle cx="58.50" cy="555.16" r="1.3"/>
<circle cx="60.67" cy="552.99" r="1.3"/>
<circle cx="61.54" cy="556.46" r="1.3"/>
<circle cx="53.29" cy="552.12" r="1.3"/>
<circle cx="51.99" cy="549.95" r="1.3"/>
<circle cx="59.37" cy="548.65" r="1.3"/>
<circle cx="63.71" cy="548.65" r="1.3"/>
<circle cx="65.44" cy="546.91" r="1.3"/>
<circle cx="62.84" cy="546.04" r="1.3"/>
<circle cx="66.31" cy="550.39" r="1.3"/>
<circle cx="65.01" cy="539.53" r="1.3"/>
<circle cx="67.18" cy="539.10" r="1.3"/>
<circle cx="68.91" cy="538.67" r="1.3"/>
<circle cx="68.05" cy="545.18" r="1.3"/>
<circle cx="69.78" cy="544.31" r="1.3"/>
<circle cx="71.52" cy="543.44" r="1.3"/>
<circle cx="72.82" cy="541.70" r="1.3"/>
<circle cx="72.39" cy="539.10" r="1.3"/>
<circle cx="70.65" cy="548.65" r="1.3"/>
<circle cx="68.48" cy="553.42" r="1.3"/>
<circle cx="72.39" cy="552.82" r="1.3"/>
<circle cx="75.42" cy="555.59" r="1.3"/>
<circle cx="75.42" cy="551.25" r="1.3"/>
<circle cx="71.95" cy="529.55" r="1.3"/>
<circle cx="72.82" cy="531.29" r="1.3"/>
<circle cx="71.52" cy="533.02" r="1.3"/>
<circle cx="73.25" cy="534.33" r="1.3"/>
<circle cx="74.55" cy="532.59" r="1.3"/>
<circle cx="76.72" cy="531.72" r="1.3"/>
<circle cx="76.72" cy="535.19" r="1.3"/>
<circle cx="78.89" cy="534.33" r="1.3"/>
<circle cx="79.33" cy="528.68" r="1.3"/>
<circle cx="82.80" cy="526.95" r="1.3"/>
<circle cx="81.93" cy="530.85" r="1.3"/>
<circle cx="84.53" cy="529.55" r="1.3"/>
<circle cx="86.27" cy="531.72" r="1.3"/>
<circle cx="85.40" cy="534.33" r="1.3"/>
<circle cx="81.50" cy="536.50" r="1.3"/>
<circle cx="78.46" cy="537.80" r="1.3"/>
<circle cx="80.20" cy="539.53" r="1.3"/>
<circle cx="82.80" cy="539.10" r="1.3"/>
<circle cx="84.53" cy="537.36" r="1.3"/>
<circle cx="87.14" cy="535.63" r="1.3"/>
<circle cx="89.31" cy="534.33" r="1.3"/>
<circle cx="90.61" cy="532.59" r="1.3"/>
<circle cx="91.91" cy="527.81" r="1.3"/>
<circle cx="93.21" cy="530.42" r="1.3"/>
<circle cx="94.95" cy="531.29" r="1.3"/>
<circle cx="97.55" cy="530.42" r="1.3"/>
<circle cx="99.29" cy="531.72" r="1.3"/>
<circle cx="101.89" cy="529.12" r="1.3"/>
<circle cx="101.89" cy="532.59" r="1.3"/>
<circle cx="101.89" cy="535.19" r="1.3"/>
<circle cx="98.85" cy="536.50" r="1.3"/>
<circle cx="92.78" cy="538.23" r="1.3"/>
<circle cx="90.61" cy="539.10" r="1.3"/>
<circle cx="89.31" cy="541.27" r="1.3"/>
<circle cx="87.14" cy="541.70" r="1.3"/>
<circle cx="84.53" cy="541.27" r="1.3"/>
<circle cx="82.80" cy="542.57" r="1.3"/>
<circle cx="81.06" cy="541.70" r="1.3"/>
<circle cx="78.46" cy="543.44" r="1.3"/>
<circle cx="80.20" cy="546.48" r="1.3"/>
<circle cx="79.33" cy="549.08" r="1.3"/>
<circle cx="81.06" cy="550.39" r="1.3"/>
<circle cx="84.53" cy="547.35" r="1.3"/>
<circle cx="86.70" cy="547.78" r="1.3"/>
<circle cx="84.97" cy="550.82" r="1.3"/>
<circle cx="88.44" cy="550.39" r="1.3"/>
<circle cx="91.91" cy="554.29" r="1.3"/>
<circle cx="97.12" cy="554.73" r="1.3"/>
<circle cx="96.68" cy="558.20" r="1.3"/>
<circle cx="101.89" cy="557.94" r="1.3"/>
<circle cx="97.55" cy="543.87" r="1.3"/>
<circle cx="98.85" cy="545.61" r="1.3"/>
<circle cx="90.61" cy="543.44" r="1.3"/>
<circle cx="92.34" cy="541.70" r="1.3"/>
<circle cx="88.87" cy="545.18" r="1.3"/>
<circle cx="76.72" cy="541.70" r="1.3"/>
<circle cx="74.99" cy="539.97" r="1.3"/>
<circle cx="70.65" cy="537.36" r="1.3"/>
<circle cx="73.25" cy="536.93" r="1.3"/>
<circle cx="77.59" cy="538.23" r="1.3"/>
<circle cx="44.86" cy="546.68" r="1.3"/>
<circle cx="49.35" cy="547.91" r="1.3"/>
<circle cx="49.85" cy="548.74" r="1.3"/>
<circle cx="49.43" cy="551.21" r="1.3"/>
<circle cx="50.78" cy="552.28" r="1.3"/>
<circle cx="50.80" cy="554.19" r="1.3"/>
<circle cx="51.66" cy="549.18" r="1.3"/>
<circle cx="55.80" cy="550.43" r="1.3"/>
<circle cx="56.52" cy="543.80" r="1.3"/>
<circle cx="57.38" cy="549.94" r="1.3"/>
<circle cx="56.26" cy="554.01" r="1.3"/>
<circle cx="59.48" cy="552.54" r="1.3"/>
<circle cx="54.66" cy="553.56" r="1.3"/>
<circle cx="56.62" cy="555.30" r="1.3"/>
<circle cx="60.43" cy="551.66" r="1.3"/>
<circle cx="61.61" cy="555.92" r="1.3"/>
<circle cx="53.29" cy="551.49" r="1.3"/>
<circle cx="51.82" cy="550.82" r="1.3"/>
<circle cx="61.36" cy="546.72" r="1.3"/>
<circle cx="74.18" cy="540.89" r="1.3"/>
<circle cx="71.65" cy="540.15" r="1.3"/>
<circle cx="71.11" cy="531.23" r="1.3"/>
<circle cx="73.88" cy="531.68" r="1.3"/>
<circle cx="72.90" cy="533.47" r="1.3"/>
<circle cx="75.08" cy="532.97" r="1.3"/>
<circle cx="72.56" cy="533.72" r="1.3"/>
<circle cx="78.36" cy="531.84" r="1.3"/>
<circle cx="78.64" cy="535.59" r="1.3"/>
<circle cx="77.19" cy="533.82" r="1.3"/>
<circle cx="80.44" cy="529.58" r="1.3"/>
<circle cx="81.15" cy="527.60" r="1.3"/>
<circle cx="83.79" cy="529.85" r="1.3"/>
<circle cx="83.01" cy="530.54" r="1.3"/>
<circle cx="84.67" cy="533.44" r="1.3"/>
<circle cx="86.59" cy="535.58" r="1.3"/>
<circle cx="81.73" cy="536.70" r="1.3"/>
<circle cx="77.22" cy="536.89" r="1.3"/>
<circle cx="78.72" cy="538.97" r="1.3"/>
<circle cx="81.27" cy="539.41" r="1.3"/>
<circle cx="83.39" cy="538.26" r="1.3"/>
<circle cx="89.02" cy="534.45" r="1.3"/>
<circle cx="88.52" cy="532.83" r="1.3"/>
<circle cx="89.45" cy="533.00" r="1.3"/>
<circle cx="93.33" cy="527.26" r="1.3"/>
<circle cx="91.61" cy="528.51" r="1.3"/>
<circle cx="93.80" cy="532.23" r="1.3"/>
<circle cx="98.64" cy="531.09" r="1.3"/>
<circle cx="98.47" cy="533.38" r="1.3"/>
<circle cx="100.25" cy="528.79" r="1.3"/>
<circle cx="100.86" cy="532.19" r="1.3"/>
<circle cx="101.38" cy="535.38" r="1.3"/>
<circle cx="100.69" cy="536.56" r="1.3"/>
<circle cx="93.08" cy="536.80" r="1.3"/>
<circle cx="89.34" cy="540.45" r="1.3"/>
<circle cx="90.94" cy="540.03" r="1.3"/>
<circle cx="86.14" cy="542.91" r="1.3"/>
<circle cx="85.49" cy="539.55" r="1.3"/>
<circle cx="81.59" cy="540.82" r="1.3"/>
<circle cx="82.59" cy="541.30" r="1.3"/>
<circle cx="92.03" cy="543.25" r="1.3"/>
<circle cx="74.88" cy="539.90" r="1.3"/>
<circle cx="73.94" cy="539.17" r="1.3"/>
<circle cx="72.28" cy="535.67" r="1.3"/>
<circle cx="77.98" cy="539.04" r="1.3"/>
</g>
<g fill="#2fae48" stroke="#262626" stroke-width="0.65">
<circle cx="82.2" cy="537.4" r="2.2"/>
</g>
<rect x="42.2" y="516.0" width="62.8" height="53.6" fill="none" stroke="#4d4d4d" stroke-width="0.7"/>
<g stroke="#4d4d4d" stroke-width="0.5">
<line x1="40.2" y1="567.40" x2="42.2" y2="567.40"/>
<line x1="40.2" y1="555.23" x2="42.2" y2="555.23"/>
<line x1="40.2" y1="543.05" x2="42.2" y2="543.05"/>
<line x1="40.2" y1="530.88" x2="42.2" y2="530.88"/>
<line x1="40.2" y1="518.70" x2="42.2" y2="518.70"/>
</g><g font-size="5.4" fill="#4d4d4d" text-anchor="end">
<text x="38.9" y="569.30">0.00</text>
<text x="38.9" y="557.12">0.25</text>
<text x="38.9" y="544.95">0.50</text>
<text x="38.9" y="532.77">0.75</text>
<text x="38.9" y="520.60">1.00</text>
</g>
<rect x="108.4" y="487.0" width="62.8" height="29.0" fill="#d9d9d9" stroke="#4d4d4d" stroke-width="0.7"/>
<g font-size="5.3" fill="#222" text-anchor="middle">
<text x="139.80" y="494.40">Acute myeloid</text>
<text x="139.80" y="500.80">leukemia with</text>
<text x="139.80" y="507.20">t(8;21)(q22;q22);</text>
<text x="139.80" y="513.60">RUNX1−RUNX1T1</text>
</g>
<g stroke="#ebebeb">
<line x1="111.25" y1="516.0" x2="111.25" y2="569.6" stroke-width="0.6"/>
<line x1="139.80" y1="516.0" x2="139.80" y2="569.6" stroke-width="0.6"/>
<line x1="168.35" y1="516.0" x2="168.35" y2="569.6" stroke-width="0.6"/>
<line x1="125.53" y1="516.0" x2="125.53" y2="569.6" stroke-width="0.3"/>
<line x1="154.07" y1="516.0" x2="154.07" y2="569.6" stroke-width="0.3"/>
<line x1="108.4" y1="567.40" x2="171.2" y2="567.40" stroke-width="0.55"/>
<line x1="108.4" y1="555.23" x2="171.2" y2="555.23" stroke-width="0.55"/>
<line x1="108.4" y1="543.05" x2="171.2" y2="543.05" stroke-width="0.55"/>
<line x1="108.4" y1="530.88" x2="171.2" y2="530.88" stroke-width="0.55"/>
<line x1="108.4" y1="518.70" x2="171.2" y2="518.70" stroke-width="0.55"/>
<line x1="108.4" y1="561.31" x2="171.2" y2="561.31" stroke-width="0.3"/>
<line x1="108.4" y1="549.14" x2="171.2" y2="549.14" stroke-width="0.3"/>
<line x1="108.4" y1="536.96" x2="171.2" y2="536.96" stroke-width="0.3"/>
<line x1="108.4" y1="524.79" x2="171.2" y2="524.79" stroke-width="0.3"/>
</g>
<g fill="#c6c6c6">
<circle cx="114.72" cy="534.33" r="1.3"/>
<circle cx="119.93" cy="536.50" r="1.3"/>
<circle cx="122.10" cy="538.41" r="1.3"/>
<circle cx="116.89" cy="539.27" r="1.3"/>
<circle cx="126.44" cy="539.27" r="1.3"/>
<circle cx="128.61" cy="534.59" r="1.3"/>
<circle cx="115.59" cy="541.70" r="1.3"/>
<circle cx="117.76" cy="542.57" r="1.3"/>
<circle cx="121.23" cy="541.70" r="1.3"/>
<circle cx="121.66" cy="544.31" r="1.3"/>
<circle cx="112.12" cy="544.74" r="1.3"/>
<circle cx="111.25" cy="546.91" r="1.3"/>
<circle cx="113.85" cy="547.78" r="1.3"/>
<circle cx="116.02" cy="549.08" r="1.3"/>
<circle cx="116.89" cy="551.25" r="1.3"/>
<circle cx="116.46" cy="553.42" r="1.3"/>
<circle cx="118.63" cy="553.42" r="1.3"/>
<circle cx="119.49" cy="550.39" r="1.3"/>
<circle cx="121.23" cy="548.65" r="1.3"/>
<circle cx="120.80" cy="545.61" r="1.3"/>
<circle cx="122.97" cy="550.39" r="1.3"/>
<circle cx="123.83" cy="552.12" r="1.3"/>
<circle cx="125.57" cy="550.82" r="1.3"/>
<circle cx="122.10" cy="552.56" r="1.3"/>
<circle cx="124.70" cy="555.16" r="1.3"/>
<circle cx="126.87" cy="552.99" r="1.3"/>
<circle cx="127.74" cy="556.46" r="1.3"/>
<circle cx="119.49" cy="552.12" r="1.3"/>
<circle cx="118.19" cy="549.95" r="1.3"/>
<circle cx="125.57" cy="548.65" r="1.3"/>
<circle cx="129.91" cy="548.65" r="1.3"/>
<circle cx="131.64" cy="546.91" r="1.3"/>
<circle cx="129.04" cy="546.04" r="1.3"/>
<circle cx="132.51" cy="550.39" r="1.3"/>
<circle cx="131.21" cy="539.53" r="1.3"/>
<circle cx="133.38" cy="539.10" r="1.3"/>
<circle cx="135.11" cy="538.67" r="1.3"/>
<circle cx="134.25" cy="545.18" r="1.3"/>
<circle cx="135.98" cy="544.31" r="1.3"/>
<circle cx="137.72" cy="543.44" r="1.3"/>
<circle cx="139.02" cy="541.70" r="1.3"/>
<circle cx="138.59" cy="539.10" r="1.3"/>
<circle cx="136.85" cy="548.65" r="1.3"/>
<circle cx="134.68" cy="553.42" r="1.3"/>
<circle cx="138.59" cy="552.82" r="1.3"/>
<circle cx="141.62" cy="555.59" r="1.3"/>
<circle cx="141.62" cy="551.25" r="1.3"/>
<circle cx="138.15" cy="529.55" r="1.3"/>
<circle cx="139.02" cy="531.29" r="1.3"/>
<circle cx="137.72" cy="533.02" r="1.3"/>
<circle cx="139.45" cy="534.33" r="1.3"/>
<circle cx="140.75" cy="532.59" r="1.3"/>
<circle cx="142.92" cy="531.72" r="1.3"/>
<circle cx="142.92" cy="535.19" r="1.3"/>
<circle cx="145.09" cy="534.33" r="1.3"/>
<circle cx="145.53" cy="528.68" r="1.3"/>
<circle cx="149.00" cy="526.95" r="1.3"/>
<circle cx="148.13" cy="530.85" r="1.3"/>
<circle cx="150.73" cy="529.55" r="1.3"/>
<circle cx="152.47" cy="531.72" r="1.3"/>
<circle cx="151.60" cy="534.33" r="1.3"/>
<circle cx="147.70" cy="536.50" r="1.3"/>
<circle cx="144.66" cy="537.80" r="1.3"/>
<circle cx="146.40" cy="539.53" r="1.3"/>
<circle cx="149.00" cy="539.10" r="1.3"/>
<circle cx="150.73" cy="537.36" r="1.3"/>
<circle cx="153.34" cy="535.63" r="1.3"/>
<circle cx="155.51" cy="534.33" r="1.3"/>
<circle cx="156.81" cy="532.59" r="1.3"/>
<circle cx="158.11" cy="527.81" r="1.3"/>
<circle cx="159.41" cy="530.42" r="1.3"/>
<circle cx="161.15" cy="531.29" r="1.3"/>
<circle cx="163.75" cy="530.42" r="1.3"/>
<circle cx="165.49" cy="531.72" r="1.3"/>
<circle cx="168.09" cy="529.12" r="1.3"/>
<circle cx="168.09" cy="532.59" r="1.3"/>
<circle cx="168.09" cy="535.19" r="1.3"/>
<circle cx="165.05" cy="536.50" r="1.3"/>
<circle cx="158.98" cy="538.23" r="1.3"/>
<circle cx="156.81" cy="539.10" r="1.3"/>
<circle cx="155.51" cy="541.27" r="1.3"/>
<circle cx="153.34" cy="541.70" r="1.3"/>
<circle cx="150.73" cy="541.27" r="1.3"/>
<circle cx="149.00" cy="542.57" r="1.3"/>
<circle cx="147.26" cy="541.70" r="1.3"/>
<circle cx="144.66" cy="543.44" r="1.3"/>
<circle cx="146.40" cy="546.48" r="1.3"/>
<circle cx="145.53" cy="549.08" r="1.3"/>
<circle cx="147.26" cy="550.39" r="1.3"/>
<circle cx="150.73" cy="547.35" r="1.3"/>
<circle cx="152.90" cy="547.78" r="1.3"/>
<circle cx="151.17" cy="550.82" r="1.3"/>
<circle cx="154.64" cy="550.39" r="1.3"/>
<circle cx="158.11" cy="554.29" r="1.3"/>
<circle cx="163.32" cy="554.73" r="1.3"/>
<circle cx="162.88" cy="558.20" r="1.3"/>
<circle cx="168.09" cy="557.94" r="1.3"/>
<circle cx="163.75" cy="543.87" r="1.3"/>
<circle cx="165.05" cy="545.61" r="1.3"/>
<circle cx="156.81" cy="543.44" r="1.3"/>
<circle cx="158.54" cy="541.70" r="1.3"/>
<circle cx="155.07" cy="545.18" r="1.3"/>
<circle cx="142.92" cy="541.70" r="1.3"/>
<circle cx="141.19" cy="539.97" r="1.3"/>
<circle cx="136.85" cy="537.36" r="1.3"/>
<circle cx="139.45" cy="536.93" r="1.3"/>
<circle cx="143.79" cy="538.23" r="1.3"/>
<circle cx="111.06" cy="546.68" r="1.3"/>
<circle cx="115.55" cy="547.91" r="1.3"/>
<circle cx="116.05" cy="548.74" r="1.3"/>
<circle cx="115.63" cy="551.21" r="1.3"/>
<circle cx="116.98" cy="552.28" r="1.3"/>
<circle cx="117.00" cy="554.19" r="1.3"/>
<circle cx="117.86" cy="549.18" r="1.3"/>
<circle cx="122.00" cy="550.43" r="1.3"/>
<circle cx="122.72" cy="543.80" r="1.3"/>
<circle cx="123.58" cy="549.94" r="1.3"/>
<circle cx="122.46" cy="554.01" r="1.3"/>
<circle cx="125.68" cy="552.54" r="1.3"/>
<circle cx="120.86" cy="553.56" r="1.3"/>
<circle cx="122.82" cy="555.30" r="1.3"/>
<circle cx="126.63" cy="551.66" r="1.3"/>
<circle cx="127.81" cy="555.92" r="1.3"/>
<circle cx="119.49" cy="551.49" r="1.3"/>
<circle cx="118.02" cy="550.82" r="1.3"/>
<circle cx="127.56" cy="546.72" r="1.3"/>
<circle cx="140.38" cy="540.89" r="1.3"/>
<circle cx="137.85" cy="540.15" r="1.3"/>
<circle cx="137.31" cy="531.23" r="1.3"/>
<circle cx="140.08" cy="531.68" r="1.3"/>
<circle cx="139.10" cy="533.47" r="1.3"/>
<circle cx="141.28" cy="532.97" r="1.3"/>
<circle cx="138.76" cy="533.72" r="1.3"/>
<circle cx="144.56" cy="531.84" r="1.3"/>
<circle cx="144.84" cy="535.59" r="1.3"/>
<circle cx="143.39" cy="533.82" r="1.3"/>
<circle cx="146.64" cy="529.58" r="1.3"/>
<circle cx="147.35" cy="527.60" r="1.3"/>
<circle cx="149.99" cy="529.85" r="1.3"/>
<circle cx="149.21" cy="530.54" r="1.3"/>
<circle cx="150.87" cy="533.44" r="1.3"/>
<circle cx="152.79" cy="535.58" r="1.3"/>
<circle cx="147.93" cy="536.70" r="1.3"/>
<circle cx="143.42" cy="536.89" r="1.3"/>
<circle cx="144.92" cy="538.97" r="1.3"/>
<circle cx="147.47" cy="539.41" r="1.3"/>
<circle cx="149.59" cy="538.26" r="1.3"/>
<circle cx="155.22" cy="534.45" r="1.3"/>
<circle cx="154.72" cy="532.83" r="1.3"/>
<circle cx="155.65" cy="533.00" r="1.3"/>
<circle cx="159.53" cy="527.26" r="1.3"/>
<circle cx="157.81" cy="528.51" r="1.3"/>
<circle cx="160.00" cy="532.23" r="1.3"/>
<circle cx="164.84" cy="531.09" r="1.3"/>
<circle cx="164.67" cy="533.38" r="1.3"/>
<circle cx="166.45" cy="528.79" r="1.3"/>
<circle cx="167.06" cy="532.19" r="1.3"/>
<circle cx="167.58" cy="535.38" r="1.3"/>
<circle cx="166.89" cy="536.56" r="1.3"/>
<circle cx="159.28" cy="536.80" r="1.3"/>
<circle cx="155.54" cy="540.45" r="1.3"/>
<circle cx="157.14" cy="540.03" r="1.3"/>
<circle cx="152.34" cy="542.91" r="1.3"/>
<circle cx="151.69" cy="539.55" r="1.3"/>
<circle cx="147.79" cy="540.82" r="1.3"/>
<circle cx="148.79" cy="541.30" r="1.3"/>
<circle cx="158.23" cy="543.25" r="1.3"/>
<circle cx="141.08" cy="539.90" r="1.3"/>
<circle cx="140.14" cy="539.17" r="1.3"/>
<circle cx="138.48" cy="535.67" r="1.3"/>
<circle cx="144.18" cy="539.04" r="1.3"/>
</g>
<g fill="#22a879" stroke="#262626" stroke-width="0.65">
<circle cx="143" cy="532.2" r="2.2"/>
<circle cx="161.9" cy="532" r="2.2"/>
<circle cx="154.5" cy="550.3" r="2.2"/>
<circle cx="145" cy="556.1" r="2.2"/>
</g>
<rect x="108.4" y="516.0" width="62.8" height="53.6" fill="none" stroke="#4d4d4d" stroke-width="0.7"/>
<rect x="174.7" y="487.0" width="62.8" height="29.0" fill="#d9d9d9" stroke="#4d4d4d" stroke-width="0.7"/>
<g font-size="5.3" fill="#222" text-anchor="middle">
<text x="206.10" y="494.40">Acute myeloid</text>
<text x="206.10" y="500.80">leukemia with</text>
<text x="206.10" y="507.20">t(9;11)(p22;q23);</text>
<text x="206.10" y="513.60">MLLT3−MLL</text>
</g>
<g stroke="#ebebeb">
<line x1="177.55" y1="516.0" x2="177.55" y2="569.6" stroke-width="0.6"/>
<line x1="206.10" y1="516.0" x2="206.10" y2="569.6" stroke-width="0.6"/>
<line x1="234.65" y1="516.0" x2="234.65" y2="569.6" stroke-width="0.6"/>
<line x1="191.82" y1="516.0" x2="191.82" y2="569.6" stroke-width="0.3"/>
<line x1="220.38" y1="516.0" x2="220.38" y2="569.6" stroke-width="0.3"/>
<line x1="174.7" y1="567.40" x2="237.5" y2="567.40" stroke-width="0.55"/>
<line x1="174.7" y1="555.23" x2="237.5" y2="555.23" stroke-width="0.55"/>
<line x1="174.7" y1="543.05" x2="237.5" y2="543.05" stroke-width="0.55"/>
<line x1="174.7" y1="530.88" x2="237.5" y2="530.88" stroke-width="0.55"/>
<line x1="174.7" y1="518.70" x2="237.5" y2="518.70" stroke-width="0.55"/>
<line x1="174.7" y1="561.31" x2="237.5" y2="561.31" stroke-width="0.3"/>
<line x1="174.7" y1="549.14" x2="237.5" y2="549.14" stroke-width="0.3"/>
<line x1="174.7" y1="536.96" x2="237.5" y2="536.96" stroke-width="0.3"/>
<line x1="174.7" y1="524.79" x2="237.5" y2="524.79" stroke-width="0.3"/>
</g>
<g fill="#c6c6c6">
<circle cx="181.02" cy="534.33" r="1.3"/>
<circle cx="186.23" cy="536.50" r="1.3"/>
<circle cx="188.40" cy="538.41" r="1.3"/>
<circle cx="183.19" cy="539.27" r="1.3"/>
<circle cx="192.74" cy="539.27" r="1.3"/>
<circle cx="194.91" cy="534.59" r="1.3"/>
<circle cx="181.89" cy="541.70" r="1.3"/>
<circle cx="184.06" cy="542.57" r="1.3"/>
<circle cx="187.53" cy="541.70" r="1.3"/>
<circle cx="187.96" cy="544.31" r="1.3"/>
<circle cx="178.42" cy="544.74" r="1.3"/>
<circle cx="177.55" cy="546.91" r="1.3"/>
<circle cx="180.15" cy="547.78" r="1.3"/>
<circle cx="182.32" cy="549.08" r="1.3"/>
<circle cx="183.19" cy="551.25" r="1.3"/>
<circle cx="182.76" cy="553.42" r="1.3"/>
<circle cx="184.93" cy="553.42" r="1.3"/>
<circle cx="185.79" cy="550.39" r="1.3"/>
<circle cx="187.53" cy="548.65" r="1.3"/>
<circle cx="187.10" cy="545.61" r="1.3"/>
<circle cx="189.27" cy="550.39" r="1.3"/>
<circle cx="190.13" cy="552.12" r="1.3"/>
<circle cx="191.87" cy="550.82" r="1.3"/>
<circle cx="188.40" cy="552.56" r="1.3"/>
<circle cx="191.00" cy="555.16" r="1.3"/>
<circle cx="193.17" cy="552.99" r="1.3"/>
<circle cx="194.04" cy="556.46" r="1.3"/>
<circle cx="185.79" cy="552.12" r="1.3"/>
<circle cx="184.49" cy="549.95" r="1.3"/>
<circle cx="191.87" cy="548.65" r="1.3"/>
<circle cx="196.21" cy="548.65" r="1.3"/>
<circle cx="197.94" cy="546.91" r="1.3"/>
<circle cx="195.34" cy="546.04" r="1.3"/>
<circle cx="198.81" cy="550.39" r="1.3"/>
<circle cx="197.51" cy="539.53" r="1.3"/>
<circle cx="199.68" cy="539.10" r="1.3"/>
<circle cx="201.41" cy="538.67" r="1.3"/>
<circle cx="200.55" cy="545.18" r="1.3"/>
<circle cx="202.28" cy="544.31" r="1.3"/>
<circle cx="204.02" cy="543.44" r="1.3"/>
<circle cx="205.32" cy="541.70" r="1.3"/>
<circle cx="204.89" cy="539.10" r="1.3"/>
<circle cx="203.15" cy="548.65" r="1.3"/>
<circle cx="200.98" cy="553.42" r="1.3"/>
<circle cx="204.89" cy="552.82" r="1.3"/>
<circle cx="207.92" cy="555.59" r="1.3"/>
<circle cx="207.92" cy="551.25" r="1.3"/>
<circle cx="204.45" cy="529.55" r="1.3"/>
<circle cx="205.32" cy="531.29" r="1.3"/>
<circle cx="204.02" cy="533.02" r="1.3"/>
<circle cx="205.75" cy="534.33" r="1.3"/>
<circle cx="207.05" cy="532.59" r="1.3"/>
<circle cx="209.22" cy="531.72" r="1.3"/>
<circle cx="209.22" cy="535.19" r="1.3"/>
<circle cx="211.39" cy="534.33" r="1.3"/>
<circle cx="211.83" cy="528.68" r="1.3"/>
<circle cx="215.30" cy="526.95" r="1.3"/>
<circle cx="214.43" cy="530.85" r="1.3"/>
<circle cx="217.03" cy="529.55" r="1.3"/>
<circle cx="218.77" cy="531.72" r="1.3"/>
<circle cx="217.90" cy="534.33" r="1.3"/>
<circle cx="214.00" cy="536.50" r="1.3"/>
<circle cx="210.96" cy="537.80" r="1.3"/>
<circle cx="212.70" cy="539.53" r="1.3"/>
<circle cx="215.30" cy="539.10" r="1.3"/>
<circle cx="217.03" cy="537.36" r="1.3"/>
<circle cx="219.64" cy="535.63" r="1.3"/>
<circle cx="221.81" cy="534.33" r="1.3"/>
<circle cx="223.11" cy="532.59" r="1.3"/>
<circle cx="224.41" cy="527.81" r="1.3"/>
<circle cx="225.71" cy="530.42" r="1.3"/>
<circle cx="227.45" cy="531.29" r="1.3"/>
<circle cx="230.05" cy="530.42" r="1.3"/>
<circle cx="231.79" cy="531.72" r="1.3"/>
<circle cx="234.39" cy="529.12" r="1.3"/>
<circle cx="234.39" cy="532.59" r="1.3"/>
<circle cx="234.39" cy="535.19" r="1.3"/>
<circle cx="231.35" cy="536.50" r="1.3"/>
<circle cx="225.28" cy="538.23" r="1.3"/>
<circle cx="223.11" cy="539.10" r="1.3"/>
<circle cx="221.81" cy="541.27" r="1.3"/>
<circle cx="219.64" cy="541.70" r="1.3"/>
<circle cx="217.03" cy="541.27" r="1.3"/>
<circle cx="215.30" cy="542.57" r="1.3"/>
<circle cx="213.56" cy="541.70" r="1.3"/>
<circle cx="210.96" cy="543.44" r="1.3"/>
<circle cx="212.70" cy="546.48" r="1.3"/>
<circle cx="211.83" cy="549.08" r="1.3"/>
<circle cx="213.56" cy="550.39" r="1.3"/>
<circle cx="217.03" cy="547.35" r="1.3"/>
<circle cx="219.20" cy="547.78" r="1.3"/>
<circle cx="217.47" cy="550.82" r="1.3"/>
<circle cx="220.94" cy="550.39" r="1.3"/>
<circle cx="224.41" cy="554.29" r="1.3"/>
<circle cx="229.62" cy="554.73" r="1.3"/>
<circle cx="229.18" cy="558.20" r="1.3"/>
<circle cx="234.39" cy="557.94" r="1.3"/>
<circle cx="230.05" cy="543.87" r="1.3"/>
<circle cx="231.35" cy="545.61" r="1.3"/>
<circle cx="223.11" cy="543.44" r="1.3"/>
<circle cx="224.84" cy="541.70" r="1.3"/>
<circle cx="221.37" cy="545.18" r="1.3"/>
<circle cx="209.22" cy="541.70" r="1.3"/>
<circle cx="207.49" cy="539.97" r="1.3"/>
<circle cx="203.15" cy="537.36" r="1.3"/>
<circle cx="205.75" cy="536.93" r="1.3"/>
<circle cx="210.09" cy="538.23" r="1.3"/>
<circle cx="177.36" cy="546.68" r="1.3"/>
<circle cx="181.85" cy="547.91" r="1.3"/>
<circle cx="182.35" cy="548.74" r="1.3"/>
<circle cx="181.93" cy="551.21" r="1.3"/>
<circle cx="183.28" cy="552.28" r="1.3"/>
<circle cx="183.30" cy="554.19" r="1.3"/>
<circle cx="184.16" cy="549.18" r="1.3"/>
<circle cx="188.30" cy="550.43" r="1.3"/>
<circle cx="189.02" cy="543.80" r="1.3"/>
<circle cx="189.88" cy="549.94" r="1.3"/>
<circle cx="188.76" cy="554.01" r="1.3"/>
<circle cx="191.98" cy="552.54" r="1.3"/>
<circle cx="187.16" cy="553.56" r="1.3"/>
<circle cx="189.12" cy="555.30" r="1.3"/>
<circle cx="192.93" cy="551.66" r="1.3"/>
<circle cx="194.11" cy="555.92" r="1.3"/>
<circle cx="185.79" cy="551.49" r="1.3"/>
<circle cx="184.32" cy="550.82" r="1.3"/>
<circle cx="193.86" cy="546.72" r="1.3"/>
<circle cx="206.68" cy="540.89" r="1.3"/>
<circle cx="204.15" cy="540.15" r="1.3"/>
<circle cx="203.61" cy="531.23" r="1.3"/>
<circle cx="206.38" cy="531.68" r="1.3"/>
<circle cx="205.40" cy="533.47" r="1.3"/>
<circle cx="207.58" cy="532.97" r="1.3"/>
<circle cx="205.06" cy="533.72" r="1.3"/>
<circle cx="210.86" cy="531.84" r="1.3"/>
<circle cx="211.14" cy="535.59" r="1.3"/>
<circle cx="209.69" cy="533.82" r="1.3"/>
<circle cx="212.94" cy="529.58" r="1.3"/>
<circle cx="213.65" cy="527.60" r="1.3"/>
<circle cx="216.29" cy="529.85" r="1.3"/>
<circle cx="215.51" cy="530.54" r="1.3"/>
<circle cx="217.17" cy="533.44" r="1.3"/>
<circle cx="219.09" cy="535.58" r="1.3"/>
<circle cx="214.23" cy="536.70" r="1.3"/>
<circle cx="209.72" cy="536.89" r="1.3"/>
<circle cx="211.22" cy="538.97" r="1.3"/>
<circle cx="213.77" cy="539.41" r="1.3"/>
<circle cx="215.89" cy="538.26" r="1.3"/>
<circle cx="221.52" cy="534.45" r="1.3"/>
<circle cx="221.02" cy="532.83" r="1.3"/>
<circle cx="221.95" cy="533.00" r="1.3"/>
<circle cx="225.83" cy="527.26" r="1.3"/>
<circle cx="224.11" cy="528.51" r="1.3"/>
<circle cx="226.30" cy="532.23" r="1.3"/>
<circle cx="231.14" cy="531.09" r="1.3"/>
<circle cx="230.97" cy="533.38" r="1.3"/>
<circle cx="232.75" cy="528.79" r="1.3"/>
<circle cx="233.36" cy="532.19" r="1.3"/>
<circle cx="233.88" cy="535.38" r="1.3"/>
<circle cx="233.19" cy="536.56" r="1.3"/>
<circle cx="225.58" cy="536.80" r="1.3"/>
<circle cx="221.84" cy="540.45" r="1.3"/>
<circle cx="223.44" cy="540.03" r="1.3"/>
<circle cx="218.64" cy="542.91" r="1.3"/>
<circle cx="217.99" cy="539.55" r="1.3"/>
<circle cx="214.09" cy="540.82" r="1.3"/>
<circle cx="215.09" cy="541.30" r="1.3"/>
<circle cx="224.53" cy="543.25" r="1.3"/>
<circle cx="207.38" cy="539.90" r="1.3"/>
<circle cx="206.44" cy="539.17" r="1.3"/>
<circle cx="204.78" cy="535.67" r="1.3"/>
<circle cx="210.48" cy="539.04" r="1.3"/>
</g>
<g fill="#1cb0c4" stroke="#262626" stroke-width="0.65">
<circle cx="204.1" cy="528.6" r="2.2"/>
<circle cx="192.4" cy="539.2" r="2.2"/>
<circle cx="206" cy="543.8" r="2.2"/>
</g>
<rect x="174.7" y="516.0" width="62.8" height="53.6" fill="none" stroke="#4d4d4d" stroke-width="0.7"/>
<rect x="240.9" y="487.0" width="62.8" height="29.0" fill="#d9d9d9" stroke="#4d4d4d" stroke-width="0.7"/>
<g font-size="5.3" fill="#222" text-anchor="middle">
<text x="272.30" y="497.60">Acute myeloid</text>
<text x="272.30" y="504.00">leukemia,</text>
<text x="272.30" y="510.40">CBF−beta/MYH11</text>
</g>
<g stroke="#ebebeb">
<line x1="243.75" y1="516.0" x2="243.75" y2="569.6" stroke-width="0.6"/>
<line x1="272.30" y1="516.0" x2="272.30" y2="569.6" stroke-width="0.6"/>
<line x1="300.85" y1="516.0" x2="300.85" y2="569.6" stroke-width="0.6"/>
<line x1="258.02" y1="516.0" x2="258.02" y2="569.6" stroke-width="0.3"/>
<line x1="286.57" y1="516.0" x2="286.57" y2="569.6" stroke-width="0.3"/>
<line x1="240.9" y1="567.40" x2="303.7" y2="567.40" stroke-width="0.55"/>
<line x1="240.9" y1="555.23" x2="303.7" y2="555.23" stroke-width="0.55"/>
<line x1="240.9" y1="543.05" x2="303.7" y2="543.05" stroke-width="0.55"/>
<line x1="240.9" y1="530.88" x2="303.7" y2="530.88" stroke-width="0.55"/>
<line x1="240.9" y1="518.70" x2="303.7" y2="518.70" stroke-width="0.55"/>
<line x1="240.9" y1="561.31" x2="303.7" y2="561.31" stroke-width="0.3"/>
<line x1="240.9" y1="549.14" x2="303.7" y2="549.14" stroke-width="0.3"/>
<line x1="240.9" y1="536.96" x2="303.7" y2="536.96" stroke-width="0.3"/>
<line x1="240.9" y1="524.79" x2="303.7" y2="524.79" stroke-width="0.3"/>
</g>
<g fill="#c6c6c6">
<circle cx="247.22" cy="534.33" r="1.3"/>
<circle cx="252.43" cy="536.50" r="1.3"/>
<circle cx="254.60" cy="538.41" r="1.3"/>
<circle cx="249.39" cy="539.27" r="1.3"/>
<circle cx="258.94" cy="539.27" r="1.3"/>
<circle cx="261.11" cy="534.59" r="1.3"/>
<circle cx="248.09" cy="541.70" r="1.3"/>
<circle cx="250.26" cy="542.57" r="1.3"/>
<circle cx="253.73" cy="541.70" r="1.3"/>
<circle cx="254.16" cy="544.31" r="1.3"/>
<circle cx="244.62" cy="544.74" r="1.3"/>
<circle cx="243.75" cy="546.91" r="1.3"/>
<circle cx="246.35" cy="547.78" r="1.3"/>
<circle cx="248.52" cy="549.08" r="1.3"/>
<circle cx="249.39" cy="551.25" r="1.3"/>
<circle cx="248.96" cy="553.42" r="1.3"/>
<circle cx="251.13" cy="553.42" r="1.3"/>
<circle cx="251.99" cy="550.39" r="1.3"/>
<circle cx="253.73" cy="548.65" r="1.3"/>
<circle cx="253.30" cy="545.61" r="1.3"/>
<circle cx="255.47" cy="550.39" r="1.3"/>
<circle cx="256.33" cy="552.12" r="1.3"/>
<circle cx="258.07" cy="550.82" r="1.3"/>
<circle cx="254.60" cy="552.56" r="1.3"/>
<circle cx="257.20" cy="555.16" r="1.3"/>
<circle cx="259.37" cy="552.99" r="1.3"/>
<circle cx="260.24" cy="556.46" r="1.3"/>
<circle cx="251.99" cy="552.12" r="1.3"/>
<circle cx="250.69" cy="549.95" r="1.3"/>
<circle cx="258.07" cy="548.65" r="1.3"/>
<circle cx="262.41" cy="548.65" r="1.3"/>
<circle cx="264.14" cy="546.91" r="1.3"/>
<circle cx="261.54" cy="546.04" r="1.3"/>
<circle cx="265.01" cy="550.39" r="1.3"/>
<circle cx="263.71" cy="539.53" r="1.3"/>
<circle cx="265.88" cy="539.10" r="1.3"/>
<circle cx="267.61" cy="538.67" r="1.3"/>
<circle cx="266.75" cy="545.18" r="1.3"/>
<circle cx="268.48" cy="544.31" r="1.3"/>
<circle cx="270.22" cy="543.44" r="1.3"/>
<circle cx="271.52" cy="541.70" r="1.3"/>
<circle cx="271.09" cy="539.10" r="1.3"/>
<circle cx="269.35" cy="548.65" r="1.3"/>
<circle cx="267.18" cy="553.42" r="1.3"/>
<circle cx="271.09" cy="552.82" r="1.3"/>
<circle cx="274.12" cy="555.59" r="1.3"/>
<circle cx="274.12" cy="551.25" r="1.3"/>
<circle cx="270.65" cy="529.55" r="1.3"/>
<circle cx="271.52" cy="531.29" r="1.3"/>
<circle cx="270.22" cy="533.02" r="1.3"/>
<circle cx="271.95" cy="534.33" r="1.3"/>
<circle cx="273.25" cy="532.59" r="1.3"/>
<circle cx="275.42" cy="531.72" r="1.3"/>
<circle cx="275.42" cy="535.19" r="1.3"/>
<circle cx="277.59" cy="534.33" r="1.3"/>
<circle cx="278.03" cy="528.68" r="1.3"/>
<circle cx="281.50" cy="526.95" r="1.3"/>
<circle cx="280.63" cy="530.85" r="1.3"/>
<circle cx="283.23" cy="529.55" r="1.3"/>
<circle cx="284.97" cy="531.72" r="1.3"/>
<circle cx="284.10" cy="534.33" r="1.3"/>
<circle cx="280.20" cy="536.50" r="1.3"/>
<circle cx="277.16" cy="537.80" r="1.3"/>
<circle cx="278.90" cy="539.53" r="1.3"/>
<circle cx="281.50" cy="539.10" r="1.3"/>
<circle cx="283.23" cy="537.36" r="1.3"/>
<circle cx="285.84" cy="535.63" r="1.3"/>
<circle cx="288.01" cy="534.33" r="1.3"/>
<circle cx="289.31" cy="532.59" r="1.3"/>
<circle cx="290.61" cy="527.81" r="1.3"/>
<circle cx="291.91" cy="530.42" r="1.3"/>
<circle cx="293.65" cy="531.29" r="1.3"/>
<circle cx="296.25" cy="530.42" r="1.3"/>
<circle cx="297.99" cy="531.72" r="1.3"/>
<circle cx="300.59" cy="529.12" r="1.3"/>
<circle cx="300.59" cy="532.59" r="1.3"/>
<circle cx="300.59" cy="535.19" r="1.3"/>
<circle cx="297.55" cy="536.50" r="1.3"/>
<circle cx="291.48" cy="538.23" r="1.3"/>
<circle cx="289.31" cy="539.10" r="1.3"/>
<circle cx="288.01" cy="541.27" r="1.3"/>
<circle cx="285.84" cy="541.70" r="1.3"/>
<circle cx="283.23" cy="541.27" r="1.3"/>
<circle cx="281.50" cy="542.57" r="1.3"/>
<circle cx="279.76" cy="541.70" r="1.3"/>
<circle cx="277.16" cy="543.44" r="1.3"/>
<circle cx="278.90" cy="546.48" r="1.3"/>
<circle cx="278.03" cy="549.08" r="1.3"/>
<circle cx="279.76" cy="550.39" r="1.3"/>
<circle cx="283.23" cy="547.35" r="1.3"/>
<circle cx="285.40" cy="547.78" r="1.3"/>
<circle cx="283.67" cy="550.82" r="1.3"/>
<circle cx="287.14" cy="550.39" r="1.3"/>
<circle cx="290.61" cy="554.29" r="1.3"/>
<circle cx="295.82" cy="554.73" r="1.3"/>
<circle cx="295.38" cy="558.20" r="1.3"/>
<circle cx="300.59" cy="557.94" r="1.3"/>
<circle cx="296.25" cy="543.87" r="1.3"/>
<circle cx="297.55" cy="545.61" r="1.3"/>
<circle cx="289.31" cy="543.44" r="1.3"/>
<circle cx="291.04" cy="541.70" r="1.3"/>
<circle cx="287.57" cy="545.18" r="1.3"/>
<circle cx="275.42" cy="541.70" r="1.3"/>
<circle cx="273.69" cy="539.97" r="1.3"/>
<circle cx="269.35" cy="537.36" r="1.3"/>
<circle cx="271.95" cy="536.93" r="1.3"/>
<circle cx="276.29" cy="538.23" r="1.3"/>
<circle cx="243.56" cy="546.68" r="1.3"/>
<circle cx="248.05" cy="547.91" r="1.3"/>
<circle cx="248.55" cy="548.74" r="1.3"/>
<circle cx="248.13" cy="551.21" r="1.3"/>
<circle cx="249.48" cy="552.28" r="1.3"/>
<circle cx="249.50" cy="554.19" r="1.3"/>
<circle cx="250.36" cy="549.18" r="1.3"/>
<circle cx="254.50" cy="550.43" r="1.3"/>
<circle cx="255.22" cy="543.80" r="1.3"/>
<circle cx="256.08" cy="549.94" r="1.3"/>
<circle cx="254.96" cy="554.01" r="1.3"/>
<circle cx="258.18" cy="552.54" r="1.3"/>
<circle cx="253.36" cy="553.56" r="1.3"/>
<circle cx="255.32" cy="555.30" r="1.3"/>
<circle cx="259.13" cy="551.66" r="1.3"/>
<circle cx="260.31" cy="555.92" r="1.3"/>
<circle cx="251.99" cy="551.49" r="1.3"/>
<circle cx="250.52" cy="550.82" r="1.3"/>
<circle cx="260.06" cy="546.72" r="1.3"/>
<circle cx="272.88" cy="540.89" r="1.3"/>
<circle cx="270.35" cy="540.15" r="1.3"/>
<circle cx="269.81" cy="531.23" r="1.3"/>
<circle cx="272.58" cy="531.68" r="1.3"/>
<circle cx="271.60" cy="533.47" r="1.3"/>
<circle cx="273.78" cy="532.97" r="1.3"/>
<circle cx="271.26" cy="533.72" r="1.3"/>
<circle cx="277.06" cy="531.84" r="1.3"/>
<circle cx="277.34" cy="535.59" r="1.3"/>
<circle cx="275.89" cy="533.82" r="1.3"/>
<circle cx="279.14" cy="529.58" r="1.3"/>
<circle cx="279.85" cy="527.60" r="1.3"/>
<circle cx="282.49" cy="529.85" r="1.3"/>
<circle cx="281.71" cy="530.54" r="1.3"/>
<circle cx="283.37" cy="533.44" r="1.3"/>
<circle cx="285.29" cy="535.58" r="1.3"/>
<circle cx="280.43" cy="536.70" r="1.3"/>
<circle cx="275.92" cy="536.89" r="1.3"/>
<circle cx="277.42" cy="538.97" r="1.3"/>
<circle cx="279.97" cy="539.41" r="1.3"/>
<circle cx="282.09" cy="538.26" r="1.3"/>
<circle cx="287.72" cy="534.45" r="1.3"/>
<circle cx="287.22" cy="532.83" r="1.3"/>
<circle cx="288.15" cy="533.00" r="1.3"/>
<circle cx="292.03" cy="527.26" r="1.3"/>
<circle cx="290.31" cy="528.51" r="1.3"/>
<circle cx="292.50" cy="532.23" r="1.3"/>
<circle cx="297.34" cy="531.09" r="1.3"/>
<circle cx="297.17" cy="533.38" r="1.3"/>
<circle cx="298.95" cy="528.79" r="1.3"/>
<circle cx="299.56" cy="532.19" r="1.3"/>
<circle cx="300.08" cy="535.38" r="1.3"/>
<circle cx="299.39" cy="536.56" r="1.3"/>
<circle cx="291.78" cy="536.80" r="1.3"/>
<circle cx="288.04" cy="540.45" r="1.3"/>
<circle cx="289.64" cy="540.03" r="1.3"/>
<circle cx="284.84" cy="542.91" r="1.3"/>
<circle cx="284.19" cy="539.55" r="1.3"/>
<circle cx="280.29" cy="540.82" r="1.3"/>
<circle cx="281.29" cy="541.30" r="1.3"/>
<circle cx="290.73" cy="543.25" r="1.3"/>
<circle cx="273.58" cy="539.90" r="1.3"/>
<circle cx="272.64" cy="539.17" r="1.3"/>
<circle cx="270.98" cy="535.67" r="1.3"/>
<circle cx="276.68" cy="539.04" r="1.3"/>
</g>
<line x1="251.7" y1="550.7" x2="300.9" y2="531.9" stroke="#111" stroke-width="0.6"/>
<g fill="#3ca3de" stroke="#262626" stroke-width="0.65">
<circle cx="251.7" cy="550.7" r="2.2"/>
<circle cx="273.8" cy="541.1" r="2.2"/>
<circle cx="273.2" cy="545.1" r="2.2"/>
<circle cx="288.8" cy="533.8" r="2.2"/>
<circle cx="288" cy="540" r="2.2"/>
<circle cx="286.7" cy="544" r="2.2"/>
<circle cx="300.9" cy="531.9" r="2.2"/>
</g>
<line x1="251.7" y1="550.7" x2="300.9" y2="531.9" stroke="#111" stroke-width="0.6" opacity="0.5"/>
<g font-size="5.5" fill="#222"><text x="249.20" y="524.70"><tspan font-style="italic">R</tspan><tspan font-size="3.7" dy="-2">2</tspan><tspan dy="2"> = 0.78</tspan></text><text x="299.90" y="524.70" text-anchor="end"><tspan font-style="italic">P</tspan> = 0.009</text></g>
<rect x="240.9" y="516.0" width="62.8" height="53.6" fill="none" stroke="#4d4d4d" stroke-width="0.7"/>
<rect x="42.2" y="573.2" width="62.8" height="29.0" fill="#d9d9d9" stroke="#4d4d4d" stroke-width="0.7"/>
<g font-size="5.3" fill="#222" text-anchor="middle">
<text x="73.60" y="587.00">Acute myeloid</text>
<text x="73.60" y="593.40">leukemia, NOS</text>
</g>
<g stroke="#ebebeb">
<line x1="45.05" y1="602.2" x2="45.05" y2="655.8000000000001" stroke-width="0.6"/>
<line x1="73.60" y1="602.2" x2="73.60" y2="655.8000000000001" stroke-width="0.6"/>
<line x1="102.15" y1="602.2" x2="102.15" y2="655.8000000000001" stroke-width="0.6"/>
<line x1="59.33" y1="602.2" x2="59.33" y2="655.8000000000001" stroke-width="0.3"/>
<line x1="87.88" y1="602.2" x2="87.88" y2="655.8000000000001" stroke-width="0.3"/>
<line x1="42.2" y1="653.60" x2="105.0" y2="653.60" stroke-width="0.55"/>
<line x1="42.2" y1="641.43" x2="105.0" y2="641.43" stroke-width="0.55"/>
<line x1="42.2" y1="629.25" x2="105.0" y2="629.25" stroke-width="0.55"/>
<line x1="42.2" y1="617.08" x2="105.0" y2="617.08" stroke-width="0.55"/>
<line x1="42.2" y1="604.90" x2="105.0" y2="604.90" stroke-width="0.55"/>
<line x1="42.2" y1="647.51" x2="105.0" y2="647.51" stroke-width="0.3"/>
<line x1="42.2" y1="635.34" x2="105.0" y2="635.34" stroke-width="0.3"/>
<line x1="42.2" y1="623.16" x2="105.0" y2="623.16" stroke-width="0.3"/>
<line x1="42.2" y1="610.99" x2="105.0" y2="610.99" stroke-width="0.3"/>
</g>
<g fill="#c6c6c6">
<circle cx="48.52" cy="620.53" r="1.3"/>
<circle cx="53.73" cy="622.70" r="1.3"/>
<circle cx="55.90" cy="624.61" r="1.3"/>
<circle cx="50.69" cy="625.47" r="1.3"/>
<circle cx="60.24" cy="625.47" r="1.3"/>
<circle cx="62.41" cy="620.79" r="1.3"/>
<circle cx="49.39" cy="627.90" r="1.3"/>
<circle cx="51.56" cy="628.77" r="1.3"/>
<circle cx="55.03" cy="627.90" r="1.3"/>
<circle cx="55.46" cy="630.51" r="1.3"/>
<circle cx="45.92" cy="630.94" r="1.3"/>
<circle cx="45.05" cy="633.11" r="1.3"/>
<circle cx="47.65" cy="633.98" r="1.3"/>
<circle cx="49.82" cy="635.28" r="1.3"/>
<circle cx="50.69" cy="637.45" r="1.3"/>
<circle cx="50.26" cy="639.62" r="1.3"/>
<circle cx="52.43" cy="639.62" r="1.3"/>
<circle cx="53.29" cy="636.59" r="1.3"/>
<circle cx="55.03" cy="634.85" r="1.3"/>
<circle cx="54.60" cy="631.81" r="1.3"/>
<circle cx="56.77" cy="636.59" r="1.3"/>
<circle cx="57.63" cy="638.32" r="1.3"/>
<circle cx="59.37" cy="637.02" r="1.3"/>
<circle cx="55.90" cy="638.76" r="1.3"/>
<circle cx="58.50" cy="641.36" r="1.3"/>
<circle cx="60.67" cy="639.19" r="1.3"/>
<circle cx="61.54" cy="642.66" r="1.3"/>
<circle cx="53.29" cy="638.32" r="1.3"/>
<circle cx="51.99" cy="636.15" r="1.3"/>
<circle cx="59.37" cy="634.85" r="1.3"/>
<circle cx="63.71" cy="634.85" r="1.3"/>
<circle cx="65.44" cy="633.11" r="1.3"/>
<circle cx="62.84" cy="632.24" r="1.3"/>
<circle cx="66.31" cy="636.59" r="1.3"/>
<circle cx="65.01" cy="625.73" r="1.3"/>
<circle cx="67.18" cy="625.30" r="1.3"/>
<circle cx="68.91" cy="624.87" r="1.3"/>
<circle cx="68.05" cy="631.38" r="1.3"/>
<circle cx="69.78" cy="630.51" r="1.3"/>
<circle cx="71.52" cy="629.64" r="1.3"/>
<circle cx="72.82" cy="627.90" r="1.3"/>
<circle cx="72.39" cy="625.30" r="1.3"/>
<circle cx="70.65" cy="634.85" r="1.3"/>
<circle cx="68.48" cy="639.62" r="1.3"/>
<circle cx="72.39" cy="639.02" r="1.3"/>
<circle cx="75.42" cy="641.79" r="1.3"/>
<circle cx="75.42" cy="637.45" r="1.3"/>
<circle cx="71.95" cy="615.75" r="1.3"/>
<circle cx="72.82" cy="617.49" r="1.3"/>
<circle cx="71.52" cy="619.22" r="1.3"/>
<circle cx="73.25" cy="620.53" r="1.3"/>
<circle cx="74.55" cy="618.79" r="1.3"/>
<circle cx="76.72" cy="617.92" r="1.3"/>
<circle cx="76.72" cy="621.39" r="1.3"/>
<circle cx="78.89" cy="620.53" r="1.3"/>
<circle cx="79.33" cy="614.88" r="1.3"/>
<circle cx="82.80" cy="613.15" r="1.3"/>
<circle cx="81.93" cy="617.05" r="1.3"/>
<circle cx="84.53" cy="615.75" r="1.3"/>
<circle cx="86.27" cy="617.92" r="1.3"/>
<circle cx="85.40" cy="620.53" r="1.3"/>
<circle cx="81.50" cy="622.70" r="1.3"/>
<circle cx="78.46" cy="624.00" r="1.3"/>
<circle cx="80.20" cy="625.73" r="1.3"/>
<circle cx="82.80" cy="625.30" r="1.3"/>
<circle cx="84.53" cy="623.56" r="1.3"/>
<circle cx="87.14" cy="621.83" r="1.3"/>
<circle cx="89.31" cy="620.53" r="1.3"/>
<circle cx="90.61" cy="618.79" r="1.3"/>
<circle cx="91.91" cy="614.01" r="1.3"/>
<circle cx="93.21" cy="616.62" r="1.3"/>
<circle cx="94.95" cy="617.49" r="1.3"/>
<circle cx="97.55" cy="616.62" r="1.3"/>
<circle cx="99.29" cy="617.92" r="1.3"/>
<circle cx="101.89" cy="615.32" r="1.3"/>
<circle cx="101.89" cy="618.79" r="1.3"/>
<circle cx="101.89" cy="621.39" r="1.3"/>
<circle cx="98.85" cy="622.70" r="1.3"/>
<circle cx="92.78" cy="624.43" r="1.3"/>
<circle cx="90.61" cy="625.30" r="1.3"/>
<circle cx="89.31" cy="627.47" r="1.3"/>
<circle cx="87.14" cy="627.90" r="1.3"/>
<circle cx="84.53" cy="627.47" r="1.3"/>
<circle cx="82.80" cy="628.77" r="1.3"/>
<circle cx="81.06" cy="627.90" r="1.3"/>
<circle cx="78.46" cy="629.64" r="1.3"/>
<circle cx="80.20" cy="632.68" r="1.3"/>
<circle cx="79.33" cy="635.28" r="1.3"/>
<circle cx="81.06" cy="636.59" r="1.3"/>
<circle cx="84.53" cy="633.55" r="1.3"/>
<circle cx="86.70" cy="633.98" r="1.3"/>
<circle cx="84.97" cy="637.02" r="1.3"/>
<circle cx="88.44" cy="636.59" r="1.3"/>
<circle cx="91.91" cy="640.49" r="1.3"/>
<circle cx="97.12" cy="640.93" r="1.3"/>
<circle cx="96.68" cy="644.40" r="1.3"/>
<circle cx="101.89" cy="644.14" r="1.3"/>
<circle cx="97.55" cy="630.07" r="1.3"/>
<circle cx="98.85" cy="631.81" r="1.3"/>
<circle cx="90.61" cy="629.64" r="1.3"/>
<circle cx="92.34" cy="627.90" r="1.3"/>
<circle cx="88.87" cy="631.38" r="1.3"/>
<circle cx="76.72" cy="627.90" r="1.3"/>
<circle cx="74.99" cy="626.17" r="1.3"/>
<circle cx="70.65" cy="623.56" r="1.3"/>
<circle cx="73.25" cy="623.13" r="1.3"/>
<circle cx="77.59" cy="624.43" r="1.3"/>
<circle cx="44.86" cy="632.88" r="1.3"/>
<circle cx="49.35" cy="634.11" r="1.3"/>
<circle cx="49.85" cy="634.94" r="1.3"/>
<circle cx="49.43" cy="637.41" r="1.3"/>
<circle cx="50.78" cy="638.48" r="1.3"/>
<circle cx="50.80" cy="640.39" r="1.3"/>
<circle cx="51.66" cy="635.38" r="1.3"/>
<circle cx="55.80" cy="636.63" r="1.3"/>
<circle cx="56.52" cy="630.00" r="1.3"/>
<circle cx="57.38" cy="636.14" r="1.3"/>
<circle cx="56.26" cy="640.21" r="1.3"/>
<circle cx="59.48" cy="638.74" r="1.3"/>
<circle cx="54.66" cy="639.76" r="1.3"/>
<circle cx="56.62" cy="641.50" r="1.3"/>
<circle cx="60.43" cy="637.86" r="1.3"/>
<circle cx="61.61" cy="642.12" r="1.3"/>
<circle cx="53.29" cy="637.69" r="1.3"/>
<circle cx="51.82" cy="637.02" r="1.3"/>
<circle cx="61.36" cy="632.92" r="1.3"/>
<circle cx="74.18" cy="627.09" r="1.3"/>
<circle cx="71.65" cy="626.35" r="1.3"/>
<circle cx="71.11" cy="617.43" r="1.3"/>
<circle cx="73.88" cy="617.88" r="1.3"/>
<circle cx="72.90" cy="619.67" r="1.3"/>
<circle cx="75.08" cy="619.17" r="1.3"/>
<circle cx="72.56" cy="619.92" r="1.3"/>
<circle cx="78.36" cy="618.04" r="1.3"/>
<circle cx="78.64" cy="621.79" r="1.3"/>
<circle cx="77.19" cy="620.02" r="1.3"/>
<circle cx="80.44" cy="615.78" r="1.3"/>
<circle cx="81.15" cy="613.80" r="1.3"/>
<circle cx="83.79" cy="616.05" r="1.3"/>
<circle cx="83.01" cy="616.74" r="1.3"/>
<circle cx="84.67" cy="619.64" r="1.3"/>
<circle cx="86.59" cy="621.78" r="1.3"/>
<circle cx="81.73" cy="622.90" r="1.3"/>
<circle cx="77.22" cy="623.09" r="1.3"/>
<circle cx="78.72" cy="625.17" r="1.3"/>
<circle cx="81.27" cy="625.61" r="1.3"/>
<circle cx="83.39" cy="624.46" r="1.3"/>
<circle cx="89.02" cy="620.65" r="1.3"/>
<circle cx="88.52" cy="619.03" r="1.3"/>
<circle cx="89.45" cy="619.20" r="1.3"/>
<circle cx="93.33" cy="613.46" r="1.3"/>
<circle cx="91.61" cy="614.71" r="1.3"/>
<circle cx="93.80" cy="618.43" r="1.3"/>
<circle cx="98.64" cy="617.29" r="1.3"/>
<circle cx="98.47" cy="619.58" r="1.3"/>
<circle cx="100.25" cy="614.99" r="1.3"/>
<circle cx="100.86" cy="618.39" r="1.3"/>
<circle cx="101.38" cy="621.58" r="1.3"/>
<circle cx="100.69" cy="622.76" r="1.3"/>
<circle cx="93.08" cy="623.00" r="1.3"/>
<circle cx="89.34" cy="626.65" r="1.3"/>
<circle cx="90.94" cy="626.23" r="1.3"/>
<circle cx="86.14" cy="629.11" r="1.3"/>
<circle cx="85.49" cy="625.75" r="1.3"/>
<circle cx="81.59" cy="627.02" r="1.3"/>
<circle cx="82.59" cy="627.50" r="1.3"/>
<circle cx="92.03" cy="629.45" r="1.3"/>
<circle cx="74.88" cy="626.10" r="1.3"/>
<circle cx="73.94" cy="625.37" r="1.3"/>
<circle cx="72.28" cy="621.87" r="1.3"/>
<circle cx="77.98" cy="625.24" r="1.3"/>
</g>
<line x1="51.4" y1="629.3" x2="100.2" y2="621.7" stroke="#111" stroke-width="0.6"/>
<g fill="#5b8fd9" stroke="#262626" stroke-width="0.65">
<circle cx="83.2" cy="612.9" r="2.2"/>
<circle cx="79.6" cy="614.1" r="2.2"/>
<circle cx="71.1" cy="617.9" r="2.2"/>
<circle cx="77.4" cy="617.2" r="2.2"/>
<circle cx="80.9" cy="617.9" r="2.2"/>
<circle cx="90.8" cy="616.3" r="2.2"/>
<circle cx="93" cy="616.1" r="2.2"/>
<circle cx="98.4" cy="615.9" r="2.2"/>
<circle cx="101.8" cy="615.9" r="2.2"/>
<circle cx="98" cy="619" r="2.2"/>
<circle cx="101.5" cy="620.8" r="2.2"/>
<circle cx="99.3" cy="622.8" r="2.2"/>
<circle cx="85.4" cy="619.5" r="2.2"/>
<circle cx="81.4" cy="620.8" r="2.2"/>
<circle cx="83.2" cy="621.2" r="2.2"/>
<circle cx="85.7" cy="623" r="2.2"/>
<circle cx="72.4" cy="622.1" r="2.2"/>
<circle cx="68.9" cy="624.4" r="2.2"/>
<circle cx="53.6" cy="623.8" r="2.2"/>
<circle cx="50.5" cy="628" r="2.2"/>
<circle cx="51.4" cy="628.9" r="2.2"/>
<circle cx="93" cy="624.4" r="2.2"/>
<circle cx="80.5" cy="626.6" r="2.2"/>
<circle cx="86.3" cy="627.1" r="2.2"/>
<circle cx="89" cy="628" r="2.2"/>
<circle cx="91.7" cy="627.1" r="2.2"/>
<circle cx="92.6" cy="629.6" r="2.2"/>
<circle cx="98" cy="629.8" r="2.2"/>
<circle cx="73.8" cy="628" r="2.2"/>
<circle cx="69.8" cy="629.9" r="2.2"/>
<circle cx="72.9" cy="629.8" r="2.2"/>
<circle cx="54.5" cy="631.5" r="2.2"/>
<circle cx="63.9" cy="631.8" r="2.2"/>
<circle cx="54.1" cy="634.7" r="2.2"/>
<circle cx="69.8" cy="634.7" r="2.2"/>
<circle cx="75.1" cy="633.8" r="2.2"/>
<circle cx="78.5" cy="632.7" r="2.2"/>
<circle cx="52.3" cy="638.7" r="2.2"/>
<circle cx="50.1" cy="639.4" r="2.2"/>
<circle cx="102" cy="643.9" r="2.2"/>
</g>
<line x1="51.4" y1="629.3" x2="100.2" y2="621.7" stroke="#111" stroke-width="0.6" opacity="0.5"/>
<g font-size="5.5" fill="#222"><text x="50.50" y="610.90"><tspan font-style="italic">R</tspan><tspan font-size="3.7" dy="-2">2</tspan><tspan dy="2"> = 0.17</tspan></text><text x="101.20" y="610.90" text-anchor="end"><tspan font-style="italic">P</tspan> = 0.007</text></g>
<rect x="42.2" y="602.2" width="62.8" height="53.6" fill="none" stroke="#4d4d4d" stroke-width="0.7"/>
<g stroke="#4d4d4d" stroke-width="0.5">
<line x1="40.2" y1="653.60" x2="42.2" y2="653.60"/>
<line x1="40.2" y1="641.43" x2="42.2" y2="641.43"/>
<line x1="40.2" y1="629.25" x2="42.2" y2="629.25"/>
<line x1="40.2" y1="617.08" x2="42.2" y2="617.08"/>
<line x1="40.2" y1="604.90" x2="42.2" y2="604.90"/>
</g><g font-size="5.4" fill="#4d4d4d" text-anchor="end">
<text x="38.9" y="655.50">0.00</text>
<text x="38.9" y="643.33">0.25</text>
<text x="38.9" y="631.15">0.50</text>
<text x="38.9" y="618.98">0.75</text>
<text x="38.9" y="606.80">1.00</text>
</g>
<g stroke="#4d4d4d" stroke-width="0.5">
<line x1="45.05" y1="655.8000000000001" x2="45.05" y2="657.8000000000001"/>
<line x1="102.15" y1="655.8000000000001" x2="102.15" y2="657.8000000000001"/>
</g><g font-size="5.4" fill="#4d4d4d" text-anchor="middle">
<text x="45.05" y="662.90">0</text>
<text x="102.15" y="662.90">1</text>
</g>
<rect x="108.4" y="573.2" width="62.8" height="29.0" fill="#d9d9d9" stroke="#4d4d4d" stroke-width="0.7"/>
<g font-size="5.3" fill="#222" text-anchor="middle">
<text x="139.80" y="583.80">Acute promyelocytic</text>
<text x="139.80" y="590.20">leukemia,</text>
<text x="139.80" y="596.60">PML−RAR−alpha</text>
</g>
<g stroke="#ebebeb">
<line x1="111.25" y1="602.2" x2="111.25" y2="655.8000000000001" stroke-width="0.6"/>
<line x1="139.80" y1="602.2" x2="139.80" y2="655.8000000000001" stroke-width="0.6"/>
<line x1="168.35" y1="602.2" x2="168.35" y2="655.8000000000001" stroke-width="0.6"/>
<line x1="125.53" y1="602.2" x2="125.53" y2="655.8000000000001" stroke-width="0.3"/>
<line x1="154.07" y1="602.2" x2="154.07" y2="655.8000000000001" stroke-width="0.3"/>
<line x1="108.4" y1="653.60" x2="171.2" y2="653.60" stroke-width="0.55"/>
<line x1="108.4" y1="641.43" x2="171.2" y2="641.43" stroke-width="0.55"/>
<line x1="108.4" y1="629.25" x2="171.2" y2="629.25" stroke-width="0.55"/>
<line x1="108.4" y1="617.08" x2="171.2" y2="617.08" stroke-width="0.55"/>
<line x1="108.4" y1="604.90" x2="171.2" y2="604.90" stroke-width="0.55"/>
<line x1="108.4" y1="647.51" x2="171.2" y2="647.51" stroke-width="0.3"/>
<line x1="108.4" y1="635.34" x2="171.2" y2="635.34" stroke-width="0.3"/>
<line x1="108.4" y1="623.16" x2="171.2" y2="623.16" stroke-width="0.3"/>
<line x1="108.4" y1="610.99" x2="171.2" y2="610.99" stroke-width="0.3"/>
</g>
<g fill="#c6c6c6">
<circle cx="114.72" cy="620.53" r="1.3"/>
<circle cx="119.93" cy="622.70" r="1.3"/>
<circle cx="122.10" cy="624.61" r="1.3"/>
<circle cx="116.89" cy="625.47" r="1.3"/>
<circle cx="126.44" cy="625.47" r="1.3"/>
<circle cx="128.61" cy="620.79" r="1.3"/>
<circle cx="115.59" cy="627.90" r="1.3"/>
<circle cx="117.76" cy="628.77" r="1.3"/>
<circle cx="121.23" cy="627.90" r="1.3"/>
<circle cx="121.66" cy="630.51" r="1.3"/>
<circle cx="112.12" cy="630.94" r="1.3"/>
<circle cx="111.25" cy="633.11" r="1.3"/>
<circle cx="113.85" cy="633.98" r="1.3"/>
<circle cx="116.02" cy="635.28" r="1.3"/>
<circle cx="116.89" cy="637.45" r="1.3"/>
<circle cx="116.46" cy="639.62" r="1.3"/>
<circle cx="118.63" cy="639.62" r="1.3"/>
<circle cx="119.49" cy="636.59" r="1.3"/>
<circle cx="121.23" cy="634.85" r="1.3"/>
<circle cx="120.80" cy="631.81" r="1.3"/>
<circle cx="122.97" cy="636.59" r="1.3"/>
<circle cx="123.83" cy="638.32" r="1.3"/>
<circle cx="125.57" cy="637.02" r="1.3"/>
<circle cx="122.10" cy="638.76" r="1.3"/>
<circle cx="124.70" cy="641.36" r="1.3"/>
<circle cx="126.87" cy="639.19" r="1.3"/>
<circle cx="127.74" cy="642.66" r="1.3"/>
<circle cx="119.49" cy="638.32" r="1.3"/>
<circle cx="118.19" cy="636.15" r="1.3"/>
<circle cx="125.57" cy="634.85" r="1.3"/>
<circle cx="129.91" cy="634.85" r="1.3"/>
<circle cx="131.64" cy="633.11" r="1.3"/>
<circle cx="129.04" cy="632.24" r="1.3"/>
<circle cx="132.51" cy="636.59" r="1.3"/>
<circle cx="131.21" cy="625.73" r="1.3"/>
<circle cx="133.38" cy="625.30" r="1.3"/>
<circle cx="135.11" cy="624.87" r="1.3"/>
<circle cx="134.25" cy="631.38" r="1.3"/>
<circle cx="135.98" cy="630.51" r="1.3"/>
<circle cx="137.72" cy="629.64" r="1.3"/>
<circle cx="139.02" cy="627.90" r="1.3"/>
<circle cx="138.59" cy="625.30" r="1.3"/>
<circle cx="136.85" cy="634.85" r="1.3"/>
<circle cx="134.68" cy="639.62" r="1.3"/>
<circle cx="138.59" cy="639.02" r="1.3"/>
<circle cx="141.62" cy="641.79" r="1.3"/>
<circle cx="141.62" cy="637.45" r="1.3"/>
<circle cx="138.15" cy="615.75" r="1.3"/>
<circle cx="139.02" cy="617.49" r="1.3"/>
<circle cx="137.72" cy="619.22" r="1.3"/>
<circle cx="139.45" cy="620.53" r="1.3"/>
<circle cx="140.75" cy="618.79" r="1.3"/>
<circle cx="142.92" cy="617.92" r="1.3"/>
<circle cx="142.92" cy="621.39" r="1.3"/>
<circle cx="145.09" cy="620.53" r="1.3"/>
<circle cx="145.53" cy="614.88" r="1.3"/>
<circle cx="149.00" cy="613.15" r="1.3"/>
<circle cx="148.13" cy="617.05" r="1.3"/>
<circle cx="150.73" cy="615.75" r="1.3"/>
<circle cx="152.47" cy="617.92" r="1.3"/>
<circle cx="151.60" cy="620.53" r="1.3"/>
<circle cx="147.70" cy="622.70" r="1.3"/>
<circle cx="144.66" cy="624.00" r="1.3"/>
<circle cx="146.40" cy="625.73" r="1.3"/>
<circle cx="149.00" cy="625.30" r="1.3"/>
<circle cx="150.73" cy="623.56" r="1.3"/>
<circle cx="153.34" cy="621.83" r="1.3"/>
<circle cx="155.51" cy="620.53" r="1.3"/>
<circle cx="156.81" cy="618.79" r="1.3"/>
<circle cx="158.11" cy="614.01" r="1.3"/>
<circle cx="159.41" cy="616.62" r="1.3"/>
<circle cx="161.15" cy="617.49" r="1.3"/>
<circle cx="163.75" cy="616.62" r="1.3"/>
<circle cx="165.49" cy="617.92" r="1.3"/>
<circle cx="168.09" cy="615.32" r="1.3"/>
<circle cx="168.09" cy="618.79" r="1.3"/>
<circle cx="168.09" cy="621.39" r="1.3"/>
<circle cx="165.05" cy="622.70" r="1.3"/>
<circle cx="158.98" cy="624.43" r="1.3"/>
<circle cx="156.81" cy="625.30" r="1.3"/>
<circle cx="155.51" cy="627.47" r="1.3"/>
<circle cx="153.34" cy="627.90" r="1.3"/>
<circle cx="150.73" cy="627.47" r="1.3"/>
<circle cx="149.00" cy="628.77" r="1.3"/>
<circle cx="147.26" cy="627.90" r="1.3"/>
<circle cx="144.66" cy="629.64" r="1.3"/>
<circle cx="146.40" cy="632.68" r="1.3"/>
<circle cx="145.53" cy="635.28" r="1.3"/>
<circle cx="147.26" cy="636.59" r="1.3"/>
<circle cx="150.73" cy="633.55" r="1.3"/>
<circle cx="152.90" cy="633.98" r="1.3"/>
<circle cx="151.17" cy="637.02" r="1.3"/>
<circle cx="154.64" cy="636.59" r="1.3"/>
<circle cx="158.11" cy="640.49" r="1.3"/>
<circle cx="163.32" cy="640.93" r="1.3"/>
<circle cx="162.88" cy="644.40" r="1.3"/>
<circle cx="168.09" cy="644.14" r="1.3"/>
<circle cx="163.75" cy="630.07" r="1.3"/>
<circle cx="165.05" cy="631.81" r="1.3"/>
<circle cx="156.81" cy="629.64" r="1.3"/>
<circle cx="158.54" cy="627.90" r="1.3"/>
<circle cx="155.07" cy="631.38" r="1.3"/>
<circle cx="142.92" cy="627.90" r="1.3"/>
<circle cx="141.19" cy="626.17" r="1.3"/>
<circle cx="136.85" cy="623.56" r="1.3"/>
<circle cx="139.45" cy="623.13" r="1.3"/>
<circle cx="143.79" cy="624.43" r="1.3"/>
<circle cx="111.06" cy="632.88" r="1.3"/>
<circle cx="115.55" cy="634.11" r="1.3"/>
<circle cx="116.05" cy="634.94" r="1.3"/>
<circle cx="115.63" cy="637.41" r="1.3"/>
<circle cx="116.98" cy="638.48" r="1.3"/>
<circle cx="117.00" cy="640.39" r="1.3"/>
<circle cx="117.86" cy="635.38" r="1.3"/>
<circle cx="122.00" cy="636.63" r="1.3"/>
<circle cx="122.72" cy="630.00" r="1.3"/>
<circle cx="123.58" cy="636.14" r="1.3"/>
<circle cx="122.46" cy="640.21" r="1.3"/>
<circle cx="125.68" cy="638.74" r="1.3"/>
<circle cx="120.86" cy="639.76" r="1.3"/>
<circle cx="122.82" cy="641.50" r="1.3"/>
<circle cx="126.63" cy="637.86" r="1.3"/>
<circle cx="127.81" cy="642.12" r="1.3"/>
<circle cx="119.49" cy="637.69" r="1.3"/>
<circle cx="118.02" cy="637.02" r="1.3"/>
<circle cx="127.56" cy="632.92" r="1.3"/>
<circle cx="140.38" cy="627.09" r="1.3"/>
<circle cx="137.85" cy="626.35" r="1.3"/>
<circle cx="137.31" cy="617.43" r="1.3"/>
<circle cx="140.08" cy="617.88" r="1.3"/>
<circle cx="139.10" cy="619.67" r="1.3"/>
<circle cx="141.28" cy="619.17" r="1.3"/>
<circle cx="138.76" cy="619.92" r="1.3"/>
<circle cx="144.56" cy="618.04" r="1.3"/>
<circle cx="144.84" cy="621.79" r="1.3"/>
<circle cx="143.39" cy="620.02" r="1.3"/>
<circle cx="146.64" cy="615.78" r="1.3"/>
<circle cx="147.35" cy="613.80" r="1.3"/>
<circle cx="149.99" cy="616.05" r="1.3"/>
<circle cx="149.21" cy="616.74" r="1.3"/>
<circle cx="150.87" cy="619.64" r="1.3"/>
<circle cx="152.79" cy="621.78" r="1.3"/>
<circle cx="147.93" cy="622.90" r="1.3"/>
<circle cx="143.42" cy="623.09" r="1.3"/>
<circle cx="144.92" cy="625.17" r="1.3"/>
<circle cx="147.47" cy="625.61" r="1.3"/>
<circle cx="149.59" cy="624.46" r="1.3"/>
<circle cx="155.22" cy="620.65" r="1.3"/>
<circle cx="154.72" cy="619.03" r="1.3"/>
<circle cx="155.65" cy="619.20" r="1.3"/>
<circle cx="159.53" cy="613.46" r="1.3"/>
<circle cx="157.81" cy="614.71" r="1.3"/>
<circle cx="160.00" cy="618.43" r="1.3"/>
<circle cx="164.84" cy="617.29" r="1.3"/>
<circle cx="164.67" cy="619.58" r="1.3"/>
<circle cx="166.45" cy="614.99" r="1.3"/>
<circle cx="167.06" cy="618.39" r="1.3"/>
<circle cx="167.58" cy="621.58" r="1.3"/>
<circle cx="166.89" cy="622.76" r="1.3"/>
<circle cx="159.28" cy="623.00" r="1.3"/>
<circle cx="155.54" cy="626.65" r="1.3"/>
<circle cx="157.14" cy="626.23" r="1.3"/>
<circle cx="152.34" cy="629.11" r="1.3"/>
<circle cx="151.69" cy="625.75" r="1.3"/>
<circle cx="147.79" cy="627.02" r="1.3"/>
<circle cx="148.79" cy="627.50" r="1.3"/>
<circle cx="158.23" cy="629.45" r="1.3"/>
<circle cx="141.08" cy="626.10" r="1.3"/>
<circle cx="140.14" cy="625.37" r="1.3"/>
<circle cx="138.48" cy="621.87" r="1.3"/>
<circle cx="144.18" cy="625.24" r="1.3"/>
</g>
<line x1="111.1" y1="632.4" x2="124.6" y2="639.6" stroke="#111" stroke-width="0.6"/>
<g fill="#9b6cc9" stroke="#262626" stroke-width="0.65">
<circle cx="111.1" cy="632.9" r="2.2"/>
<circle cx="114.7" cy="635.8" r="2.2"/>
<circle cx="118.3" cy="632.9" r="2.2"/>
<circle cx="117" cy="636.5" r="2.2"/>
<circle cx="121" cy="637.4" r="2.2"/>
<circle cx="121.4" cy="638.7" r="2.2"/>
<circle cx="123.7" cy="638.7" r="2.2"/>
<circle cx="122.8" cy="636.7" r="2.2"/>
</g>
<line x1="111.1" y1="632.4" x2="124.6" y2="639.6" stroke="#111" stroke-width="0.6" opacity="0.5"/>
<g font-size="5.5" fill="#222"><text x="116.70" y="610.90"><tspan font-style="italic">R</tspan><tspan font-size="3.7" dy="-2">2</tspan><tspan dy="2"> = 0.63</tspan></text><text x="167.40" y="610.90" text-anchor="end"><tspan font-style="italic">P</tspan> = 0.019</text></g>
<rect x="108.4" y="602.2" width="62.8" height="53.6" fill="none" stroke="#4d4d4d" stroke-width="0.7"/>
<g stroke="#4d4d4d" stroke-width="0.5">
<line x1="111.25" y1="655.8000000000001" x2="111.25" y2="657.8000000000001"/>
<line x1="168.35" y1="655.8000000000001" x2="168.35" y2="657.8000000000001"/>
</g><g font-size="5.4" fill="#4d4d4d" text-anchor="middle">
<text x="111.25" y="662.90">0</text>
<text x="168.35" y="662.90">1</text>
</g>
<rect x="174.7" y="573.2" width="62.8" height="29.0" fill="#d9d9d9" stroke="#4d4d4d" stroke-width="0.7"/>
<g font-size="5.3" fill="#222" text-anchor="middle">
<text x="206.10" y="590.20">Myeloid sarcoma</text>
</g>
<g stroke="#ebebeb">
<line x1="177.55" y1="602.2" x2="177.55" y2="655.8000000000001" stroke-width="0.6"/>
<line x1="206.10" y1="602.2" x2="206.10" y2="655.8000000000001" stroke-width="0.6"/>
<line x1="234.65" y1="602.2" x2="234.65" y2="655.8000000000001" stroke-width="0.6"/>
<line x1="191.82" y1="602.2" x2="191.82" y2="655.8000000000001" stroke-width="0.3"/>
<line x1="220.38" y1="602.2" x2="220.38" y2="655.8000000000001" stroke-width="0.3"/>
<line x1="174.7" y1="653.60" x2="237.5" y2="653.60" stroke-width="0.55"/>
<line x1="174.7" y1="641.43" x2="237.5" y2="641.43" stroke-width="0.55"/>
<line x1="174.7" y1="629.25" x2="237.5" y2="629.25" stroke-width="0.55"/>
<line x1="174.7" y1="617.08" x2="237.5" y2="617.08" stroke-width="0.55"/>
<line x1="174.7" y1="604.90" x2="237.5" y2="604.90" stroke-width="0.55"/>
<line x1="174.7" y1="647.51" x2="237.5" y2="647.51" stroke-width="0.3"/>
<line x1="174.7" y1="635.34" x2="237.5" y2="635.34" stroke-width="0.3"/>
<line x1="174.7" y1="623.16" x2="237.5" y2="623.16" stroke-width="0.3"/>
<line x1="174.7" y1="610.99" x2="237.5" y2="610.99" stroke-width="0.3"/>
</g>
<g fill="#c6c6c6">
<circle cx="181.02" cy="620.53" r="1.3"/>
<circle cx="186.23" cy="622.70" r="1.3"/>
<circle cx="188.40" cy="624.61" r="1.3"/>
<circle cx="183.19" cy="625.47" r="1.3"/>
<circle cx="192.74" cy="625.47" r="1.3"/>
<circle cx="194.91" cy="620.79" r="1.3"/>
<circle cx="181.89" cy="627.90" r="1.3"/>
<circle cx="184.06" cy="628.77" r="1.3"/>
<circle cx="187.53" cy="627.90" r="1.3"/>
<circle cx="187.96" cy="630.51" r="1.3"/>
<circle cx="178.42" cy="630.94" r="1.3"/>
<circle cx="177.55" cy="633.11" r="1.3"/>
<circle cx="180.15" cy="633.98" r="1.3"/>
<circle cx="182.32" cy="635.28" r="1.3"/>
<circle cx="183.19" cy="637.45" r="1.3"/>
<circle cx="182.76" cy="639.62" r="1.3"/>
<circle cx="184.93" cy="639.62" r="1.3"/>
<circle cx="185.79" cy="636.59" r="1.3"/>
<circle cx="187.53" cy="634.85" r="1.3"/>
<circle cx="187.10" cy="631.81" r="1.3"/>
<circle cx="189.27" cy="636.59" r="1.3"/>
<circle cx="190.13" cy="638.32" r="1.3"/>
<circle cx="191.87" cy="637.02" r="1.3"/>
<circle cx="188.40" cy="638.76" r="1.3"/>
<circle cx="191.00" cy="641.36" r="1.3"/>
<circle cx="193.17" cy="639.19" r="1.3"/>
<circle cx="194.04" cy="642.66" r="1.3"/>
<circle cx="185.79" cy="638.32" r="1.3"/>
<circle cx="184.49" cy="636.15" r="1.3"/>
<circle cx="191.87" cy="634.85" r="1.3"/>
<circle cx="196.21" cy="634.85" r="1.3"/>
<circle cx="197.94" cy="633.11" r="1.3"/>
<circle cx="195.34" cy="632.24" r="1.3"/>
<circle cx="198.81" cy="636.59" r="1.3"/>
<circle cx="197.51" cy="625.73" r="1.3"/>
<circle cx="199.68" cy="625.30" r="1.3"/>
<circle cx="201.41" cy="624.87" r="1.3"/>
<circle cx="200.55" cy="631.38" r="1.3"/>
<circle cx="202.28" cy="630.51" r="1.3"/>
<circle cx="204.02" cy="629.64" r="1.3"/>
<circle cx="205.32" cy="627.90" r="1.3"/>
<circle cx="204.89" cy="625.30" r="1.3"/>
<circle cx="203.15" cy="634.85" r="1.3"/>
<circle cx="200.98" cy="639.62" r="1.3"/>
<circle cx="204.89" cy="639.02" r="1.3"/>
<circle cx="207.92" cy="641.79" r="1.3"/>
<circle cx="207.92" cy="637.45" r="1.3"/>
<circle cx="204.45" cy="615.75" r="1.3"/>
<circle cx="205.32" cy="617.49" r="1.3"/>
<circle cx="204.02" cy="619.22" r="1.3"/>
<circle cx="205.75" cy="620.53" r="1.3"/>
<circle cx="207.05" cy="618.79" r="1.3"/>
<circle cx="209.22" cy="617.92" r="1.3"/>
<circle cx="209.22" cy="621.39" r="1.3"/>
<circle cx="211.39" cy="620.53" r="1.3"/>
<circle cx="211.83" cy="614.88" r="1.3"/>
<circle cx="215.30" cy="613.15" r="1.3"/>
<circle cx="214.43" cy="617.05" r="1.3"/>
<circle cx="217.03" cy="615.75" r="1.3"/>
<circle cx="218.77" cy="617.92" r="1.3"/>
<circle cx="217.90" cy="620.53" r="1.3"/>
<circle cx="214.00" cy="622.70" r="1.3"/>
<circle cx="210.96" cy="624.00" r="1.3"/>
<circle cx="212.70" cy="625.73" r="1.3"/>
<circle cx="215.30" cy="625.30" r="1.3"/>
<circle cx="217.03" cy="623.56" r="1.3"/>
<circle cx="219.64" cy="621.83" r="1.3"/>
<circle cx="221.81" cy="620.53" r="1.3"/>
<circle cx="223.11" cy="618.79" r="1.3"/>
<circle cx="224.41" cy="614.01" r="1.3"/>
<circle cx="225.71" cy="616.62" r="1.3"/>
<circle cx="227.45" cy="617.49" r="1.3"/>
<circle cx="230.05" cy="616.62" r="1.3"/>
<circle cx="231.79" cy="617.92" r="1.3"/>
<circle cx="234.39" cy="615.32" r="1.3"/>
<circle cx="234.39" cy="618.79" r="1.3"/>
<circle cx="234.39" cy="621.39" r="1.3"/>
<circle cx="231.35" cy="622.70" r="1.3"/>
<circle cx="225.28" cy="624.43" r="1.3"/>
<circle cx="223.11" cy="625.30" r="1.3"/>
<circle cx="221.81" cy="627.47" r="1.3"/>
<circle cx="219.64" cy="627.90" r="1.3"/>
<circle cx="217.03" cy="627.47" r="1.3"/>
<circle cx="215.30" cy="628.77" r="1.3"/>
<circle cx="213.56" cy="627.90" r="1.3"/>
<circle cx="210.96" cy="629.64" r="1.3"/>
<circle cx="212.70" cy="632.68" r="1.3"/>
<circle cx="211.83" cy="635.28" r="1.3"/>
<circle cx="213.56" cy="636.59" r="1.3"/>
<circle cx="217.03" cy="633.55" r="1.3"/>
<circle cx="219.20" cy="633.98" r="1.3"/>
<circle cx="217.47" cy="637.02" r="1.3"/>
<circle cx="220.94" cy="636.59" r="1.3"/>
<circle cx="224.41" cy="640.49" r="1.3"/>
<circle cx="229.62" cy="640.93" r="1.3"/>
<circle cx="229.18" cy="644.40" r="1.3"/>
<circle cx="234.39" cy="644.14" r="1.3"/>
<circle cx="230.05" cy="630.07" r="1.3"/>
<circle cx="231.35" cy="631.81" r="1.3"/>
<circle cx="223.11" cy="629.64" r="1.3"/>
<circle cx="224.84" cy="627.90" r="1.3"/>
<circle cx="221.37" cy="631.38" r="1.3"/>
<circle cx="209.22" cy="627.90" r="1.3"/>
<circle cx="207.49" cy="626.17" r="1.3"/>
<circle cx="203.15" cy="623.56" r="1.3"/>
<circle cx="205.75" cy="623.13" r="1.3"/>
<circle cx="210.09" cy="624.43" r="1.3"/>
<circle cx="177.36" cy="632.88" r="1.3"/>
<circle cx="181.85" cy="634.11" r="1.3"/>
<circle cx="182.35" cy="634.94" r="1.3"/>
<circle cx="181.93" cy="637.41" r="1.3"/>
<circle cx="183.28" cy="638.48" r="1.3"/>
<circle cx="183.30" cy="640.39" r="1.3"/>
<circle cx="184.16" cy="635.38" r="1.3"/>
<circle cx="188.30" cy="636.63" r="1.3"/>
<circle cx="189.02" cy="630.00" r="1.3"/>
<circle cx="189.88" cy="636.14" r="1.3"/>
<circle cx="188.76" cy="640.21" r="1.3"/>
<circle cx="191.98" cy="638.74" r="1.3"/>
<circle cx="187.16" cy="639.76" r="1.3"/>
<circle cx="189.12" cy="641.50" r="1.3"/>
<circle cx="192.93" cy="637.86" r="1.3"/>
<circle cx="194.11" cy="642.12" r="1.3"/>
<circle cx="185.79" cy="637.69" r="1.3"/>
<circle cx="184.32" cy="637.02" r="1.3"/>
<circle cx="193.86" cy="632.92" r="1.3"/>
<circle cx="206.68" cy="627.09" r="1.3"/>
<circle cx="204.15" cy="626.35" r="1.3"/>
<circle cx="203.61" cy="617.43" r="1.3"/>
<circle cx="206.38" cy="617.88" r="1.3"/>
<circle cx="205.40" cy="619.67" r="1.3"/>
<circle cx="207.58" cy="619.17" r="1.3"/>
<circle cx="205.06" cy="619.92" r="1.3"/>
<circle cx="210.86" cy="618.04" r="1.3"/>
<circle cx="211.14" cy="621.79" r="1.3"/>
<circle cx="209.69" cy="620.02" r="1.3"/>
<circle cx="212.94" cy="615.78" r="1.3"/>
<circle cx="213.65" cy="613.80" r="1.3"/>
<circle cx="216.29" cy="616.05" r="1.3"/>
<circle cx="215.51" cy="616.74" r="1.3"/>
<circle cx="217.17" cy="619.64" r="1.3"/>
<circle cx="219.09" cy="621.78" r="1.3"/>
<circle cx="214.23" cy="622.90" r="1.3"/>
<circle cx="209.72" cy="623.09" r="1.3"/>
<circle cx="211.22" cy="625.17" r="1.3"/>
<circle cx="213.77" cy="625.61" r="1.3"/>
<circle cx="215.89" cy="624.46" r="1.3"/>
<circle cx="221.52" cy="620.65" r="1.3"/>
<circle cx="221.02" cy="619.03" r="1.3"/>
<circle cx="221.95" cy="619.20" r="1.3"/>
<circle cx="225.83" cy="613.46" r="1.3"/>
<circle cx="224.11" cy="614.71" r="1.3"/>
<circle cx="226.30" cy="618.43" r="1.3"/>
<circle cx="231.14" cy="617.29" r="1.3"/>
<circle cx="230.97" cy="619.58" r="1.3"/>
<circle cx="232.75" cy="614.99" r="1.3"/>
<circle cx="233.36" cy="618.39" r="1.3"/>
<circle cx="233.88" cy="621.58" r="1.3"/>
<circle cx="233.19" cy="622.76" r="1.3"/>
<circle cx="225.58" cy="623.00" r="1.3"/>
<circle cx="221.84" cy="626.65" r="1.3"/>
<circle cx="223.44" cy="626.23" r="1.3"/>
<circle cx="218.64" cy="629.11" r="1.3"/>
<circle cx="217.99" cy="625.75" r="1.3"/>
<circle cx="214.09" cy="627.02" r="1.3"/>
<circle cx="215.09" cy="627.50" r="1.3"/>
<circle cx="224.53" cy="629.45" r="1.3"/>
<circle cx="207.38" cy="626.10" r="1.3"/>
<circle cx="206.44" cy="625.37" r="1.3"/>
<circle cx="204.78" cy="621.87" r="1.3"/>
<circle cx="210.48" cy="625.24" r="1.3"/>
</g>
<g fill="#e05fa8" stroke="#262626" stroke-width="0.65">
<circle cx="218.9" cy="616.9" r="2.2"/>
<circle cx="230.9" cy="619.8" r="2.2"/>
</g>
<rect x="174.7" y="602.2" width="62.8" height="53.6" fill="none" stroke="#4d4d4d" stroke-width="0.7"/>
<g stroke="#4d4d4d" stroke-width="0.5">
<line x1="177.55" y1="655.8000000000001" x2="177.55" y2="657.8000000000001"/>
<line x1="234.65" y1="655.8000000000001" x2="234.65" y2="657.8000000000001"/>
</g><g font-size="5.4" fill="#4d4d4d" text-anchor="middle">
<text x="177.55" y="662.90">0</text>
<text x="234.65" y="662.90">1</text>
</g>
<rect x="240.9" y="573.2" width="62.8" height="29.0" fill="#d9d9d9" stroke="#4d4d4d" stroke-width="0.7"/>
<g font-size="5.3" fill="#222" text-anchor="middle">
<text x="272.30" y="587.00">Therapy related</text>
<text x="272.30" y="593.40">myeloid neoplasm</text>
</g>
<g stroke="#ebebeb">
<line x1="243.75" y1="602.2" x2="243.75" y2="655.8000000000001" stroke-width="0.6"/>
<line x1="272.30" y1="602.2" x2="272.30" y2="655.8000000000001" stroke-width="0.6"/>
<line x1="300.85" y1="602.2" x2="300.85" y2="655.8000000000001" stroke-width="0.6"/>
<line x1="258.02" y1="602.2" x2="258.02" y2="655.8000000000001" stroke-width="0.3"/>
<line x1="286.57" y1="602.2" x2="286.57" y2="655.8000000000001" stroke-width="0.3"/>
<line x1="240.9" y1="653.60" x2="303.7" y2="653.60" stroke-width="0.55"/>
<line x1="240.9" y1="641.43" x2="303.7" y2="641.43" stroke-width="0.55"/>
<line x1="240.9" y1="629.25" x2="303.7" y2="629.25" stroke-width="0.55"/>
<line x1="240.9" y1="617.08" x2="303.7" y2="617.08" stroke-width="0.55"/>
<line x1="240.9" y1="604.90" x2="303.7" y2="604.90" stroke-width="0.55"/>
<line x1="240.9" y1="647.51" x2="303.7" y2="647.51" stroke-width="0.3"/>
<line x1="240.9" y1="635.34" x2="303.7" y2="635.34" stroke-width="0.3"/>
<line x1="240.9" y1="623.16" x2="303.7" y2="623.16" stroke-width="0.3"/>
<line x1="240.9" y1="610.99" x2="303.7" y2="610.99" stroke-width="0.3"/>
</g>
<g fill="#c6c6c6">
<circle cx="247.22" cy="620.53" r="1.3"/>
<circle cx="252.43" cy="622.70" r="1.3"/>
<circle cx="254.60" cy="624.61" r="1.3"/>
<circle cx="249.39" cy="625.47" r="1.3"/>
<circle cx="258.94" cy="625.47" r="1.3"/>
<circle cx="261.11" cy="620.79" r="1.3"/>
<circle cx="248.09" cy="627.90" r="1.3"/>
<circle cx="250.26" cy="628.77" r="1.3"/>
<circle cx="253.73" cy="627.90" r="1.3"/>
<circle cx="254.16" cy="630.51" r="1.3"/>
<circle cx="244.62" cy="630.94" r="1.3"/>
<circle cx="243.75" cy="633.11" r="1.3"/>
<circle cx="246.35" cy="633.98" r="1.3"/>
<circle cx="248.52" cy="635.28" r="1.3"/>
<circle cx="249.39" cy="637.45" r="1.3"/>
<circle cx="248.96" cy="639.62" r="1.3"/>
<circle cx="251.13" cy="639.62" r="1.3"/>
<circle cx="251.99" cy="636.59" r="1.3"/>
<circle cx="253.73" cy="634.85" r="1.3"/>
<circle cx="253.30" cy="631.81" r="1.3"/>
<circle cx="255.47" cy="636.59" r="1.3"/>
<circle cx="256.33" cy="638.32" r="1.3"/>
<circle cx="258.07" cy="637.02" r="1.3"/>
<circle cx="254.60" cy="638.76" r="1.3"/>
<circle cx="257.20" cy="641.36" r="1.3"/>
<circle cx="259.37" cy="639.19" r="1.3"/>
<circle cx="260.24" cy="642.66" r="1.3"/>
<circle cx="251.99" cy="638.32" r="1.3"/>
<circle cx="250.69" cy="636.15" r="1.3"/>
<circle cx="258.07" cy="634.85" r="1.3"/>
<circle cx="262.41" cy="634.85" r="1.3"/>
<circle cx="264.14" cy="633.11" r="1.3"/>
<circle cx="261.54" cy="632.24" r="1.3"/>
<circle cx="265.01" cy="636.59" r="1.3"/>
<circle cx="263.71" cy="625.73" r="1.3"/>
<circle cx="265.88" cy="625.30" r="1.3"/>
<circle cx="267.61" cy="624.87" r="1.3"/>
<circle cx="266.75" cy="631.38" r="1.3"/>
<circle cx="268.48" cy="630.51" r="1.3"/>
<circle cx="270.22" cy="629.64" r="1.3"/>
<circle cx="271.52" cy="627.90" r="1.3"/>
<circle cx="271.09" cy="625.30" r="1.3"/>
<circle cx="269.35" cy="634.85" r="1.3"/>
<circle cx="267.18" cy="639.62" r="1.3"/>
<circle cx="271.09" cy="639.02" r="1.3"/>
<circle cx="274.12" cy="641.79" r="1.3"/>
<circle cx="274.12" cy="637.45" r="1.3"/>
<circle cx="270.65" cy="615.75" r="1.3"/>
<circle cx="271.52" cy="617.49" r="1.3"/>
<circle cx="270.22" cy="619.22" r="1.3"/>
<circle cx="271.95" cy="620.53" r="1.3"/>
<circle cx="273.25" cy="618.79" r="1.3"/>
<circle cx="275.42" cy="617.92" r="1.3"/>
<circle cx="275.42" cy="621.39" r="1.3"/>
<circle cx="277.59" cy="620.53" r="1.3"/>
<circle cx="278.03" cy="614.88" r="1.3"/>
<circle cx="281.50" cy="613.15" r="1.3"/>
<circle cx="280.63" cy="617.05" r="1.3"/>
<circle cx="283.23" cy="615.75" r="1.3"/>
<circle cx="284.97" cy="617.92" r="1.3"/>
<circle cx="284.10" cy="620.53" r="1.3"/>
<circle cx="280.20" cy="622.70" r="1.3"/>
<circle cx="277.16" cy="624.00" r="1.3"/>
<circle cx="278.90" cy="625.73" r="1.3"/>
<circle cx="281.50" cy="625.30" r="1.3"/>
<circle cx="283.23" cy="623.56" r="1.3"/>
<circle cx="285.84" cy="621.83" r="1.3"/>
<circle cx="288.01" cy="620.53" r="1.3"/>
<circle cx="289.31" cy="618.79" r="1.3"/>
<circle cx="290.61" cy="614.01" r="1.3"/>
<circle cx="291.91" cy="616.62" r="1.3"/>
<circle cx="293.65" cy="617.49" r="1.3"/>
<circle cx="296.25" cy="616.62" r="1.3"/>
<circle cx="297.99" cy="617.92" r="1.3"/>
<circle cx="300.59" cy="615.32" r="1.3"/>
<circle cx="300.59" cy="618.79" r="1.3"/>
<circle cx="300.59" cy="621.39" r="1.3"/>
<circle cx="297.55" cy="622.70" r="1.3"/>
<circle cx="291.48" cy="624.43" r="1.3"/>
<circle cx="289.31" cy="625.30" r="1.3"/>
<circle cx="288.01" cy="627.47" r="1.3"/>
<circle cx="285.84" cy="627.90" r="1.3"/>
<circle cx="283.23" cy="627.47" r="1.3"/>
<circle cx="281.50" cy="628.77" r="1.3"/>
<circle cx="279.76" cy="627.90" r="1.3"/>
<circle cx="277.16" cy="629.64" r="1.3"/>
<circle cx="278.90" cy="632.68" r="1.3"/>
<circle cx="278.03" cy="635.28" r="1.3"/>
<circle cx="279.76" cy="636.59" r="1.3"/>
<circle cx="283.23" cy="633.55" r="1.3"/>
<circle cx="285.40" cy="633.98" r="1.3"/>
<circle cx="283.67" cy="637.02" r="1.3"/>
<circle cx="287.14" cy="636.59" r="1.3"/>
<circle cx="290.61" cy="640.49" r="1.3"/>
<circle cx="295.82" cy="640.93" r="1.3"/>
<circle cx="295.38" cy="644.40" r="1.3"/>
<circle cx="300.59" cy="644.14" r="1.3"/>
<circle cx="296.25" cy="630.07" r="1.3"/>
<circle cx="297.55" cy="631.81" r="1.3"/>
<circle cx="289.31" cy="629.64" r="1.3"/>
<circle cx="291.04" cy="627.90" r="1.3"/>
<circle cx="287.57" cy="631.38" r="1.3"/>
<circle cx="275.42" cy="627.90" r="1.3"/>
<circle cx="273.69" cy="626.17" r="1.3"/>
<circle cx="269.35" cy="623.56" r="1.3"/>
<circle cx="271.95" cy="623.13" r="1.3"/>
<circle cx="276.29" cy="624.43" r="1.3"/>
<circle cx="243.56" cy="632.88" r="1.3"/>
<circle cx="248.05" cy="634.11" r="1.3"/>
<circle cx="248.55" cy="634.94" r="1.3"/>
<circle cx="248.13" cy="637.41" r="1.3"/>
<circle cx="249.48" cy="638.48" r="1.3"/>
<circle cx="249.50" cy="640.39" r="1.3"/>
<circle cx="250.36" cy="635.38" r="1.3"/>
<circle cx="254.50" cy="636.63" r="1.3"/>
<circle cx="255.22" cy="630.00" r="1.3"/>
<circle cx="256.08" cy="636.14" r="1.3"/>
<circle cx="254.96" cy="640.21" r="1.3"/>
<circle cx="258.18" cy="638.74" r="1.3"/>
<circle cx="253.36" cy="639.76" r="1.3"/>
<circle cx="255.32" cy="641.50" r="1.3"/>
<circle cx="259.13" cy="637.86" r="1.3"/>
<circle cx="260.31" cy="642.12" r="1.3"/>
<circle cx="251.99" cy="637.69" r="1.3"/>
<circle cx="250.52" cy="637.02" r="1.3"/>
<circle cx="260.06" cy="632.92" r="1.3"/>
<circle cx="272.88" cy="627.09" r="1.3"/>
<circle cx="270.35" cy="626.35" r="1.3"/>
<circle cx="269.81" cy="617.43" r="1.3"/>
<circle cx="272.58" cy="617.88" r="1.3"/>
<circle cx="271.60" cy="619.67" r="1.3"/>
<circle cx="273.78" cy="619.17" r="1.3"/>
<circle cx="271.26" cy="619.92" r="1.3"/>
<circle cx="277.06" cy="618.04" r="1.3"/>
<circle cx="277.34" cy="621.79" r="1.3"/>
<circle cx="275.89" cy="620.02" r="1.3"/>
<circle cx="279.14" cy="615.78" r="1.3"/>
<circle cx="279.85" cy="613.80" r="1.3"/>
<circle cx="282.49" cy="616.05" r="1.3"/>
<circle cx="281.71" cy="616.74" r="1.3"/>
<circle cx="283.37" cy="619.64" r="1.3"/>
<circle cx="285.29" cy="621.78" r="1.3"/>
<circle cx="280.43" cy="622.90" r="1.3"/>
<circle cx="275.92" cy="623.09" r="1.3"/>
<circle cx="277.42" cy="625.17" r="1.3"/>
<circle cx="279.97" cy="625.61" r="1.3"/>
<circle cx="282.09" cy="624.46" r="1.3"/>
<circle cx="287.72" cy="620.65" r="1.3"/>
<circle cx="287.22" cy="619.03" r="1.3"/>
<circle cx="288.15" cy="619.20" r="1.3"/>
<circle cx="292.03" cy="613.46" r="1.3"/>
<circle cx="290.31" cy="614.71" r="1.3"/>
<circle cx="292.50" cy="618.43" r="1.3"/>
<circle cx="297.34" cy="617.29" r="1.3"/>
<circle cx="297.17" cy="619.58" r="1.3"/>
<circle cx="298.95" cy="614.99" r="1.3"/>
<circle cx="299.56" cy="618.39" r="1.3"/>
<circle cx="300.08" cy="621.58" r="1.3"/>
<circle cx="299.39" cy="622.76" r="1.3"/>
<circle cx="291.78" cy="623.00" r="1.3"/>
<circle cx="288.04" cy="626.65" r="1.3"/>
<circle cx="289.64" cy="626.23" r="1.3"/>
<circle cx="284.84" cy="629.11" r="1.3"/>
<circle cx="284.19" cy="625.75" r="1.3"/>
<circle cx="280.29" cy="627.02" r="1.3"/>
<circle cx="281.29" cy="627.50" r="1.3"/>
<circle cx="290.73" cy="629.45" r="1.3"/>
<circle cx="273.58" cy="626.10" r="1.3"/>
<circle cx="272.64" cy="625.37" r="1.3"/>
<circle cx="270.98" cy="621.87" r="1.3"/>
<circle cx="276.68" cy="625.24" r="1.3"/>
</g>
<line x1="254.8" y1="629.3" x2="298.2" y2="619.2" stroke="#111" stroke-width="0.6"/>
<g fill="#ef60a8" stroke="#262626" stroke-width="0.65">
<circle cx="278" cy="614.5" r="2.2"/>
<circle cx="283" cy="617.7" r="2.2"/>
<circle cx="289.2" cy="616.8" r="2.2"/>
<circle cx="295.1" cy="616.3" r="2.2"/>
<circle cx="297.7" cy="617.9" r="2.2"/>
<circle cx="290.9" cy="619.7" r="2.2"/>
<circle cx="274.5" cy="619.7" r="2.2"/>
<circle cx="254.5" cy="624.2" r="2.2"/>
<circle cx="266.4" cy="624.8" r="2.2"/>
<circle cx="274.5" cy="626.2" r="2.2"/>
<circle cx="284.8" cy="624.2" r="2.2"/>
<circle cx="280.1" cy="627.5" r="2.2"/>
<circle cx="280.7" cy="628.7" r="2.2"/>
<circle cx="274" cy="630.5" r="2.2"/>
<circle cx="297.7" cy="631.5" r="2.2"/>
<circle cx="254.5" cy="639.6" r="2.2"/>
</g>
<line x1="254.8" y1="629.3" x2="298.2" y2="619.2" stroke="#111" stroke-width="0.6" opacity="0.5"/>
<g font-size="5.5" fill="#222"><text x="249.20" y="610.90"><tspan font-style="italic">R</tspan><tspan font-size="3.7" dy="-2">2</tspan><tspan dy="2"> = 0.22</tspan></text><text x="299.90" y="610.90" text-anchor="end"><tspan font-style="italic">P</tspan> = 0.067</text></g>
<rect x="240.9" y="602.2" width="62.8" height="53.6" fill="none" stroke="#4d4d4d" stroke-width="0.7"/>
<g stroke="#4d4d4d" stroke-width="0.5">
<line x1="243.75" y1="655.8000000000001" x2="243.75" y2="657.8000000000001"/>
<line x1="300.85" y1="655.8000000000001" x2="300.85" y2="657.8000000000001"/>
</g><g font-size="5.4" fill="#4d4d4d" text-anchor="middle">
<text x="243.75" y="662.90">0</text>
<text x="300.85" y="662.90">1</text>
</g>
<text transform="translate(25,542.7) rotate(-90)" font-size="6.9" fill="#111" text-anchor="middle">Predicted AUC</text>
<text x="173.2" y="671.2" font-size="7.3" fill="#111" text-anchor="middle">Normalized AUC</text>
<text x="12.3" y="386.6" font-size="20.3" font-weight="bold" fill="#111">c</text>
<text x="42.7" y="385.9" font-size="12.65" fill="#222">Venetoclax resistance faceted by WHO classes</text>
<g stroke="#ebebeb">
<line x1="411.40" y1="401.0" x2="411.40" y2="652.1" stroke-width="0.8"/>
<line x1="443.67" y1="401.0" x2="443.67" y2="652.1" stroke-width="0.5"/>
<line x1="475.95" y1="401.0" x2="475.95" y2="652.1" stroke-width="0.8"/>
<line x1="508.22" y1="401.0" x2="508.22" y2="652.1" stroke-width="0.5"/>
<line x1="540.50" y1="401.0" x2="540.50" y2="652.1" stroke-width="0.8"/>
<line x1="572.77" y1="401.0" x2="572.77" y2="652.1" stroke-width="0.5"/>
<line x1="605.05" y1="401.0" x2="605.05" y2="652.1" stroke-width="0.8"/>
<line x1="637.32" y1="401.0" x2="637.32" y2="652.1" stroke-width="0.5"/>
<line x1="669.60" y1="401.0" x2="669.60" y2="652.1" stroke-width="0.8"/>
<line x1="398.6" y1="641.30" x2="682.6" y2="641.30" stroke-width="0.8"/>
<line x1="398.6" y1="608.69" x2="682.6" y2="608.69" stroke-width="0.5"/>
<line x1="398.6" y1="576.07" x2="682.6" y2="576.07" stroke-width="0.8"/>
<line x1="398.6" y1="543.46" x2="682.6" y2="543.46" stroke-width="0.5"/>
<line x1="398.6" y1="510.85" x2="682.6" y2="510.85" stroke-width="0.8"/>
<line x1="398.6" y1="478.24" x2="682.6" y2="478.24" stroke-width="0.5"/>
<line x1="398.6" y1="445.62" x2="682.6" y2="445.62" stroke-width="0.8"/>
<line x1="398.6" y1="413.01" x2="682.6" y2="413.01" stroke-width="0.5"/>
</g>
<circle cx="454.1" cy="412.3" r="2.45" fill="#bebebe"/>
<circle cx="451.9" cy="415.6" r="2.45" fill="#bebebe"/>
<circle cx="499.5" cy="437.6" r="2.45" fill="#bebebe"/>
<circle cx="539.2" cy="435.1" r="2.45" fill="#bebebe"/>
<circle cx="438" cy="445.6" r="2.45" fill="#bebebe"/>
<circle cx="435.7" cy="449" r="2.45" fill="#bebebe"/>
<circle cx="452.6" cy="446.5" r="2.45" fill="#bebebe"/>
<circle cx="470.7" cy="444.5" r="2.45" fill="#bebebe"/>
<circle cx="459.3" cy="450.3" r="2.45" fill="#bebebe"/>
<circle cx="440.5" cy="453.2" r="2.45" fill="#bebebe"/>
<circle cx="417.5" cy="457.9" r="2.45" fill="#bebebe"/>
<circle cx="445.6" cy="458.5" r="2.45" fill="#bebebe"/>
<circle cx="457.4" cy="456.4" r="2.45" fill="#bebebe"/>
<circle cx="442.7" cy="463.6" r="2.45" fill="#bebebe"/>
<circle cx="449.4" cy="463.3" r="2.45" fill="#bebebe"/>
<circle cx="427.9" cy="463.8" r="2.45" fill="#bebebe"/>
<circle cx="424.3" cy="467.4" r="2.45" fill="#bebebe"/>
<circle cx="463.3" cy="465.2" r="2.45" fill="#bebebe"/>
<circle cx="434.2" cy="469.9" r="2.45" fill="#bebebe"/>
<circle cx="459.8" cy="470.7" r="2.45" fill="#bebebe"/>
<circle cx="468.4" cy="469.9" r="2.45" fill="#bebebe"/>
<circle cx="456" cy="474.1" r="2.45" fill="#bebebe"/>
<circle cx="455.1" cy="476.9" r="2.45" fill="#bebebe"/>
<circle cx="454.1" cy="479.8" r="2.45" fill="#bebebe"/>
<circle cx="472.6" cy="475.6" r="2.45" fill="#bebebe"/>
<circle cx="478.5" cy="468.4" r="2.45" fill="#bebebe"/>
<circle cx="477.9" cy="453.2" r="2.45" fill="#bebebe"/>
<circle cx="483" cy="452.8" r="2.45" fill="#bebebe"/>
<circle cx="480.7" cy="456.6" r="2.45" fill="#bebebe"/>
<circle cx="487.6" cy="466.5" r="2.45" fill="#bebebe"/>
<circle cx="485.3" cy="481.3" r="2.45" fill="#bebebe"/>
<circle cx="497.6" cy="481.7" r="2.45" fill="#bebebe"/>
<circle cx="507.5" cy="457.4" r="2.45" fill="#bebebe"/>
<circle cx="518.7" cy="450.2" r="2.45" fill="#bebebe"/>
<circle cx="523.1" cy="446.5" r="2.45" fill="#bebebe"/>
<circle cx="503.2" cy="469.9" r="2.45" fill="#bebebe"/>
<circle cx="507.7" cy="471.4" r="2.45" fill="#bebebe"/>
<circle cx="528.8" cy="460.8" r="2.45" fill="#bebebe"/>
<circle cx="536" cy="467.4" r="2.45" fill="#bebebe"/>
<circle cx="537.2" cy="491.2" r="2.45" fill="#bebebe"/>
<circle cx="411.4" cy="487.2" r="2.45" fill="#bebebe"/>
<circle cx="445.2" cy="487.8" r="2.45" fill="#bebebe"/>
<circle cx="447.9" cy="484.9" r="2.45" fill="#bebebe"/>
<circle cx="464.6" cy="485.9" r="2.45" fill="#bebebe"/>
<circle cx="433.2" cy="493.8" r="2.45" fill="#bebebe"/>
<circle cx="471.4" cy="499.2" r="2.45" fill="#bebebe"/>
<circle cx="478.5" cy="502.6" r="2.45" fill="#bebebe"/>
<circle cx="538.3" cy="509.6" r="2.45" fill="#bebebe"/>
<circle cx="550.4" cy="453.3" r="2.45" fill="#bebebe"/>
<circle cx="544.9" cy="469.4" r="2.45" fill="#bebebe"/>
<circle cx="567.4" cy="461.7" r="2.45" fill="#bebebe"/>
<circle cx="588.8" cy="472.7" r="2.45" fill="#bebebe"/>
<circle cx="623.6" cy="479.1" r="2.45" fill="#bebebe"/>
<circle cx="624.6" cy="495.7" r="2.45" fill="#bebebe"/>
<circle cx="548.8" cy="487" r="2.45" fill="#bebebe"/>
<circle cx="546.8" cy="490.9" r="2.45" fill="#bebebe"/>
<circle cx="646.5" cy="460.2" r="2.45" fill="#bebebe"/>
<circle cx="644.9" cy="490.9" r="2.45" fill="#bebebe"/>
<circle cx="669.3" cy="478.7" r="2.45" fill="#bebebe"/>
<circle cx="571.3" cy="504.3" r="2.45" fill="#bebebe"/>
<circle cx="573.6" cy="515.8" r="2.45" fill="#bebebe"/>
<circle cx="606.4" cy="522.8" r="2.45" fill="#bebebe"/>
<circle cx="564" cy="552.1" r="2.45" fill="#bebebe"/>
<circle cx="437" cy="455.1" r="2.45" fill="#c59d91"/>
<circle cx="451.3" cy="457.4" r="2.45" fill="#c59d91"/>
<circle cx="459.8" cy="457.4" r="2.45" fill="#c59d91"/>
<circle cx="454.5" cy="462.1" r="2.45" fill="#c59d91"/>
<circle cx="441.8" cy="471.2" r="2.45" fill="#c59d91"/>
<circle cx="460.4" cy="472.8" r="2.45" fill="#c59d91"/>
<circle cx="497.3" cy="463.1" r="2.45" fill="#c59d91"/>
<circle cx="501.1" cy="459.3" r="2.45" fill="#c59d91"/>
<circle cx="518.5" cy="455.1" r="2.45" fill="#c59d91"/>
<circle cx="515.1" cy="466.9" r="2.45" fill="#c59d91"/>
<circle cx="538.7" cy="519.3" r="2.45" fill="#c59d91"/>
<circle cx="438" cy="536.8" r="2.45" fill="#c59d91"/>
<circle cx="584.9" cy="444.9" r="2.45" fill="#c59d91"/>
<circle cx="561.9" cy="472.7" r="2.45" fill="#c59d91"/>
<circle cx="586.9" cy="477.8" r="2.45" fill="#c59d91"/>
<circle cx="591.2" cy="480.5" r="2.45" fill="#c59d91"/>
<circle cx="604.5" cy="454.7" r="2.45" fill="#c59d91"/>
<circle cx="611.7" cy="455.9" r="2.45" fill="#c59d91"/>
<circle cx="616.8" cy="486" r="2.45" fill="#c59d91"/>
<circle cx="608.4" cy="491.8" r="2.45" fill="#c59d91"/>
<circle cx="610.3" cy="493.4" r="2.45" fill="#c59d91"/>
<circle cx="600.2" cy="493.8" r="2.45" fill="#c59d91"/>
<circle cx="619.1" cy="495.7" r="2.45" fill="#c59d91"/>
<circle cx="563.4" cy="487.5" r="2.45" fill="#c59d91"/>
<circle cx="545.9" cy="484" r="2.45" fill="#c59d91"/>
<circle cx="545.9" cy="495.7" r="2.45" fill="#c59d91"/>
<circle cx="552.7" cy="497.7" r="2.45" fill="#c59d91"/>
<circle cx="655.7" cy="489.3" r="2.45" fill="#c59d91"/>
<circle cx="562.5" cy="499.8" r="2.45" fill="#c59d91"/>
<circle cx="590.4" cy="509" r="2.45" fill="#c59d91"/>
<circle cx="592.4" cy="511.5" r="2.45" fill="#c59d91"/>
<circle cx="622.6" cy="508.2" r="2.45" fill="#c59d91"/>
<circle cx="651.4" cy="506.2" r="2.45" fill="#c59d91"/>
<circle cx="574.8" cy="525.8" r="2.45" fill="#c59d91"/>
<circle cx="429.4" cy="453.6" r="2.45" fill="#cc7e6a"/>
<circle cx="510.2" cy="476.4" r="2.45" fill="#cc7e6a"/>
<circle cx="538.7" cy="482.6" r="2.45" fill="#cc7e6a"/>
<circle cx="573.6" cy="462.5" r="2.45" fill="#cc7e6a"/>
<circle cx="570.3" cy="478.7" r="2.45" fill="#cc7e6a"/>
<circle cx="598.2" cy="466" r="2.45" fill="#cc7e6a"/>
<circle cx="608.8" cy="463.7" r="2.45" fill="#cc7e6a"/>
<circle cx="614.2" cy="469.4" r="2.45" fill="#cc7e6a"/>
<circle cx="616.2" cy="470.3" r="2.45" fill="#cc7e6a"/>
<circle cx="559" cy="485.2" r="2.45" fill="#cc7e6a"/>
<circle cx="565.4" cy="485.4" r="2.45" fill="#cc7e6a"/>
<circle cx="541" cy="483" r="2.45" fill="#cc7e6a"/>
<circle cx="579.7" cy="492.8" r="2.45" fill="#cc7e6a"/>
<circle cx="580.1" cy="496.7" r="2.45" fill="#cc7e6a"/>
<circle cx="571.7" cy="500.7" r="2.45" fill="#cc7e6a"/>
<circle cx="606.4" cy="511.1" r="2.45" fill="#cc7e6a"/>
<circle cx="627.9" cy="500.4" r="2.45" fill="#cc7e6a"/>
<circle cx="655.7" cy="514.4" r="2.45" fill="#cc7e6a"/>
<circle cx="613.3" cy="528.5" r="2.45" fill="#cc7e6a"/>
<circle cx="488.7" cy="428.7" r="2.45" fill="#c95643"/>
<circle cx="478.5" cy="443.9" r="2.45" fill="#c95643"/>
<circle cx="426.6" cy="452.1" r="2.45" fill="#c95643"/>
<circle cx="450.3" cy="460.4" r="2.45" fill="#c95643"/>
<circle cx="451.3" cy="469.9" r="2.45" fill="#c95643"/>
<circle cx="513.4" cy="459.5" r="2.45" fill="#c95643"/>
<circle cx="521.6" cy="482.1" r="2.45" fill="#c95643"/>
<circle cx="534.5" cy="470.3" r="2.45" fill="#c95643"/>
<circle cx="539.2" cy="470.7" r="2.45" fill="#c95643"/>
<circle cx="532.6" cy="485.9" r="2.45" fill="#c95643"/>
<circle cx="617.7" cy="641.7" r="2.45" fill="#c95643"/>
<circle cx="553.7" cy="460.6" r="2.45" fill="#c95643"/>
<circle cx="542" cy="464.9" r="2.45" fill="#c95643"/>
<circle cx="573.8" cy="459.6" r="2.45" fill="#c95643"/>
<circle cx="567.9" cy="472.3" r="2.45" fill="#c95643"/>
<circle cx="570.7" cy="476.6" r="2.45" fill="#c95643"/>
<circle cx="590.4" cy="475.8" r="2.45" fill="#c95643"/>
<circle cx="594.3" cy="473.3" r="2.45" fill="#c95643"/>
<circle cx="596.3" cy="477.2" r="2.45" fill="#c95643"/>
<circle cx="627.3" cy="470.7" r="2.45" fill="#c95643"/>
<circle cx="605.1" cy="486.6" r="2.45" fill="#c95643"/>
<circle cx="611.3" cy="489.5" r="2.45" fill="#c95643"/>
<circle cx="615.2" cy="495.3" r="2.45" fill="#c95643"/>
<circle cx="581" cy="483.4" r="2.45" fill="#c95643"/>
<circle cx="550.7" cy="483.6" r="2.45" fill="#c95643"/>
<circle cx="541" cy="489.9" r="2.45" fill="#c95643"/>
<circle cx="643.6" cy="464.5" r="2.45" fill="#c95643"/>
<circle cx="644.1" cy="497.1" r="2.45" fill="#c95643"/>
<circle cx="667.4" cy="483.4" r="2.45" fill="#c95643"/>
<circle cx="579.1" cy="502.1" r="2.45" fill="#c95643"/>
<circle cx="591.4" cy="500.7" r="2.45" fill="#c95643"/>
<circle cx="565.4" cy="508.2" r="2.45" fill="#c95643"/>
<circle cx="549.8" cy="515.4" r="2.45" fill="#c95643"/>
<circle cx="554.3" cy="515.8" r="2.45" fill="#c95643"/>
<circle cx="609.4" cy="508.2" r="2.45" fill="#c95643"/>
<circle cx="624.4" cy="517.4" r="2.45" fill="#c95643"/>
<circle cx="641.6" cy="520.7" r="2.45" fill="#c95643"/>
<circle cx="652.3" cy="525.2" r="2.45" fill="#c95643"/>
<circle cx="651.4" cy="528.1" r="2.45" fill="#c95643"/>
<circle cx="668.4" cy="560" r="2.45" fill="#c95643"/>
<circle cx="611.7" cy="550" r="2.45" fill="#c95643"/>
<circle cx="594.7" cy="548.2" r="2.45" fill="#c95643"/>
<circle cx="565.4" cy="537.3" r="2.45" fill="#c95643"/>
<circle cx="529.7" cy="497.3" r="2.45" fill="#c32928"/>
<circle cx="529.9" cy="505.8" r="2.45" fill="#c32928"/>
<circle cx="535.3" cy="508.7" r="2.45" fill="#c32928"/>
<circle cx="538.7" cy="560.9" r="2.45" fill="#c32928"/>
<circle cx="531.1" cy="588.5" r="2.45" fill="#c32928"/>
<circle cx="588.5" cy="490.9" r="2.45" fill="#c32928"/>
<circle cx="583.4" cy="504.1" r="2.45" fill="#c32928"/>
<circle cx="598.6" cy="504.7" r="2.45" fill="#c32928"/>
<circle cx="588.8" cy="518.3" r="2.45" fill="#c32928"/>
<circle cx="616.8" cy="510.5" r="2.45" fill="#c32928"/>
<circle cx="626.6" cy="509.5" r="2.45" fill="#c32928"/>
<circle cx="628.9" cy="507.6" r="2.45" fill="#c32928"/>
<circle cx="669.3" cy="504.1" r="2.45" fill="#c32928"/>
<circle cx="669.3" cy="522.8" r="2.45" fill="#c32928"/>
<circle cx="654.7" cy="530.1" r="2.45" fill="#c32928"/>
<circle cx="620.5" cy="525.6" r="2.45" fill="#c32928"/>
<circle cx="620.7" cy="536.5" r="2.45" fill="#c32928"/>
<circle cx="626.6" cy="541.2" r="2.45" fill="#c32928"/>
<circle cx="629.9" cy="541.2" r="2.45" fill="#c32928"/>
<circle cx="639.3" cy="547.1" r="2.45" fill="#c32928"/>
<circle cx="652.7" cy="544.3" r="2.45" fill="#c32928"/>
<circle cx="654.7" cy="546.7" r="2.45" fill="#c32928"/>
<circle cx="623" cy="565.2" r="2.45" fill="#c32928"/>
<circle cx="598.2" cy="551.7" r="2.45" fill="#c32928"/>
<circle cx="580.1" cy="524.6" r="2.45" fill="#c32928"/>
<circle cx="556.6" cy="528.5" r="2.45" fill="#c32928"/>
<circle cx="576.1" cy="570.5" r="2.45" fill="#c32928"/>
<rect x="398.6" y="401.0" width="284.0" height="251.10000000000002" fill="none" stroke="#4d4d4d" stroke-width="0.9"/>
<g stroke="#4d4d4d" stroke-width="0.7">
<line x1="411.40" y1="652.1" x2="411.40" y2="654.6"/>
<line x1="395.8" y1="641.30" x2="398.6" y2="641.30"/>
<line x1="475.95" y1="652.1" x2="475.95" y2="654.6"/>
<line x1="395.8" y1="576.07" x2="398.6" y2="576.07"/>
<line x1="540.50" y1="652.1" x2="540.50" y2="654.6"/>
<line x1="395.8" y1="510.85" x2="398.6" y2="510.85"/>
<line x1="605.05" y1="652.1" x2="605.05" y2="654.6"/>
<line x1="395.8" y1="445.62" x2="398.6" y2="445.62"/>
<line x1="669.60" y1="652.1" x2="669.60" y2="654.6"/>
</g>
<g font-size="6.6" fill="#4d4d4d" text-anchor="middle">
<text x="411.40" y="661.9">0.00</text>
<text x="475.95" y="661.9">0.25</text>
<text x="540.50" y="661.9">0.50</text>
<text x="605.05" y="661.9">0.75</text>
<text x="669.60" y="661.9">1.00</text>
</g><g font-size="6.6" fill="#4d4d4d" text-anchor="end">
<text x="395.2" y="643.40">0.0</text>
<text x="395.2" y="578.17">2.5</text>
<text x="395.2" y="512.95">5.0</text>
<text x="395.2" y="447.72">7.5</text>
</g>
<g font-size="7.8" fill="#111" text-anchor="middle">
<text x="540.7" y="671.3">Venetoclax Resistance</text>
<text x="540.7" y="679.2">(Normalized AUC)</text>
<text transform="translate(373.5,526.7) rotate(-90)" font-size="8.05">BCL2 Expression</text>
<text transform="translate(382.4,527) rotate(-90)">(cpm)</text>
</g>
<defs><linearGradient id="cd14" x1="0" y1="1" x2="0" y2="0">
<stop offset="0" stop-color="#bebebe"/>
<stop offset="0.25" stop-color="#c4a196"/>
<stop offset="0.5" stop-color="#cc7e6a"/>
<stop offset="0.75" stop-color="#c9513e"/>
<stop offset="1.0" stop-color="#c0161e"/>
</linearGradient></defs>
<text x="694.6" y="498.9" font-size="7.8" fill="#111">CD14 Mono</text>
<rect x="694.2" y="503.9" width="11.6" height="57.6" fill="url(#cd14)"/>
<g stroke="#fff" stroke-width="0.5" opacity="0.8">
<line x1="694.2" y1="547.10" x2="696.6" y2="547.10"/><line x1="703.4" y1="547.10" x2="705.8" y2="547.10"/>
<line x1="694.2" y1="532.70" x2="696.6" y2="532.70"/><line x1="703.4" y1="532.70" x2="705.8" y2="532.70"/>
<line x1="694.2" y1="518.30" x2="696.6" y2="518.30"/><line x1="703.4" y1="518.30" x2="705.8" y2="518.30"/>
</g>
<g font-size="6.2" fill="#222">
<text x="709.6" y="563.90">0.00</text>
<text x="709.6" y="549.60">0.25</text>
<text x="709.6" y="535.30">0.50</text>
<text x="709.6" y="521.00">0.75</text>
<text x="709.6" y="506.70">1.00</text>
</g>
<text x="365.3" y="387.3" font-size="20.3" font-weight="bold" fill="#111">d</text>
<text x="396.1" y="386.3" font-size="12.65" fill="#222">BCL2 expression and Venetoclax resistance</text>
<g stroke="#ebebeb">
<line x1="45.70" y1="739.0" x2="45.70" y2="949.8" stroke-width="0.8"/>
<line x1="82.65" y1="739.0" x2="82.65" y2="949.8" stroke-width="0.5"/>
<line x1="119.60" y1="739.0" x2="119.60" y2="949.8" stroke-width="0.8"/>
<line x1="156.55" y1="739.0" x2="156.55" y2="949.8" stroke-width="0.5"/>
<line x1="193.50" y1="739.0" x2="193.50" y2="949.8" stroke-width="0.8"/>
<line x1="230.45" y1="739.0" x2="230.45" y2="949.8" stroke-width="0.5"/>
<line x1="267.40" y1="739.0" x2="267.40" y2="949.8" stroke-width="0.8"/>
<line x1="304.35" y1="739.0" x2="304.35" y2="949.8" stroke-width="0.5"/>
<line x1="39.2" y1="941.20" x2="322.3" y2="941.20" stroke-width="0.8"/>
<line x1="39.2" y1="914.10" x2="322.3" y2="914.10" stroke-width="0.5"/>
<line x1="39.2" y1="887.00" x2="322.3" y2="887.00" stroke-width="0.8"/>
<line x1="39.2" y1="859.90" x2="322.3" y2="859.90" stroke-width="0.5"/>
<line x1="39.2" y1="832.80" x2="322.3" y2="832.80" stroke-width="0.8"/>
<line x1="39.2" y1="805.70" x2="322.3" y2="805.70" stroke-width="0.5"/>
<line x1="39.2" y1="778.60" x2="322.3" y2="778.60" stroke-width="0.8"/>
<line x1="39.2" y1="751.50" x2="322.3" y2="751.50" stroke-width="0.5"/>
</g>
<line x1="39.2" y1="919.3" x2="322.3" y2="919.3" stroke="#e8474a" stroke-width="0.7" stroke-dasharray="1.2,1.6"/>
<text x="51.8" y="917.1" font-size="6.7" fill="#e8474a">FDR = 0.01</text>
<circle cx="51.8" cy="935.6" r="1.8" fill="#000"/>
<circle cx="113.7" cy="936.4" r="1.8" fill="#000"/>
<circle cx="122.6" cy="929.7" r="2.1" fill="#000"/>
<circle cx="140.5" cy="936.4" r="1.8" fill="#000"/>
<circle cx="152.1" cy="929.7" r="2.1" fill="#000"/>
<circle cx="157.6" cy="929.7" r="2.1" fill="#000"/>
<circle cx="167.1" cy="936.3" r="1.8" fill="#000"/>
<circle cx="169.5" cy="929.8" r="2.1" fill="#000"/>
<circle cx="172.3" cy="919.2" r="2.4" fill="#000"/>
<circle cx="187.9" cy="919.8" r="2.4" fill="#000"/>
<circle cx="186" cy="926.4" r="2.2" fill="#000"/>
<circle cx="191.9" cy="926.2" r="2.2" fill="#000"/>
<circle cx="181.3" cy="929.2" r="2.1" fill="#000"/>
<circle cx="190.7" cy="930.7" r="2.0" fill="#000"/>
<circle cx="195.8" cy="933.3" r="2.0" fill="#000"/>
<circle cx="206.2" cy="930.4" r="2.2" fill="#000"/>
<circle cx="191.9" cy="935.6" r="1.8" fill="#000"/>
<circle cx="202.3" cy="936.3" r="1.8" fill="#000"/>
<circle cx="178.8" cy="940.5" r="1.4" fill="#000"/>
<circle cx="183.2" cy="939.6" r="1.4" fill="#000"/>
<circle cx="189.5" cy="939.6" r="1.6" fill="#000"/>
<circle cx="191.5" cy="940.4" r="1.6" fill="#000"/>
<circle cx="193.5" cy="941" r="1.6" fill="#000"/>
<circle cx="195.5" cy="940.6" r="1.6" fill="#000"/>
<circle cx="197.6" cy="939.8" r="1.6" fill="#000"/>
<circle cx="204" cy="939.4" r="1.5" fill="#000"/>
<circle cx="206.3" cy="939.6" r="1.5" fill="#000"/>
<circle cx="208.7" cy="939.6" r="1.5" fill="#000"/>
<circle cx="284.4" cy="940.2" r="1.3" fill="#000"/>
<circle cx="310" cy="939.4" r="1.5" fill="#000"/>
<circle cx="178.5" cy="884.9" r="2.8" fill="#000"/>
<circle cx="193.6" cy="884.9" r="2.8" fill="#000"/>
<circle cx="190.1" cy="796.4" r="3.8" fill="#000"/>
<circle cx="206.8" cy="748.4" r="4.2" fill="#000"/>
<line x1="200.2" y1="754.6" x2="204.3" y2="751" stroke="#000" stroke-width="0.6"/>
<g font-size="8.5" fill="#222">
<text x="172" y="762.2">CD14.Mono</text>
<text x="169.8" y="807.9">BCL2</text>
<text x="155.9" y="888.3">EMP</text>
<text x="198" y="888.3">Blast</text>
<text x="145.4" y="915.6">T.Cells</text>
</g>
<rect x="39.2" y="739.0" width="283.1" height="210.79999999999995" fill="none" stroke="#4d4d4d" stroke-width="0.9"/>
<g stroke="#4d4d4d" stroke-width="0.7">
<line x1="45.70" y1="949.8" x2="45.70" y2="952.3"/>
<line x1="119.60" y1="949.8" x2="119.60" y2="952.3"/>
<line x1="193.50" y1="949.8" x2="193.50" y2="952.3"/>
<line x1="267.40" y1="949.8" x2="267.40" y2="952.3"/>
<line x1="36.7" y1="941.20" x2="39.2" y2="941.20"/>
<line x1="36.7" y1="887.00" x2="39.2" y2="887.00"/>
<line x1="36.7" y1="832.80" x2="39.2" y2="832.80"/>
<line x1="36.7" y1="778.60" x2="39.2" y2="778.60"/>
</g>
<g font-size="6.4" fill="#4d4d4d" text-anchor="middle">
<text x="45.70" y="959.9">−5.0</text>
<text x="119.60" y="959.9">−2.5</text>
<text x="193.50" y="959.9">0.0</text>
<text x="267.40" y="959.9">2.5</text>
</g><g font-size="6.4" fill="#4d4d4d" text-anchor="end">
<text x="35.3" y="943.30">0</text>
<text x="35.3" y="889.10">5</text>
<text x="35.3" y="834.90">10</text>
<text x="35.3" y="780.70">15</text>
</g>
<text x="180.8" y="970" font-size="8.4" fill="#111" text-anchor="middle">Effect Size</text>
<text transform="translate(24,845.5) rotate(-90)" font-size="8.4" fill="#111" text-anchor="middle">−log10(adj. p)</text>
<text x="115.2" y="992.7" font-size="8.4" fill="#111">−log10(adj. p)</text>
<circle cx="178.6" cy="990.2" r="2.6" fill="#000"/>
<text x="188.6" y="992.3" font-size="6.5" fill="#222">5</text>
<circle cx="202" cy="990.2" r="3.7" fill="#000"/>
<text x="212.5" y="992.3" font-size="6.5" fill="#222">10</text>
<circle cx="229.4" cy="990.2" r="4.4" fill="#000"/>
<text x="239.4" y="992.3" font-size="6.5" fill="#222">15</text>
<text x="10.4" y="727.1" font-size="20.3" font-weight="bold" fill="#111">e</text>
<text x="42.2" y="725.6" font-size="12.65" fill="#222">Univariate analysis for Venetoclax resistance</text>
<g stroke="#ebebeb">
<line x1="413.10" y1="739.2" x2="413.10" y2="947.6" stroke-width="0.5"/>
<line x1="455.70" y1="739.2" x2="455.70" y2="947.6" stroke-width="0.8"/>
<line x1="498.30" y1="739.2" x2="498.30" y2="947.6" stroke-width="0.5"/>
<line x1="540.90" y1="739.2" x2="540.90" y2="947.6" stroke-width="0.8"/>
<line x1="583.50" y1="739.2" x2="583.50" y2="947.6" stroke-width="0.5"/>
<line x1="626.10" y1="739.2" x2="626.10" y2="947.6" stroke-width="0.8"/>
<line x1="668.70" y1="739.2" x2="668.70" y2="947.6" stroke-width="0.5"/>
<line x1="396.0" y1="939.10" x2="680.3" y2="939.10" stroke-width="0.8"/>
<line x1="396.0" y1="919.45" x2="680.3" y2="919.45" stroke-width="0.5"/>
<line x1="396.0" y1="899.80" x2="680.3" y2="899.80" stroke-width="0.8"/>
<line x1="396.0" y1="880.15" x2="680.3" y2="880.15" stroke-width="0.5"/>
<line x1="396.0" y1="860.50" x2="680.3" y2="860.50" stroke-width="0.8"/>
<line x1="396.0" y1="840.85" x2="680.3" y2="840.85" stroke-width="0.5"/>
<line x1="396.0" y1="821.20" x2="680.3" y2="821.20" stroke-width="0.8"/>
<line x1="396.0" y1="801.55" x2="680.3" y2="801.55" stroke-width="0.5"/>
<line x1="396.0" y1="781.90" x2="680.3" y2="781.90" stroke-width="0.8"/>
<line x1="396.0" y1="762.25" x2="680.3" y2="762.25" stroke-width="0.5"/>
<line x1="396.0" y1="742.60" x2="680.3" y2="742.60" stroke-width="0.8"/>
</g>
<line x1="396.0" y1="860.4" x2="680.3" y2="860.4" stroke="#e8474a" stroke-width="0.7" stroke-dasharray="1.2,1.6"/>
<text x="409.8" y="855.6" font-size="6.7" fill="#e8474a">p = 0.01</text>
<circle cx="409.3" cy="909.6" r="2.3" fill="#000"/>
<circle cx="418.3" cy="914.6" r="2.1" fill="#000"/>
<circle cx="511.4" cy="909.1" r="2.4" fill="#000"/>
<circle cx="503.5" cy="920.5" r="2.1" fill="#000"/>
<circle cx="540.8" cy="908.6" r="2.4" fill="#000"/>
<circle cx="540.8" cy="921.5" r="2.1" fill="#000"/>
<circle cx="530.9" cy="924.5" r="2.1" fill="#000"/>
<circle cx="534.3" cy="932.5" r="1.8" fill="#000"/>
<circle cx="525.4" cy="936.5" r="1.6" fill="#000"/>
<circle cx="529.4" cy="937.5" r="1.3" fill="#000"/>
<circle cx="536.8" cy="938" r="1.3" fill="#000"/>
<circle cx="549.3" cy="938.5" r="1.2" fill="#000"/>
<circle cx="552.8" cy="938.5" r="1.2" fill="#000"/>
<circle cx="578.2" cy="933" r="1.6" fill="#000"/>
<circle cx="607.5" cy="929.5" r="1.9" fill="#000"/>
<circle cx="611" cy="926" r="1.9" fill="#000"/>
<circle cx="522.9" cy="869.2" r="3.2" fill="#000"/>
<circle cx="597.6" cy="825.4" r="3.7" fill="#000"/>
<circle cx="667.3" cy="748.2" r="4.5" fill="#000"/>
<line x1="509.6" y1="880.6" x2="520.6" y2="871.4" stroke="#000" stroke-width="0.6"/>
<line x1="599.6" y1="822.6" x2="602.2" y2="820" stroke="#000" stroke-width="0.6"/>
<g font-size="8.5" fill="#222">
<text x="661.3" y="749.2" text-anchor="end">CD14.Mono</text>
<text x="601.6" y="821">Sexmale</text>
<text x="488" y="884.7">BCL2</text>
</g>
<rect x="396.0" y="739.2" width="284.29999999999995" height="208.39999999999998" fill="none" stroke="#4d4d4d" stroke-width="0.9"/>
<g stroke="#4d4d4d" stroke-width="0.7">
<line x1="455.70" y1="947.6" x2="455.70" y2="950.1"/>
<line x1="540.90" y1="947.6" x2="540.90" y2="950.1"/>
<line x1="626.10" y1="947.6" x2="626.10" y2="950.1"/>
<line x1="393.5" y1="939.10" x2="396.0" y2="939.10"/>
<line x1="393.5" y1="899.80" x2="396.0" y2="899.80"/>
<line x1="393.5" y1="860.50" x2="396.0" y2="860.50"/>
<line x1="393.5" y1="821.20" x2="396.0" y2="821.20"/>
<line x1="393.5" y1="781.90" x2="396.0" y2="781.90"/>
<line x1="393.5" y1="742.60" x2="396.0" y2="742.60"/>
</g>
<g font-size="6.4" fill="#4d4d4d" text-anchor="middle">
<text x="455.70" y="957.7">−0.2</text>
<text x="540.90" y="957.7">0.0</text>
<text x="626.10" y="957.7">0.2</text>
</g><g font-size="6.4" fill="#4d4d4d" text-anchor="end">
<text x="392.6" y="941.20">0</text>
<text x="392.6" y="901.90">1</text>
<text x="392.6" y="862.60">2</text>
<text x="392.6" y="823.30">3</text>
<text x="392.6" y="784.00">4</text>
<text x="392.6" y="744.70">5</text>
</g>
<text x="538.3" y="967" font-size="8.4" fill="#111" text-anchor="middle">Effect Size</text>
<text transform="translate(386.3,844.3) rotate(-90)" font-size="8.4" fill="#111" text-anchor="middle">−log10(p)</text>
<text x="474.6" y="989.8" font-size="8.4" fill="#111">−log10(p)</text>
<circle cx="519.4" cy="986.8" r="2.0" fill="#000"/>
<text x="530" y="988.9" font-size="6.5" fill="#222">1</text>
<circle cx="542.8" cy="986.8" r="2.7" fill="#000"/>
<text x="553" y="988.9" font-size="6.5" fill="#222">2</text>
<circle cx="565.7" cy="986.8" r="3.4" fill="#000"/>
<text x="576.5" y="988.9" font-size="6.5" fill="#222">3</text>
<circle cx="589.1" cy="986.8" r="4.1" fill="#000"/>
<text x="600" y="988.9" font-size="6.5" fill="#222">4</text>
<text x="367.6" y="727.8" font-size="20.3" font-weight="bold" fill="#111">f</text>
<text x="396.1" y="725.2" font-size="12.65" fill="#222">Multivariate analysis for Venetoclax resistance</text>
</svg></body></html>
